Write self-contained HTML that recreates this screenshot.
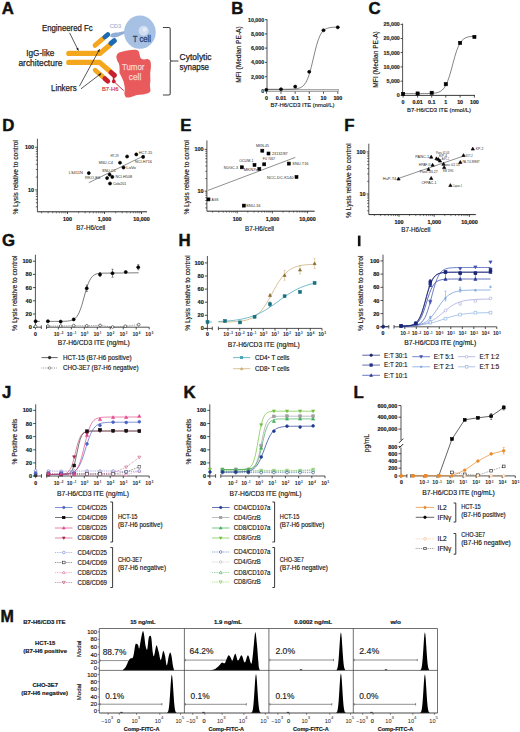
<!DOCTYPE html>
<html><head><meta charset="utf-8"><title>Figure</title>
<style>
html,body{margin:0;padding:0;background:#fff;}
body{width:520px;height:732px;overflow:hidden;}
svg{display:block;font-family:"Liberation Sans", sans-serif;}
</style></head>
<body>
<svg width="520" height="732" viewBox="0 0 520 732">
<rect width="520" height="732" fill="#fff"/>
<text x="1.80" y="13.50" font-size="16.8" font-weight="bold" fill="#111" style="stroke:#111;stroke-width:0.45">A</text>
<path d="M110.2,36.4 C110.6,33.6 113.5,32.6 116.5,32.6 C119,32.6 121,31.6 123.5,31.2 L125.5,31.0 L125.5,33.6 C123,34.2 121,35.4 118.5,36.4 C115.5,37.6 112.5,38.2 110.2,36.4 Z" fill="#8FADD6"/>
<ellipse cx="139.9" cy="32.2" rx="15.8" ry="16.6" fill="#A7C1E4"/>
<circle cx="143.6" cy="30.8" r="5.0" fill="#CFDDF1"/>
<circle cx="144.6" cy="29.6" r="2.2" fill="#E4ECF8"/>
<text x="132.80" y="41.80" font-size="8.4" fill="#2B4468" textLength="18.2" lengthAdjust="spacingAndGlyphs" style="stroke:#2B4468;stroke-width:0.3">T cell</text>
<text x="109.80" y="28.30" font-size="6.2" fill="#A3B6D2" textLength="11.3" lengthAdjust="spacingAndGlyphs" style="stroke:#A3B6D2;stroke-width:0.15">CD3</text>
<path d="M116.30,56.50 C116.57,55.98 116.87,54.22 117.90,53.40 C118.93,52.58 120.62,52.12 122.50,51.60 C124.38,51.08 127.03,50.60 129.20,50.30 C131.37,50.00 133.93,49.63 135.50,49.80 C137.07,49.97 137.92,50.50 138.60,51.30 C139.28,52.10 139.23,53.43 139.60,54.60 C139.97,55.77 140.12,57.50 140.80,58.30 C141.48,59.10 142.50,59.25 143.70,59.40 C144.90,59.55 146.88,58.88 148.00,59.20 C149.12,59.52 149.92,59.98 150.40,61.30 C150.88,62.62 150.93,65.02 150.90,67.10 C150.87,69.18 150.28,71.55 150.20,73.80 C150.12,76.05 150.45,78.67 150.40,80.60 C150.35,82.53 149.90,83.80 149.90,85.40 C149.90,87.00 150.63,88.92 150.40,90.20 C150.17,91.48 149.78,92.38 148.50,93.10 C147.22,93.82 144.63,94.18 142.70,94.50 C140.77,94.82 138.82,94.60 136.90,95.00 C134.98,95.40 132.97,96.50 131.20,96.90 C129.43,97.30 127.43,97.88 126.30,97.40 C125.17,96.92 124.63,95.37 124.40,94.00 C124.17,92.63 124.90,90.63 124.90,89.20 C124.90,87.77 124.63,86.68 124.40,85.40 C124.17,84.12 123.98,82.95 123.50,81.50 C123.02,80.05 122.15,78.13 121.50,76.70 C120.85,75.27 119.92,74.18 119.60,72.90 C119.28,71.62 119.68,70.45 119.60,69.00 C119.52,67.55 119.50,65.63 119.10,64.20 C118.70,62.77 117.67,61.68 117.20,60.40 C116.73,59.12 116.45,57.15 116.30,56.50 Z" fill="#E95A5D"/>
<text x="122.00" y="70.00" font-size="8.4" fill="#F8D2D2" textLength="22.4" lengthAdjust="spacingAndGlyphs" style="stroke:#F8D2D2;stroke-width:0.25">Tumor</text>
<text x="128.80" y="80.30" font-size="8.4" fill="#F8D2D2" textLength="12.5" lengthAdjust="spacingAndGlyphs" style="stroke:#F8D2D2;stroke-width:0.25">cell</text>
<path d="M68.8,53.4 L99.8,53.4 L109.8,45.0" stroke="#F4A71D" stroke-width="5.2" fill="none" stroke-linecap="round" stroke-linejoin="round"/>
<path d="M111.2,43.2 L114.2,40.8" stroke="#1C6AB4" stroke-width="5.2" fill="none" stroke-linecap="round" stroke-linejoin="round"/>
<path d="M95.0,45.4 L103.2,38.4" stroke="#F4A71D" stroke-width="4.8" fill="none" stroke-linecap="round" stroke-linejoin="round"/>
<path d="M104.8,37.0 L107.8,34.6" stroke="#1C6AB4" stroke-width="4.8" fill="none" stroke-linecap="round" stroke-linejoin="round"/>
<path d="M68.8,62.4 L99.6,62.4 L109.6,71.0" stroke="#F4A71D" stroke-width="5.2" fill="none" stroke-linecap="round" stroke-linejoin="round"/>
<path d="M111.2,72.6 L114.2,75.2" stroke="#C8202F" stroke-width="5.2" fill="none" stroke-linecap="round" stroke-linejoin="round"/>
<path d="M95.2,70.2 L103.0,77.0" stroke="#F4A71D" stroke-width="4.8" fill="none" stroke-linecap="round" stroke-linejoin="round"/>
<path d="M104.8,78.6 L107.8,81.2" stroke="#C8202F" stroke-width="4.8" fill="none" stroke-linecap="round" stroke-linejoin="round"/>
<line x1="113.60" y1="77.00" x2="113.60" y2="80.50" stroke="#C8202F" stroke-width="1.6"/>
<circle cx="113.8" cy="81.4" r="1.9" fill="#C8202F"/>
<line x1="114.80" y1="82.40" x2="123.80" y2="90.80" stroke="#C8202F" stroke-width="0.9"/>
<text x="102.00" y="91.00" font-size="5.6" fill="#D0303A" textLength="16.4" lengthAdjust="spacingAndGlyphs" style="stroke:#D0303A;stroke-width:0.15">B7-H6</text>
<text x="42.00" y="30.60" font-size="9.0" fill="#222" textLength="50.6" lengthAdjust="spacingAndGlyphs" style="stroke:#222;stroke-width:0.25">Engineered Fc</text>
<text x="26.20" y="55.60" font-size="9.0" fill="#222" textLength="28.2" lengthAdjust="spacingAndGlyphs" style="stroke:#222;stroke-width:0.25">IgG-like</text>
<text x="18.40" y="66.30" font-size="9.0" fill="#222" textLength="44.0" lengthAdjust="spacingAndGlyphs" style="stroke:#222;stroke-width:0.25">architecture</text>
<text x="51.00" y="91.00" font-size="9.0" fill="#222" textLength="25.6" lengthAdjust="spacingAndGlyphs" style="stroke:#222;stroke-width:0.25">Linkers</text>
<line x1="69.60" y1="32.80" x2="78.40" y2="50.60" stroke="#111" stroke-width="0.7"/>
<path d="M78.40,50.60 L76.17,48.80 L78.32,47.74 Z" fill="#111"/>
<line x1="79.40" y1="86.20" x2="99.60" y2="49.20" stroke="#111" stroke-width="0.7"/>
<path d="M99.60,49.20 L99.41,52.06 L97.30,50.91 Z" fill="#111"/>
<line x1="81.00" y1="88.80" x2="101.20" y2="73.40" stroke="#111" stroke-width="0.7"/>
<path d="M101.20,73.40 L99.86,75.93 L98.40,74.02 Z" fill="#111"/>
<path d="M162.9,27.5 L168.8,27.5 Q170.2,27.5 170.2,29 L170.2,59.6 Q170.2,61 172,61 L178.4,61 M172,61 Q170.2,61 170.2,62.4 L170.2,93.5 Q170.2,95 168.8,95 L162.9,95" stroke="#444" stroke-width="1.1" fill="none"/>
<text x="179.60" y="59.80" font-size="8.9" fill="#222" textLength="32.0" lengthAdjust="spacingAndGlyphs" style="stroke:#222;stroke-width:0.25">Cytolytic</text>
<text x="179.60" y="69.50" font-size="8.9" fill="#222" textLength="29.4" lengthAdjust="spacingAndGlyphs" style="stroke:#222;stroke-width:0.25">synapse</text>
<text x="231.20" y="13.50" font-size="16.8" font-weight="bold" fill="#111" style="stroke:#111;stroke-width:0.45">B</text>
<line x1="267.00" y1="19.20" x2="267.00" y2="91.60" stroke="#262626" stroke-width="0.8"/>
<line x1="265.00" y1="19.70" x2="267.00" y2="19.70" stroke="#262626" stroke-width="0.8"/>
<text x="264.20" y="21.61" font-size="5.3" font-weight="bold" text-anchor="end" fill="#262626" style="stroke:#262626;stroke-width:0.15">10,000</text>
<line x1="265.00" y1="33.90" x2="267.00" y2="33.90" stroke="#262626" stroke-width="0.8"/>
<text x="264.20" y="35.81" font-size="5.3" font-weight="bold" text-anchor="end" fill="#262626" style="stroke:#262626;stroke-width:0.15">8,000</text>
<line x1="265.00" y1="48.10" x2="267.00" y2="48.10" stroke="#262626" stroke-width="0.8"/>
<text x="264.20" y="50.01" font-size="5.3" font-weight="bold" text-anchor="end" fill="#262626" style="stroke:#262626;stroke-width:0.15">6,000</text>
<line x1="265.00" y1="62.40" x2="267.00" y2="62.40" stroke="#262626" stroke-width="0.8"/>
<text x="264.20" y="64.31" font-size="5.3" font-weight="bold" text-anchor="end" fill="#262626" style="stroke:#262626;stroke-width:0.15">4,000</text>
<line x1="265.00" y1="76.70" x2="267.00" y2="76.70" stroke="#262626" stroke-width="0.8"/>
<text x="264.20" y="78.61" font-size="5.3" font-weight="bold" text-anchor="end" fill="#262626" style="stroke:#262626;stroke-width:0.15">2,000</text>
<line x1="265.00" y1="90.80" x2="267.00" y2="90.80" stroke="#262626" stroke-width="0.8"/>
<text x="264.20" y="92.71" font-size="5.3" font-weight="bold" text-anchor="end" fill="#262626" style="stroke:#262626;stroke-width:0.15">0</text>
<rect x="267.0" y="89.5" width="71.4" height="2.1" fill="#dcdcdc" stroke="#666" stroke-width="0.5"/>
<line x1="266.60" y1="91.60" x2="266.60" y2="93.80" stroke="#262626" stroke-width="0.8"/>
<text x="266.60" y="99.60" font-size="5.3" font-weight="bold" text-anchor="middle" fill="#141414" style="stroke:#141414;stroke-width:0.15">0</text>
<line x1="281.00" y1="91.60" x2="281.00" y2="93.80" stroke="#262626" stroke-width="0.8"/>
<text x="281.00" y="99.60" font-size="5.3" font-weight="bold" text-anchor="middle" fill="#141414" style="stroke:#141414;stroke-width:0.15">0.01</text>
<line x1="295.20" y1="91.60" x2="295.20" y2="93.80" stroke="#262626" stroke-width="0.8"/>
<text x="295.20" y="99.60" font-size="5.3" font-weight="bold" text-anchor="middle" fill="#141414" style="stroke:#141414;stroke-width:0.15">0.1</text>
<line x1="309.30" y1="91.60" x2="309.30" y2="93.80" stroke="#262626" stroke-width="0.8"/>
<text x="309.30" y="99.60" font-size="5.3" font-weight="bold" text-anchor="middle" fill="#141414" style="stroke:#141414;stroke-width:0.15">1</text>
<line x1="323.50" y1="91.60" x2="323.50" y2="93.80" stroke="#262626" stroke-width="0.8"/>
<text x="323.50" y="99.60" font-size="5.3" font-weight="bold" text-anchor="middle" fill="#141414" style="stroke:#141414;stroke-width:0.15">10</text>
<line x1="337.80" y1="91.60" x2="337.80" y2="93.80" stroke="#262626" stroke-width="0.8"/>
<text x="337.80" y="99.60" font-size="5.3" font-weight="bold" text-anchor="middle" fill="#141414" style="stroke:#141414;stroke-width:0.15">100</text>
<text x="302.40" y="107.20" font-size="5.9" text-anchor="middle" fill="#141414" textLength="64" lengthAdjust="spacingAndGlyphs" style="stroke:#141414;stroke-width:0.15">B7-H6/CD3 ITE (nmol/L)</text>
<text x="241.10" y="54.50" font-size="6.6" text-anchor="middle" fill="#141414" transform="rotate(-90 241.10 54.50)" style="stroke:#141414;stroke-width:0.15">MFI (Median PE-A)</text>
<path d="M266.60,89.30 L268.39,89.30 L270.17,89.30 L271.96,89.30 L273.74,89.30 L275.53,89.30 L277.31,89.30 L279.10,89.30 L280.88,89.29 L282.67,89.29 L284.45,89.28 L286.24,89.27 L288.02,89.25 L289.81,89.21 L291.59,89.15 L293.38,89.06 L295.16,88.91 L296.94,88.66 L298.73,88.26 L300.51,87.61 L302.30,86.57 L304.09,84.94 L305.87,82.45 L307.66,78.80 L309.44,73.74 L311.23,67.28 L313.01,59.84 L314.80,52.19 L316.58,45.22 L318.37,39.53 L320.15,35.28 L321.94,32.32 L323.72,30.35 L325.50,29.09 L327.29,28.29 L329.07,27.79 L330.86,27.48 L332.64,27.30 L334.43,27.18 L336.22,27.11 L338.00,27.07" stroke="#333" stroke-width="0.6" fill="none"/>
<circle cx="266.30" cy="89.80" r="1.55" fill="#000" stroke="#000" stroke-width="0.6"/>
<circle cx="281.00" cy="89.20" r="1.55" fill="#000" stroke="#000" stroke-width="0.6"/>
<circle cx="295.20" cy="86.60" r="1.55" fill="#000" stroke="#000" stroke-width="0.6"/>
<circle cx="309.20" cy="71.80" r="1.55" fill="#000" stroke="#000" stroke-width="0.6"/>
<circle cx="323.50" cy="30.30" r="1.55" fill="#000" stroke="#000" stroke-width="0.6"/>
<circle cx="337.80" cy="27.30" r="1.55" fill="#000" stroke="#000" stroke-width="0.6"/>
<text x="368.60" y="13.70" font-size="16.8" font-weight="bold" fill="#111" style="stroke:#111;stroke-width:0.45">C</text>
<line x1="402.60" y1="23.60" x2="402.60" y2="95.40" stroke="#262626" stroke-width="0.8"/>
<line x1="400.60" y1="24.40" x2="402.60" y2="24.40" stroke="#262626" stroke-width="0.8"/>
<text x="399.80" y="26.31" font-size="5.3" font-weight="bold" text-anchor="end" fill="#262626" style="stroke:#262626;stroke-width:0.15">25,000</text>
<line x1="400.60" y1="38.50" x2="402.60" y2="38.50" stroke="#262626" stroke-width="0.8"/>
<text x="399.80" y="40.41" font-size="5.3" font-weight="bold" text-anchor="end" fill="#262626" style="stroke:#262626;stroke-width:0.15">20,000</text>
<line x1="400.60" y1="52.60" x2="402.60" y2="52.60" stroke="#262626" stroke-width="0.8"/>
<text x="399.80" y="54.51" font-size="5.3" font-weight="bold" text-anchor="end" fill="#262626" style="stroke:#262626;stroke-width:0.15">15,000</text>
<line x1="400.60" y1="66.90" x2="402.60" y2="66.90" stroke="#262626" stroke-width="0.8"/>
<text x="399.80" y="68.81" font-size="5.3" font-weight="bold" text-anchor="end" fill="#262626" style="stroke:#262626;stroke-width:0.15">10,000</text>
<line x1="400.60" y1="81.20" x2="402.60" y2="81.20" stroke="#262626" stroke-width="0.8"/>
<text x="399.80" y="83.11" font-size="5.3" font-weight="bold" text-anchor="end" fill="#262626" style="stroke:#262626;stroke-width:0.15">5,000</text>
<line x1="400.60" y1="95.30" x2="402.60" y2="95.30" stroke="#262626" stroke-width="0.8"/>
<text x="399.80" y="97.21" font-size="5.3" font-weight="bold" text-anchor="end" fill="#262626" style="stroke:#262626;stroke-width:0.15">0</text>
<line x1="402.60" y1="95.40" x2="475.00" y2="95.40" stroke="#262626" stroke-width="0.9"/>
<line x1="403.10" y1="95.40" x2="403.10" y2="97.60" stroke="#262626" stroke-width="0.8"/>
<text x="403.10" y="104.20" font-size="5.3" font-weight="bold" text-anchor="middle" fill="#141414" style="stroke:#141414;stroke-width:0.15">0</text>
<line x1="417.60" y1="95.40" x2="417.60" y2="97.60" stroke="#262626" stroke-width="0.8"/>
<text x="417.60" y="104.20" font-size="5.3" font-weight="bold" text-anchor="middle" fill="#141414" style="stroke:#141414;stroke-width:0.15">0.01</text>
<line x1="431.70" y1="95.40" x2="431.70" y2="97.60" stroke="#262626" stroke-width="0.8"/>
<text x="431.70" y="104.20" font-size="5.3" font-weight="bold" text-anchor="middle" fill="#141414" style="stroke:#141414;stroke-width:0.15">0.1</text>
<line x1="445.80" y1="95.40" x2="445.80" y2="97.60" stroke="#262626" stroke-width="0.8"/>
<text x="445.80" y="104.20" font-size="5.3" font-weight="bold" text-anchor="middle" fill="#141414" style="stroke:#141414;stroke-width:0.15">1</text>
<line x1="460.10" y1="95.40" x2="460.10" y2="97.60" stroke="#262626" stroke-width="0.8"/>
<text x="460.10" y="104.20" font-size="5.3" font-weight="bold" text-anchor="middle" fill="#141414" style="stroke:#141414;stroke-width:0.15">10</text>
<line x1="474.40" y1="95.40" x2="474.40" y2="97.60" stroke="#262626" stroke-width="0.8"/>
<text x="474.40" y="104.20" font-size="5.3" font-weight="bold" text-anchor="middle" fill="#141414" style="stroke:#141414;stroke-width:0.15">100</text>
<text x="439.00" y="111.60" font-size="5.9" text-anchor="middle" fill="#141414" textLength="64" lengthAdjust="spacingAndGlyphs" style="stroke:#141414;stroke-width:0.15">B7-H6/CD3 ITE (nmol/L)</text>
<text x="377.90" y="59.40" font-size="6.6" text-anchor="middle" fill="#141414" transform="rotate(-90 377.90 59.40)" style="stroke:#141414;stroke-width:0.15">MFI (Median PE-A)</text>
<path d="M403.10,93.60 L404.88,93.60 L406.67,93.60 L408.45,93.60 L410.23,93.60 L412.01,93.60 L413.80,93.60 L415.58,93.60 L417.36,93.59 L419.14,93.59 L420.93,93.59 L422.71,93.58 L424.49,93.56 L426.27,93.54 L428.06,93.51 L429.84,93.46 L431.62,93.37 L433.40,93.23 L435.19,93.02 L436.97,92.67 L438.75,92.13 L440.53,91.29 L442.31,90.00 L444.10,88.05 L445.88,85.21 L447.66,81.26 L449.44,76.11 L451.23,69.95 L453.01,63.25 L454.79,56.71 L456.57,50.98 L458.36,46.38 L460.14,42.96 L461.92,40.56 L463.70,38.94 L465.49,37.88 L467.27,37.19 L469.05,36.75 L470.83,36.47 L472.62,36.30 L474.40,36.19" stroke="#333" stroke-width="0.6" fill="none"/>
<rect x="401.50" y="92.30" width="3.20" height="3.20" fill="#000" stroke="#000" stroke-width="0.6"/>
<rect x="416.00" y="91.90" width="3.20" height="3.20" fill="#000" stroke="#000" stroke-width="0.6"/>
<rect x="430.10" y="91.20" width="3.20" height="3.20" fill="#000" stroke="#000" stroke-width="0.6"/>
<rect x="444.20" y="82.60" width="3.20" height="3.20" fill="#000" stroke="#000" stroke-width="0.6"/>
<rect x="458.50" y="41.30" width="3.20" height="3.20" fill="#000" stroke="#000" stroke-width="0.6"/>
<rect x="472.80" y="35.30" width="3.20" height="3.20" fill="#000" stroke="#000" stroke-width="0.6"/>
<text x="2.20" y="131.30" font-size="16.8" font-weight="bold" fill="#111" style="stroke:#111;stroke-width:0.45">D</text>
<line x1="37.40" y1="138.80" x2="37.40" y2="211.80" stroke="#262626" stroke-width="0.8"/>
<line x1="35.20" y1="147.30" x2="37.40" y2="147.30" stroke="#262626" stroke-width="0.8"/>
<text x="34.20" y="149.20" font-size="5.5" font-weight="bold" text-anchor="end" fill="#141414" style="stroke:#141414;stroke-width:0.15">100</text>
<line x1="35.20" y1="189.90" x2="37.40" y2="189.90" stroke="#262626" stroke-width="0.8"/>
<text x="34.20" y="191.80" font-size="5.5" font-weight="bold" text-anchor="end" fill="#141414" style="stroke:#141414;stroke-width:0.15">10</text>
<line x1="35.80" y1="206.85" x2="37.40" y2="206.85" stroke="#262626" stroke-width="0.7"/>
<line x1="35.80" y1="202.72" x2="37.40" y2="202.72" stroke="#262626" stroke-width="0.7"/>
<line x1="35.80" y1="199.35" x2="37.40" y2="199.35" stroke="#262626" stroke-width="0.7"/>
<line x1="35.80" y1="196.50" x2="37.40" y2="196.50" stroke="#262626" stroke-width="0.7"/>
<line x1="35.80" y1="194.03" x2="37.40" y2="194.03" stroke="#262626" stroke-width="0.7"/>
<line x1="35.80" y1="191.85" x2="37.40" y2="191.85" stroke="#262626" stroke-width="0.7"/>
<line x1="35.80" y1="177.08" x2="37.40" y2="177.08" stroke="#262626" stroke-width="0.7"/>
<line x1="35.80" y1="169.57" x2="37.40" y2="169.57" stroke="#262626" stroke-width="0.7"/>
<line x1="35.80" y1="164.25" x2="37.40" y2="164.25" stroke="#262626" stroke-width="0.7"/>
<line x1="35.80" y1="160.12" x2="37.40" y2="160.12" stroke="#262626" stroke-width="0.7"/>
<line x1="35.80" y1="156.75" x2="37.40" y2="156.75" stroke="#262626" stroke-width="0.7"/>
<line x1="35.80" y1="153.90" x2="37.40" y2="153.90" stroke="#262626" stroke-width="0.7"/>
<line x1="35.80" y1="151.43" x2="37.40" y2="151.43" stroke="#262626" stroke-width="0.7"/>
<line x1="35.80" y1="149.25" x2="37.40" y2="149.25" stroke="#262626" stroke-width="0.7"/>
<line x1="37.40" y1="211.80" x2="147.00" y2="211.80" stroke="#262626" stroke-width="1.0"/>
<line x1="67.50" y1="211.80" x2="67.50" y2="214.00" stroke="#262626" stroke-width="0.8"/>
<text x="67.50" y="220.70" font-size="5.4" font-weight="bold" text-anchor="middle" fill="#141414" style="stroke:#141414;stroke-width:0.15">100</text>
<line x1="104.50" y1="211.80" x2="104.50" y2="214.00" stroke="#262626" stroke-width="0.8"/>
<text x="104.50" y="220.70" font-size="5.4" font-weight="bold" text-anchor="middle" fill="#141414" style="stroke:#141414;stroke-width:0.15">1,000</text>
<line x1="141.50" y1="211.80" x2="141.50" y2="214.00" stroke="#262626" stroke-width="0.8"/>
<text x="141.50" y="220.70" font-size="5.4" font-weight="bold" text-anchor="middle" fill="#141414" style="stroke:#141414;stroke-width:0.15">10,000</text>
<line x1="41.64" y1="211.80" x2="41.64" y2="213.30" stroke="#262626" stroke-width="0.6"/>
<line x1="48.15" y1="211.80" x2="48.15" y2="213.30" stroke="#262626" stroke-width="0.6"/>
<line x1="52.78" y1="211.80" x2="52.78" y2="213.30" stroke="#262626" stroke-width="0.6"/>
<line x1="56.36" y1="211.80" x2="56.36" y2="213.30" stroke="#262626" stroke-width="0.6"/>
<line x1="59.29" y1="211.80" x2="59.29" y2="213.30" stroke="#262626" stroke-width="0.6"/>
<line x1="61.77" y1="211.80" x2="61.77" y2="213.30" stroke="#262626" stroke-width="0.6"/>
<line x1="63.91" y1="211.80" x2="63.91" y2="213.30" stroke="#262626" stroke-width="0.6"/>
<line x1="65.81" y1="211.80" x2="65.81" y2="213.30" stroke="#262626" stroke-width="0.6"/>
<line x1="78.64" y1="211.80" x2="78.64" y2="213.30" stroke="#262626" stroke-width="0.6"/>
<line x1="85.15" y1="211.80" x2="85.15" y2="213.30" stroke="#262626" stroke-width="0.6"/>
<line x1="89.78" y1="211.80" x2="89.78" y2="213.30" stroke="#262626" stroke-width="0.6"/>
<line x1="93.36" y1="211.80" x2="93.36" y2="213.30" stroke="#262626" stroke-width="0.6"/>
<line x1="96.29" y1="211.80" x2="96.29" y2="213.30" stroke="#262626" stroke-width="0.6"/>
<line x1="98.77" y1="211.80" x2="98.77" y2="213.30" stroke="#262626" stroke-width="0.6"/>
<line x1="100.91" y1="211.80" x2="100.91" y2="213.30" stroke="#262626" stroke-width="0.6"/>
<line x1="102.81" y1="211.80" x2="102.81" y2="213.30" stroke="#262626" stroke-width="0.6"/>
<line x1="115.64" y1="211.80" x2="115.64" y2="213.30" stroke="#262626" stroke-width="0.6"/>
<line x1="122.15" y1="211.80" x2="122.15" y2="213.30" stroke="#262626" stroke-width="0.6"/>
<line x1="126.78" y1="211.80" x2="126.78" y2="213.30" stroke="#262626" stroke-width="0.6"/>
<line x1="130.36" y1="211.80" x2="130.36" y2="213.30" stroke="#262626" stroke-width="0.6"/>
<line x1="133.29" y1="211.80" x2="133.29" y2="213.30" stroke="#262626" stroke-width="0.6"/>
<line x1="135.77" y1="211.80" x2="135.77" y2="213.30" stroke="#262626" stroke-width="0.6"/>
<line x1="137.91" y1="211.80" x2="137.91" y2="213.30" stroke="#262626" stroke-width="0.6"/>
<line x1="139.81" y1="211.80" x2="139.81" y2="213.30" stroke="#262626" stroke-width="0.6"/>
<text x="90.70" y="230.20" font-size="6.3" text-anchor="middle" fill="#141414" style="stroke:#141414;stroke-width:0.15">B7-H6/cell</text>
<text x="17.90" y="177.30" font-size="6.5" text-anchor="middle" fill="#141414" transform="rotate(-90 17.90 177.30)" textLength="74.6" lengthAdjust="spacingAndGlyphs" style="stroke:#141414;stroke-width:0.15">% Lysis relative to control</text>
<path d="M88.80,182.70 L144.60,155.40" stroke="#444" stroke-width="0.6" fill="none"/>
<circle cx="136.30" cy="154.40" r="1.55" fill="#000" stroke="#000" stroke-width="0.6"/>
<circle cx="127.10" cy="156.50" r="1.55" fill="#000" stroke="#000" stroke-width="0.6"/>
<circle cx="143.10" cy="156.90" r="1.55" fill="#000" stroke="#000" stroke-width="0.6"/>
<circle cx="120.00" cy="162.70" r="1.55" fill="#000" stroke="#000" stroke-width="0.6"/>
<circle cx="123.50" cy="167.50" r="1.55" fill="#000" stroke="#000" stroke-width="0.6"/>
<circle cx="88.80" cy="173.10" r="1.55" fill="#000" stroke="#000" stroke-width="0.6"/>
<circle cx="109.60" cy="174.60" r="1.55" fill="#000" stroke="#000" stroke-width="0.6"/>
<circle cx="107.10" cy="178.10" r="1.55" fill="#000" stroke="#000" stroke-width="0.6"/>
<circle cx="112.30" cy="176.90" r="1.55" fill="#000" stroke="#000" stroke-width="0.6"/>
<circle cx="110.00" cy="183.50" r="1.55" fill="#000" stroke="#000" stroke-width="0.6"/>
<text x="138.80" y="154.40" font-size="3.6" fill="#2a2a2a" textLength="13.5" lengthAdjust="spacingAndGlyphs" style="stroke:none">HCT-15</text>
<text x="110.40" y="157.10" font-size="3.6" fill="#2a2a2a" textLength="8.3" lengthAdjust="spacingAndGlyphs" style="stroke:none">HT-29</text>
<text x="135.00" y="162.50" font-size="3.6" fill="#2a2a2a" textLength="17.0" lengthAdjust="spacingAndGlyphs" style="stroke:none">NCI-H716</text>
<text x="98.50" y="164.00" font-size="3.6" fill="#2a2a2a" textLength="14.4" lengthAdjust="spacingAndGlyphs" style="stroke:none">SNU-C4</text>
<text x="126.30" y="168.80" font-size="3.6" fill="#2a2a2a" textLength="9.7" lengthAdjust="spacingAndGlyphs" style="stroke:none">LoVo</text>
<text x="68.70" y="174.40" font-size="3.6" fill="#2a2a2a" textLength="14.3" lengthAdjust="spacingAndGlyphs" style="stroke:none">LS411N</text>
<text x="101.90" y="171.70" font-size="3.6" fill="#2a2a2a" textLength="13.9" lengthAdjust="spacingAndGlyphs" style="stroke:none">SNU-C1</text>
<text x="85.00" y="179.20" font-size="3.6" fill="#2a2a2a" textLength="15.4" lengthAdjust="spacingAndGlyphs" style="stroke:none">RKO-E6</text>
<text x="115.40" y="177.80" font-size="3.6" fill="#2a2a2a" textLength="16.7" lengthAdjust="spacingAndGlyphs" style="stroke:none">NCI-H508</text>
<text x="112.90" y="184.80" font-size="3.6" fill="#2a2a2a" textLength="13.4" lengthAdjust="spacingAndGlyphs" style="stroke:none">Colo201</text>
<text x="180.20" y="131.30" font-size="16.8" font-weight="bold" fill="#111" style="stroke:#111;stroke-width:0.45">E</text>
<line x1="206.90" y1="140.40" x2="206.90" y2="211.20" stroke="#262626" stroke-width="0.8"/>
<line x1="204.70" y1="149.40" x2="206.90" y2="149.40" stroke="#262626" stroke-width="0.8"/>
<text x="203.70" y="151.30" font-size="5.5" font-weight="bold" text-anchor="end" fill="#141414" style="stroke:#141414;stroke-width:0.15">100</text>
<line x1="204.70" y1="191.20" x2="206.90" y2="191.20" stroke="#262626" stroke-width="0.8"/>
<text x="203.70" y="193.10" font-size="5.5" font-weight="bold" text-anchor="end" fill="#141414" style="stroke:#141414;stroke-width:0.15">10</text>
<line x1="205.30" y1="207.83" x2="206.90" y2="207.83" stroke="#262626" stroke-width="0.7"/>
<line x1="205.30" y1="203.78" x2="206.90" y2="203.78" stroke="#262626" stroke-width="0.7"/>
<line x1="205.30" y1="200.47" x2="206.90" y2="200.47" stroke="#262626" stroke-width="0.7"/>
<line x1="205.30" y1="197.67" x2="206.90" y2="197.67" stroke="#262626" stroke-width="0.7"/>
<line x1="205.30" y1="195.25" x2="206.90" y2="195.25" stroke="#262626" stroke-width="0.7"/>
<line x1="205.30" y1="193.11" x2="206.90" y2="193.11" stroke="#262626" stroke-width="0.7"/>
<line x1="205.30" y1="178.62" x2="206.90" y2="178.62" stroke="#262626" stroke-width="0.7"/>
<line x1="205.30" y1="171.26" x2="206.90" y2="171.26" stroke="#262626" stroke-width="0.7"/>
<line x1="205.30" y1="166.03" x2="206.90" y2="166.03" stroke="#262626" stroke-width="0.7"/>
<line x1="205.30" y1="161.98" x2="206.90" y2="161.98" stroke="#262626" stroke-width="0.7"/>
<line x1="205.30" y1="158.67" x2="206.90" y2="158.67" stroke="#262626" stroke-width="0.7"/>
<line x1="205.30" y1="155.87" x2="206.90" y2="155.87" stroke="#262626" stroke-width="0.7"/>
<line x1="205.30" y1="153.45" x2="206.90" y2="153.45" stroke="#262626" stroke-width="0.7"/>
<line x1="205.30" y1="151.31" x2="206.90" y2="151.31" stroke="#262626" stroke-width="0.7"/>
<line x1="206.90" y1="211.20" x2="314.70" y2="211.20" stroke="#262626" stroke-width="1.0"/>
<line x1="237.20" y1="211.20" x2="237.20" y2="213.40" stroke="#262626" stroke-width="0.8"/>
<text x="237.20" y="221.10" font-size="5.4" font-weight="bold" text-anchor="middle" fill="#141414" style="stroke:#141414;stroke-width:0.15">100</text>
<line x1="272.40" y1="211.20" x2="272.40" y2="213.40" stroke="#262626" stroke-width="0.8"/>
<text x="272.40" y="221.10" font-size="5.4" font-weight="bold" text-anchor="middle" fill="#141414" style="stroke:#141414;stroke-width:0.15">1,000</text>
<line x1="307.60" y1="211.20" x2="307.60" y2="213.40" stroke="#262626" stroke-width="0.8"/>
<text x="307.60" y="221.10" font-size="5.4" font-weight="bold" text-anchor="middle" fill="#141414" style="stroke:#141414;stroke-width:0.15">10,000</text>
<line x1="212.60" y1="211.20" x2="212.60" y2="212.70" stroke="#262626" stroke-width="0.6"/>
<line x1="218.79" y1="211.20" x2="218.79" y2="212.70" stroke="#262626" stroke-width="0.6"/>
<line x1="223.19" y1="211.20" x2="223.19" y2="212.70" stroke="#262626" stroke-width="0.6"/>
<line x1="226.60" y1="211.20" x2="226.60" y2="212.70" stroke="#262626" stroke-width="0.6"/>
<line x1="229.39" y1="211.20" x2="229.39" y2="212.70" stroke="#262626" stroke-width="0.6"/>
<line x1="231.75" y1="211.20" x2="231.75" y2="212.70" stroke="#262626" stroke-width="0.6"/>
<line x1="233.79" y1="211.20" x2="233.79" y2="212.70" stroke="#262626" stroke-width="0.6"/>
<line x1="235.59" y1="211.20" x2="235.59" y2="212.70" stroke="#262626" stroke-width="0.6"/>
<line x1="247.80" y1="211.20" x2="247.80" y2="212.70" stroke="#262626" stroke-width="0.6"/>
<line x1="253.99" y1="211.20" x2="253.99" y2="212.70" stroke="#262626" stroke-width="0.6"/>
<line x1="258.39" y1="211.20" x2="258.39" y2="212.70" stroke="#262626" stroke-width="0.6"/>
<line x1="261.80" y1="211.20" x2="261.80" y2="212.70" stroke="#262626" stroke-width="0.6"/>
<line x1="264.59" y1="211.20" x2="264.59" y2="212.70" stroke="#262626" stroke-width="0.6"/>
<line x1="266.95" y1="211.20" x2="266.95" y2="212.70" stroke="#262626" stroke-width="0.6"/>
<line x1="268.99" y1="211.20" x2="268.99" y2="212.70" stroke="#262626" stroke-width="0.6"/>
<line x1="270.79" y1="211.20" x2="270.79" y2="212.70" stroke="#262626" stroke-width="0.6"/>
<line x1="283.00" y1="211.20" x2="283.00" y2="212.70" stroke="#262626" stroke-width="0.6"/>
<line x1="289.19" y1="211.20" x2="289.19" y2="212.70" stroke="#262626" stroke-width="0.6"/>
<line x1="293.59" y1="211.20" x2="293.59" y2="212.70" stroke="#262626" stroke-width="0.6"/>
<line x1="297.00" y1="211.20" x2="297.00" y2="212.70" stroke="#262626" stroke-width="0.6"/>
<line x1="299.79" y1="211.20" x2="299.79" y2="212.70" stroke="#262626" stroke-width="0.6"/>
<line x1="302.15" y1="211.20" x2="302.15" y2="212.70" stroke="#262626" stroke-width="0.6"/>
<line x1="304.19" y1="211.20" x2="304.19" y2="212.70" stroke="#262626" stroke-width="0.6"/>
<line x1="305.99" y1="211.20" x2="305.99" y2="212.70" stroke="#262626" stroke-width="0.6"/>
<text x="259.50" y="230.70" font-size="6.3" text-anchor="middle" fill="#141414" style="stroke:#141414;stroke-width:0.15">B7-H6/cell</text>
<text x="189.50" y="177.30" font-size="6.5" text-anchor="middle" fill="#141414" transform="rotate(-90 189.50 177.30)" textLength="74.6" lengthAdjust="spacingAndGlyphs" style="stroke:#141414;stroke-width:0.15">% Lysis relative to control</text>
<path d="M208.00,190.40 L295.30,157.40" stroke="#444" stroke-width="0.6" fill="none"/>
<rect x="260.80" y="149.20" width="3.00" height="3.00" fill="#000" stroke="#000" stroke-width="0.6"/>
<rect x="267.00" y="152.00" width="3.00" height="3.00" fill="#000" stroke="#000" stroke-width="0.6"/>
<rect x="253.00" y="163.50" width="3.00" height="3.00" fill="#000" stroke="#000" stroke-width="0.6"/>
<rect x="262.70" y="162.80" width="3.00" height="3.00" fill="#000" stroke="#000" stroke-width="0.6"/>
<rect x="240.30" y="165.80" width="3.00" height="3.00" fill="#000" stroke="#000" stroke-width="0.6"/>
<rect x="257.80" y="167.40" width="3.00" height="3.00" fill="#000" stroke="#000" stroke-width="0.6"/>
<rect x="287.30" y="162.10" width="3.00" height="3.00" fill="#000" stroke="#000" stroke-width="0.6"/>
<rect x="295.00" y="175.50" width="3.00" height="3.00" fill="#000" stroke="#000" stroke-width="0.6"/>
<rect x="207.00" y="197.90" width="3.00" height="3.00" fill="#000" stroke="#000" stroke-width="0.6"/>
<rect x="242.30" y="204.10" width="3.00" height="3.00" fill="#000" stroke="#000" stroke-width="0.6"/>
<text x="256.00" y="147.10" font-size="3.6" fill="#2a2a2a" textLength="13.0" lengthAdjust="spacingAndGlyphs" style="stroke:none">MKN-45</text>
<text x="272.00" y="154.80" font-size="3.6" fill="#2a2a2a" textLength="15.7" lengthAdjust="spacingAndGlyphs" style="stroke:none">23132/87</text>
<text x="239.20" y="161.70" font-size="3.6" fill="#2a2a2a" textLength="14.3" lengthAdjust="spacingAndGlyphs" style="stroke:none">OCUM-1</text>
<text x="262.80" y="160.30" font-size="3.6" fill="#2a2a2a" textLength="12.2" lengthAdjust="spacingAndGlyphs" style="stroke:none">FU 7467</text>
<text x="223.80" y="168.60" font-size="3.6" fill="#2a2a2a" textLength="14.2" lengthAdjust="spacingAndGlyphs" style="stroke:none">NUGC-3</text>
<text x="243.80" y="170.90" font-size="3.6" fill="#2a2a2a" textLength="13.9" lengthAdjust="spacingAndGlyphs" style="stroke:none">MKN7s</text>
<text x="292.30" y="164.90" font-size="3.6" fill="#2a2a2a" textLength="16.2" lengthAdjust="spacingAndGlyphs" style="stroke:none">SNU-T16</text>
<text x="267.00" y="178.80" font-size="3.6" fill="#2a2a2a" textLength="26.5" lengthAdjust="spacingAndGlyphs" style="stroke:none">NCC-DC-K140</text>
<text x="211.50" y="200.70" font-size="3.6" fill="#2a2a2a" textLength="7.0" lengthAdjust="spacingAndGlyphs" style="stroke:none">AGS</text>
<text x="246.00" y="206.90" font-size="3.6" fill="#2a2a2a" textLength="14.5" lengthAdjust="spacingAndGlyphs" style="stroke:none">SNU-16</text>
<text x="344.20" y="131.30" font-size="16.8" font-weight="bold" fill="#111" style="stroke:#111;stroke-width:0.45">F</text>
<line x1="368.80" y1="143.70" x2="368.80" y2="214.60" stroke="#262626" stroke-width="0.8"/>
<line x1="366.60" y1="151.90" x2="368.80" y2="151.90" stroke="#262626" stroke-width="0.8"/>
<text x="365.60" y="153.80" font-size="5.5" font-weight="bold" text-anchor="end" fill="#141414" style="stroke:#141414;stroke-width:0.15">100</text>
<line x1="366.60" y1="194.00" x2="368.80" y2="194.00" stroke="#262626" stroke-width="0.8"/>
<text x="365.60" y="195.90" font-size="5.5" font-weight="bold" text-anchor="end" fill="#141414" style="stroke:#141414;stroke-width:0.15">10</text>
<line x1="367.20" y1="210.75" x2="368.80" y2="210.75" stroke="#262626" stroke-width="0.7"/>
<line x1="367.20" y1="206.67" x2="368.80" y2="206.67" stroke="#262626" stroke-width="0.7"/>
<line x1="367.20" y1="203.34" x2="368.80" y2="203.34" stroke="#262626" stroke-width="0.7"/>
<line x1="367.20" y1="200.52" x2="368.80" y2="200.52" stroke="#262626" stroke-width="0.7"/>
<line x1="367.20" y1="198.08" x2="368.80" y2="198.08" stroke="#262626" stroke-width="0.7"/>
<line x1="367.20" y1="195.93" x2="368.80" y2="195.93" stroke="#262626" stroke-width="0.7"/>
<line x1="367.20" y1="181.33" x2="368.80" y2="181.33" stroke="#262626" stroke-width="0.7"/>
<line x1="367.20" y1="173.91" x2="368.80" y2="173.91" stroke="#262626" stroke-width="0.7"/>
<line x1="367.20" y1="168.65" x2="368.80" y2="168.65" stroke="#262626" stroke-width="0.7"/>
<line x1="367.20" y1="164.57" x2="368.80" y2="164.57" stroke="#262626" stroke-width="0.7"/>
<line x1="367.20" y1="161.24" x2="368.80" y2="161.24" stroke="#262626" stroke-width="0.7"/>
<line x1="367.20" y1="158.42" x2="368.80" y2="158.42" stroke="#262626" stroke-width="0.7"/>
<line x1="367.20" y1="155.98" x2="368.80" y2="155.98" stroke="#262626" stroke-width="0.7"/>
<line x1="367.20" y1="153.83" x2="368.80" y2="153.83" stroke="#262626" stroke-width="0.7"/>
<line x1="368.80" y1="214.60" x2="475.80" y2="214.60" stroke="#262626" stroke-width="1.0"/>
<line x1="399.00" y1="214.60" x2="399.00" y2="216.80" stroke="#262626" stroke-width="0.8"/>
<text x="399.00" y="224.10" font-size="5.4" font-weight="bold" text-anchor="middle" fill="#141414" style="stroke:#141414;stroke-width:0.15">100</text>
<line x1="434.20" y1="214.60" x2="434.20" y2="216.80" stroke="#262626" stroke-width="0.8"/>
<text x="434.20" y="224.10" font-size="5.4" font-weight="bold" text-anchor="middle" fill="#141414" style="stroke:#141414;stroke-width:0.15">1,000</text>
<line x1="469.40" y1="214.60" x2="469.40" y2="216.80" stroke="#262626" stroke-width="0.8"/>
<text x="469.40" y="224.10" font-size="5.4" font-weight="bold" text-anchor="middle" fill="#141414" style="stroke:#141414;stroke-width:0.15">10,000</text>
<line x1="374.40" y1="214.60" x2="374.40" y2="216.10" stroke="#262626" stroke-width="0.6"/>
<line x1="380.59" y1="214.60" x2="380.59" y2="216.10" stroke="#262626" stroke-width="0.6"/>
<line x1="384.99" y1="214.60" x2="384.99" y2="216.10" stroke="#262626" stroke-width="0.6"/>
<line x1="388.40" y1="214.60" x2="388.40" y2="216.10" stroke="#262626" stroke-width="0.6"/>
<line x1="391.19" y1="214.60" x2="391.19" y2="216.10" stroke="#262626" stroke-width="0.6"/>
<line x1="393.55" y1="214.60" x2="393.55" y2="216.10" stroke="#262626" stroke-width="0.6"/>
<line x1="395.59" y1="214.60" x2="395.59" y2="216.10" stroke="#262626" stroke-width="0.6"/>
<line x1="397.39" y1="214.60" x2="397.39" y2="216.10" stroke="#262626" stroke-width="0.6"/>
<line x1="409.60" y1="214.60" x2="409.60" y2="216.10" stroke="#262626" stroke-width="0.6"/>
<line x1="415.79" y1="214.60" x2="415.79" y2="216.10" stroke="#262626" stroke-width="0.6"/>
<line x1="420.19" y1="214.60" x2="420.19" y2="216.10" stroke="#262626" stroke-width="0.6"/>
<line x1="423.60" y1="214.60" x2="423.60" y2="216.10" stroke="#262626" stroke-width="0.6"/>
<line x1="426.39" y1="214.60" x2="426.39" y2="216.10" stroke="#262626" stroke-width="0.6"/>
<line x1="428.75" y1="214.60" x2="428.75" y2="216.10" stroke="#262626" stroke-width="0.6"/>
<line x1="430.79" y1="214.60" x2="430.79" y2="216.10" stroke="#262626" stroke-width="0.6"/>
<line x1="432.59" y1="214.60" x2="432.59" y2="216.10" stroke="#262626" stroke-width="0.6"/>
<line x1="444.80" y1="214.60" x2="444.80" y2="216.10" stroke="#262626" stroke-width="0.6"/>
<line x1="450.99" y1="214.60" x2="450.99" y2="216.10" stroke="#262626" stroke-width="0.6"/>
<line x1="455.39" y1="214.60" x2="455.39" y2="216.10" stroke="#262626" stroke-width="0.6"/>
<line x1="458.80" y1="214.60" x2="458.80" y2="216.10" stroke="#262626" stroke-width="0.6"/>
<line x1="461.59" y1="214.60" x2="461.59" y2="216.10" stroke="#262626" stroke-width="0.6"/>
<line x1="463.95" y1="214.60" x2="463.95" y2="216.10" stroke="#262626" stroke-width="0.6"/>
<line x1="465.99" y1="214.60" x2="465.99" y2="216.10" stroke="#262626" stroke-width="0.6"/>
<line x1="467.79" y1="214.60" x2="467.79" y2="216.10" stroke="#262626" stroke-width="0.6"/>
<text x="415.80" y="232.20" font-size="6.3" text-anchor="middle" fill="#141414" style="stroke:#141414;stroke-width:0.15">B7-H6/cell</text>
<text x="351.40" y="180.60" font-size="6.5" text-anchor="middle" fill="#141414" transform="rotate(-90 351.40 180.60)" textLength="74.6" lengthAdjust="spacingAndGlyphs" style="stroke:#141414;stroke-width:0.15">% Lysis relative to control</text>
<path d="M398.50,178.40 L464.20,155.80" stroke="#444" stroke-width="0.6" fill="none"/>
<path d="M472.80,147.13 L474.47,150.05 L471.13,150.05 Z" fill="#000" stroke="#000" stroke-width="0.6"/>
<path d="M463.50,153.63 L465.17,156.55 L461.83,156.55 Z" fill="#000" stroke="#000" stroke-width="0.6"/>
<path d="M460.30,160.53 L461.97,163.45 L458.63,163.45 Z" fill="#000" stroke="#000" stroke-width="0.6"/>
<path d="M431.20,155.23 L432.87,158.15 L429.53,158.15 Z" fill="#000" stroke="#000" stroke-width="0.6"/>
<path d="M436.50,156.83 L438.17,159.75 L434.83,159.75 Z" fill="#000" stroke="#000" stroke-width="0.6"/>
<path d="M438.40,157.53 L440.07,160.45 L436.73,160.45 Z" fill="#000" stroke="#000" stroke-width="0.6"/>
<path d="M440.00,159.13 L441.67,162.05 L438.33,162.05 Z" fill="#000" stroke="#000" stroke-width="0.6"/>
<path d="M432.60,163.33 L434.27,166.25 L430.93,166.25 Z" fill="#000" stroke="#000" stroke-width="0.6"/>
<path d="M443.50,162.33 L445.17,165.25 L441.83,165.25 Z" fill="#000" stroke="#000" stroke-width="0.6"/>
<path d="M444.20,165.63 L445.87,168.55 L442.53,168.55 Z" fill="#000" stroke="#000" stroke-width="0.6"/>
<path d="M428.50,167.53 L430.17,170.45 L426.83,170.45 Z" fill="#000" stroke="#000" stroke-width="0.6"/>
<path d="M398.50,177.13 L400.17,180.05 L396.83,180.05 Z" fill="#000" stroke="#000" stroke-width="0.6"/>
<path d="M431.20,176.53 L432.87,179.45 L429.53,179.45 Z" fill="#000" stroke="#000" stroke-width="0.6"/>
<path d="M450.40,183.63 L452.07,186.55 L448.73,186.55 Z" fill="#000" stroke="#000" stroke-width="0.6"/>
<text x="475.80" y="150.10" font-size="3.6" fill="#2a2a2a" textLength="7.6" lengthAdjust="spacingAndGlyphs" style="stroke:none">KP-2</text>
<text x="465.40" y="157.10" font-size="3.6" fill="#2a2a2a" textLength="7.4" lengthAdjust="spacingAndGlyphs" style="stroke:none">KOT-2</text>
<text x="462.40" y="162.80" font-size="3.6" fill="#2a2a2a" textLength="17.3" lengthAdjust="spacingAndGlyphs" style="stroke:none">PA-TU-8988T</text>
<text x="415.30" y="158.20" font-size="3.6" fill="#2a2a2a" textLength="13.9" lengthAdjust="spacingAndGlyphs" style="stroke:none">PANC-1</text>
<text x="436.00" y="154.10" font-size="3.6" fill="#2a2a2a" textLength="13.2" lengthAdjust="spacingAndGlyphs" style="stroke:none">Panc 02.03</text>
<text x="439.00" y="157.30" font-size="3.6" fill="#2a2a2a" textLength="8.0" lengthAdjust="spacingAndGlyphs" style="stroke:none">KP-4</text>
<text x="441.80" y="159.90" font-size="3.6" fill="#2a2a2a" textLength="7.4" lengthAdjust="spacingAndGlyphs" style="stroke:none">AsPC-1</text>
<text x="418.80" y="166.30" font-size="3.6" fill="#2a2a2a" textLength="11.5" lengthAdjust="spacingAndGlyphs" style="stroke:none">HPAF-II</text>
<text x="442.80" y="165.60" font-size="3.6" fill="#2a2a2a" textLength="16.8" lengthAdjust="spacingAndGlyphs" style="stroke:none">Panc 02.13</text>
<text x="442.80" y="171.60" font-size="3.6" fill="#2a2a2a" textLength="10.6" lengthAdjust="spacingAndGlyphs" style="stroke:none">SW 1990</text>
<text x="419.70" y="172.50" font-size="3.6" fill="#2a2a2a" textLength="18.0" lengthAdjust="spacingAndGlyphs" style="stroke:none">Panc 03.27</text>
<text x="382.80" y="180.10" font-size="3.6" fill="#2a2a2a" textLength="13.4" lengthAdjust="spacingAndGlyphs" style="stroke:none">HuP-T4</text>
<text x="421.50" y="184.30" font-size="3.6" fill="#2a2a2a" textLength="15.0" lengthAdjust="spacingAndGlyphs" style="stroke:none">CFPAC-1</text>
<text x="452.70" y="186.60" font-size="3.6" fill="#2a2a2a" textLength="9.3" lengthAdjust="spacingAndGlyphs" style="stroke:none">Capan-1</text>
<text x="2.00" y="246.20" font-size="16.8" font-weight="bold" fill="#111" style="stroke:#111;stroke-width:0.45">G</text>
<line x1="35.40" y1="254.70" x2="35.40" y2="327.20" stroke="#262626" stroke-width="0.8"/>
<line x1="32.90" y1="261.20" x2="35.40" y2="261.20" stroke="#262626" stroke-width="0.8"/>
<text x="31.80" y="263.20" font-size="5.6" font-weight="bold" text-anchor="end" fill="#141414" style="stroke:#141414;stroke-width:0.15">100</text>
<line x1="32.90" y1="274.40" x2="35.40" y2="274.40" stroke="#262626" stroke-width="0.8"/>
<text x="31.80" y="276.40" font-size="5.6" font-weight="bold" text-anchor="end" fill="#141414" style="stroke:#141414;stroke-width:0.15">80</text>
<line x1="32.90" y1="287.60" x2="35.40" y2="287.60" stroke="#262626" stroke-width="0.8"/>
<text x="31.80" y="289.60" font-size="5.6" font-weight="bold" text-anchor="end" fill="#141414" style="stroke:#141414;stroke-width:0.15">60</text>
<line x1="32.90" y1="300.80" x2="35.40" y2="300.80" stroke="#262626" stroke-width="0.8"/>
<text x="31.80" y="302.80" font-size="5.6" font-weight="bold" text-anchor="end" fill="#141414" style="stroke:#141414;stroke-width:0.15">40</text>
<line x1="32.90" y1="314.00" x2="35.40" y2="314.00" stroke="#262626" stroke-width="0.8"/>
<text x="31.80" y="316.00" font-size="5.6" font-weight="bold" text-anchor="end" fill="#141414" style="stroke:#141414;stroke-width:0.15">20</text>
<line x1="32.90" y1="327.20" x2="35.40" y2="327.20" stroke="#262626" stroke-width="0.8"/>
<text x="31.80" y="329.20" font-size="5.6" font-weight="bold" text-anchor="end" fill="#141414" style="stroke:#141414;stroke-width:0.15">0</text>
<line x1="33.20" y1="327.20" x2="41.30" y2="327.20" stroke="#262626" stroke-width="0.8"/>
<line x1="41.30" y1="325.40" x2="41.30" y2="329.00" stroke="#262626" stroke-width="0.8"/>
<line x1="35.40" y1="327.20" x2="35.40" y2="329.40" stroke="#262626" stroke-width="0.8"/>
<text x="35.40" y="335.50" font-size="5.2" font-weight="bold" text-anchor="middle" fill="#141414" style="stroke:#141414;stroke-width:0.15">0</text>
<line x1="46.50" y1="327.20" x2="149.19" y2="327.20" stroke="#262626" stroke-width="0.8"/>
<line x1="46.50" y1="325.40" x2="46.50" y2="329.00" stroke="#262626" stroke-width="0.8"/>
<line x1="58.40" y1="327.20" x2="58.40" y2="329.40" stroke="#262626" stroke-width="0.8"/>
<line x1="71.37" y1="327.20" x2="71.37" y2="329.40" stroke="#262626" stroke-width="0.8"/>
<line x1="84.34" y1="327.20" x2="84.34" y2="329.40" stroke="#262626" stroke-width="0.8"/>
<line x1="97.31" y1="327.20" x2="97.31" y2="329.40" stroke="#262626" stroke-width="0.8"/>
<line x1="110.28" y1="327.20" x2="110.28" y2="329.40" stroke="#262626" stroke-width="0.8"/>
<line x1="123.25" y1="327.20" x2="123.25" y2="329.40" stroke="#262626" stroke-width="0.8"/>
<line x1="136.22" y1="327.20" x2="136.22" y2="329.40" stroke="#262626" stroke-width="0.8"/>
<line x1="149.19" y1="327.20" x2="149.19" y2="329.40" stroke="#262626" stroke-width="0.8"/>
<text x="58.50" y="335.50" font-size="5.2" font-weight="bold" text-anchor="middle" fill="#262626">10<tspan font-size="2.86" dx="0.5" dy="-1.66">−2</tspan></text>
<text x="71.47" y="335.50" font-size="5.2" font-weight="bold" text-anchor="middle" fill="#262626">10<tspan font-size="2.86" dx="0.5" dy="-1.66">−1</tspan></text>
<text x="84.44" y="335.50" font-size="5.2" font-weight="bold" text-anchor="middle" fill="#262626">10<tspan font-size="2.86" dx="0.5" dy="-1.66">0</tspan></text>
<text x="97.41" y="335.50" font-size="5.2" font-weight="bold" text-anchor="middle" fill="#262626">10<tspan font-size="2.86" dx="0.5" dy="-1.66">1</tspan></text>
<text x="110.38" y="335.50" font-size="5.2" font-weight="bold" text-anchor="middle" fill="#262626">10<tspan font-size="2.86" dx="0.5" dy="-1.66">2</tspan></text>
<text x="123.35" y="335.50" font-size="5.2" font-weight="bold" text-anchor="middle" fill="#262626">10<tspan font-size="2.86" dx="0.5" dy="-1.66">3</tspan></text>
<text x="136.32" y="335.50" font-size="5.2" font-weight="bold" text-anchor="middle" fill="#262626">10<tspan font-size="2.86" dx="0.5" dy="-1.66">4</tspan></text>
<text x="149.29" y="335.50" font-size="5.2" font-weight="bold" text-anchor="middle" fill="#262626">10<tspan font-size="2.86" dx="0.5" dy="-1.66">5</tspan></text>
<text x="93.70" y="345.40" font-size="6.6" text-anchor="middle" fill="#141414" textLength="72.0" lengthAdjust="spacingAndGlyphs" style="stroke:#141414;stroke-width:0.15">B7-H6/CD3 ITE (ng/mL)</text>
<text x="17.20" y="293.20" font-size="6.5" text-anchor="middle" fill="#141414" transform="rotate(-90 17.20 293.20)" textLength="75.4" lengthAdjust="spacingAndGlyphs" style="stroke:#141414;stroke-width:0.15">% Lysis relative to control</text>
<path d="M47.90,321.40 L49.20,321.40 L50.50,321.40 L51.81,321.40 L53.11,321.40 L54.41,321.39 L55.71,321.39 L57.02,321.39 L58.32,321.38 L59.62,321.37 L60.92,321.36 L62.23,321.34 L63.53,321.30 L64.83,321.26 L66.13,321.19 L67.44,321.09 L68.74,320.94 L70.04,320.72 L71.34,320.40 L72.65,319.93 L73.95,319.26 L75.25,318.28 L76.56,316.92 L77.86,315.03 L79.16,312.51 L80.46,309.28 L81.77,305.36 L83.07,300.87 L84.37,296.11 L85.67,291.42 L86.97,287.14 L88.28,283.49 L89.58,280.56 L90.88,278.32 L92.19,276.66 L93.49,275.47 L94.79,274.63 L96.09,274.05 L97.39,273.65 L98.70,273.38 L100.00,273.19 L138.60,272.80" stroke="#222" stroke-width="0.6" fill="none"/>
<line x1="36.80" y1="321.40" x2="39.80" y2="321.40" stroke="#222" stroke-width="0.6"/>
<circle cx="35.60" cy="321.20" r="1.55" fill="#000" stroke="#000" stroke-width="0.6"/>
<circle cx="47.90" cy="321.20" r="1.55" fill="#000" stroke="#000" stroke-width="0.6"/>
<circle cx="60.70" cy="321.60" r="1.55" fill="#000" stroke="#000" stroke-width="0.6"/>
<circle cx="73.70" cy="319.40" r="1.55" fill="#000" stroke="#000" stroke-width="0.6"/>
<line x1="86.75" y1="285.10" x2="86.75" y2="291.50" stroke="#222" stroke-width="0.5"/>
<line x1="85.75" y1="285.10" x2="87.75" y2="285.10" stroke="#222" stroke-width="0.5"/>
<line x1="85.75" y1="291.50" x2="87.75" y2="291.50" stroke="#222" stroke-width="0.5"/>
<circle cx="86.75" cy="288.30" r="1.55" fill="#000" stroke="#000" stroke-width="0.6"/>
<line x1="100.00" y1="272.70" x2="100.00" y2="276.30" stroke="#222" stroke-width="0.5"/>
<line x1="99.00" y1="272.70" x2="101.00" y2="272.70" stroke="#222" stroke-width="0.5"/>
<line x1="99.00" y1="276.30" x2="101.00" y2="276.30" stroke="#222" stroke-width="0.5"/>
<circle cx="100.00" cy="274.50" r="1.55" fill="#000" stroke="#000" stroke-width="0.6"/>
<line x1="112.50" y1="269.20" x2="112.50" y2="277.20" stroke="#222" stroke-width="0.5"/>
<line x1="111.50" y1="269.20" x2="113.50" y2="269.20" stroke="#222" stroke-width="0.5"/>
<line x1="111.50" y1="277.20" x2="113.50" y2="277.20" stroke="#222" stroke-width="0.5"/>
<circle cx="112.50" cy="273.20" r="1.55" fill="#000" stroke="#000" stroke-width="0.6"/>
<circle cx="125.75" cy="272.00" r="1.55" fill="#000" stroke="#000" stroke-width="0.6"/>
<line x1="138.25" y1="264.60" x2="138.25" y2="269.80" stroke="#222" stroke-width="0.5"/>
<line x1="137.25" y1="264.60" x2="139.25" y2="264.60" stroke="#222" stroke-width="0.5"/>
<line x1="137.25" y1="269.80" x2="139.25" y2="269.80" stroke="#222" stroke-width="0.5"/>
<circle cx="138.25" cy="267.20" r="1.55" fill="#000" stroke="#000" stroke-width="0.6"/>
<path d="M47.90,326.00 L60.70,326.00 L73.70,325.60 L86.75,325.80 L100.10,325.40 L112.60,327.00 L125.30,326.20 L138.70,324.60" stroke="#555" stroke-width="0.6" fill="none" stroke-dasharray="0.9,0.9"/>
<circle cx="35.60" cy="326.40" r="1.35" fill="#fff" stroke="#111" stroke-width="0.55"/>
<circle cx="47.90" cy="326.00" r="1.35" fill="#fff" stroke="#111" stroke-width="0.55"/>
<circle cx="60.70" cy="326.00" r="1.35" fill="#fff" stroke="#111" stroke-width="0.55"/>
<circle cx="73.70" cy="325.60" r="1.35" fill="#fff" stroke="#111" stroke-width="0.55"/>
<circle cx="86.75" cy="325.80" r="1.35" fill="#fff" stroke="#111" stroke-width="0.55"/>
<circle cx="100.10" cy="325.40" r="1.35" fill="#fff" stroke="#111" stroke-width="0.55"/>
<circle cx="112.60" cy="327.00" r="1.35" fill="#fff" stroke="#111" stroke-width="0.55"/>
<circle cx="125.30" cy="326.20" r="1.35" fill="#fff" stroke="#111" stroke-width="0.55"/>
<circle cx="138.70" cy="324.60" r="1.35" fill="#fff" stroke="#111" stroke-width="0.55"/>
<line x1="41.50" y1="357.60" x2="57.70" y2="357.60" stroke="#222" stroke-width="0.7"/>
<circle cx="49.60" cy="357.60" r="1.3" fill="#222" stroke="#222" stroke-width="0.6"/>
<text x="63.00" y="359.90" font-size="6.5" fill="#141414" textLength="68.5" lengthAdjust="spacingAndGlyphs" style="stroke:#141414;stroke-width:0.15">HCT-15 (B7-H6 positive)</text>
<line x1="41.50" y1="368.00" x2="57.70" y2="368.00" stroke="#555" stroke-width="0.6" stroke-dasharray="0.9,0.9"/>
<circle cx="49.60" cy="368.00" r="1.3" fill="#fff" stroke="#555" stroke-width="0.6"/>
<text x="63.00" y="370.30" font-size="6.5" fill="#141414" textLength="75.5" lengthAdjust="spacingAndGlyphs" style="stroke:#141414;stroke-width:0.15">CHO-3E7 (B7-H6 negative)</text>
<text x="178.60" y="246.20" font-size="16.8" font-weight="bold" fill="#111" style="stroke:#111;stroke-width:0.45">H</text>
<line x1="207.40" y1="256.00" x2="207.40" y2="328.40" stroke="#262626" stroke-width="0.8"/>
<line x1="204.90" y1="262.90" x2="207.40" y2="262.90" stroke="#262626" stroke-width="0.8"/>
<text x="203.80" y="264.90" font-size="5.6" font-weight="bold" text-anchor="end" fill="#141414" style="stroke:#141414;stroke-width:0.15">100</text>
<line x1="204.90" y1="276.00" x2="207.40" y2="276.00" stroke="#262626" stroke-width="0.8"/>
<text x="203.80" y="278.00" font-size="5.6" font-weight="bold" text-anchor="end" fill="#141414" style="stroke:#141414;stroke-width:0.15">80</text>
<line x1="204.90" y1="289.10" x2="207.40" y2="289.10" stroke="#262626" stroke-width="0.8"/>
<text x="203.80" y="291.10" font-size="5.6" font-weight="bold" text-anchor="end" fill="#141414" style="stroke:#141414;stroke-width:0.15">60</text>
<line x1="204.90" y1="302.20" x2="207.40" y2="302.20" stroke="#262626" stroke-width="0.8"/>
<text x="203.80" y="304.20" font-size="5.6" font-weight="bold" text-anchor="end" fill="#141414" style="stroke:#141414;stroke-width:0.15">40</text>
<line x1="204.90" y1="315.30" x2="207.40" y2="315.30" stroke="#262626" stroke-width="0.8"/>
<text x="203.80" y="317.30" font-size="5.6" font-weight="bold" text-anchor="end" fill="#141414" style="stroke:#141414;stroke-width:0.15">20</text>
<line x1="204.90" y1="328.40" x2="207.40" y2="328.40" stroke="#262626" stroke-width="0.8"/>
<text x="203.80" y="330.40" font-size="5.6" font-weight="bold" text-anchor="end" fill="#141414" style="stroke:#141414;stroke-width:0.15">0</text>
<line x1="203.80" y1="328.40" x2="212.30" y2="328.40" stroke="#262626" stroke-width="0.8"/>
<line x1="212.30" y1="326.60" x2="212.30" y2="330.20" stroke="#262626" stroke-width="0.8"/>
<line x1="207.40" y1="328.40" x2="207.40" y2="330.60" stroke="#262626" stroke-width="0.8"/>
<text x="207.40" y="336.10" font-size="5.2" font-weight="bold" text-anchor="middle" fill="#141414" style="stroke:#141414;stroke-width:0.15">0</text>
<line x1="218.40" y1="328.40" x2="322.00" y2="328.40" stroke="#262626" stroke-width="0.8"/>
<line x1="218.40" y1="326.60" x2="218.40" y2="330.20" stroke="#262626" stroke-width="0.8"/>
<line x1="228.00" y1="328.40" x2="228.00" y2="330.60" stroke="#262626" stroke-width="0.8"/>
<line x1="239.75" y1="328.40" x2="239.75" y2="330.60" stroke="#262626" stroke-width="0.8"/>
<line x1="251.50" y1="328.40" x2="251.50" y2="330.60" stroke="#262626" stroke-width="0.8"/>
<line x1="263.25" y1="328.40" x2="263.25" y2="330.60" stroke="#262626" stroke-width="0.8"/>
<line x1="275.00" y1="328.40" x2="275.00" y2="330.60" stroke="#262626" stroke-width="0.8"/>
<line x1="286.75" y1="328.40" x2="286.75" y2="330.60" stroke="#262626" stroke-width="0.8"/>
<line x1="298.50" y1="328.40" x2="298.50" y2="330.60" stroke="#262626" stroke-width="0.8"/>
<line x1="310.25" y1="328.40" x2="310.25" y2="330.60" stroke="#262626" stroke-width="0.8"/>
<line x1="322.00" y1="328.40" x2="322.00" y2="330.60" stroke="#262626" stroke-width="0.8"/>
<text x="228.10" y="336.10" font-size="5.2" font-weight="bold" text-anchor="middle" fill="#262626">10<tspan font-size="2.86" dx="0.5" dy="-1.66">−3</tspan></text>
<text x="239.85" y="336.10" font-size="5.2" font-weight="bold" text-anchor="middle" fill="#262626">10<tspan font-size="2.86" dx="0.5" dy="-1.66">−2</tspan></text>
<text x="251.60" y="336.10" font-size="5.2" font-weight="bold" text-anchor="middle" fill="#262626">10<tspan font-size="2.86" dx="0.5" dy="-1.66">−1</tspan></text>
<text x="263.35" y="336.10" font-size="5.2" font-weight="bold" text-anchor="middle" fill="#262626">10<tspan font-size="2.86" dx="0.5" dy="-1.66">0</tspan></text>
<text x="275.10" y="336.10" font-size="5.2" font-weight="bold" text-anchor="middle" fill="#262626">10<tspan font-size="2.86" dx="0.5" dy="-1.66">1</tspan></text>
<text x="286.85" y="336.10" font-size="5.2" font-weight="bold" text-anchor="middle" fill="#262626">10<tspan font-size="2.86" dx="0.5" dy="-1.66">2</tspan></text>
<text x="298.60" y="336.10" font-size="5.2" font-weight="bold" text-anchor="middle" fill="#262626">10<tspan font-size="2.86" dx="0.5" dy="-1.66">3</tspan></text>
<text x="310.35" y="336.10" font-size="5.2" font-weight="bold" text-anchor="middle" fill="#262626">10<tspan font-size="2.86" dx="0.5" dy="-1.66">4</tspan></text>
<text x="322.10" y="336.10" font-size="5.2" font-weight="bold" text-anchor="middle" fill="#262626">10<tspan font-size="2.86" dx="0.5" dy="-1.66">5</tspan></text>
<text x="263.70" y="346.50" font-size="6.6" text-anchor="middle" fill="#141414" textLength="72.0" lengthAdjust="spacingAndGlyphs" style="stroke:#141414;stroke-width:0.15">B7-H6/CD3 ITE (ng/mL)</text>
<text x="189.50" y="293.00" font-size="6.5" text-anchor="middle" fill="#141414" transform="rotate(-90 189.50 293.00)" textLength="75.4" lengthAdjust="spacingAndGlyphs" style="stroke:#141414;stroke-width:0.15">% Lysis relative to control</text>
<path d="M218.40,322.14 L220.81,322.11 L223.23,322.08 L225.65,322.04 L228.06,321.99 L230.47,321.91 L232.89,321.81 L235.31,321.67 L237.72,321.48 L240.13,321.22 L242.55,320.88 L244.97,320.43 L247.38,319.82 L249.80,319.01 L252.21,317.96 L254.62,316.59 L257.04,314.83 L259.45,312.63 L261.87,309.93 L264.29,306.71 L266.70,303.00 L269.12,298.89 L271.53,294.52 L273.94,290.08 L276.36,285.78 L278.77,281.80 L281.19,278.26 L283.61,275.23 L286.02,272.71 L288.44,270.68 L290.85,269.08 L293.26,267.83 L295.68,266.87 L298.10,266.14 L300.51,265.59 L302.93,265.18 L305.34,264.87 L307.75,264.65 L310.17,264.48 L312.58,264.35 L315.00,264.26" stroke="#C8A86E" stroke-width="0.7" fill="none"/>
<path d="M218.40,321.54 L220.81,321.42 L223.23,321.29 L225.65,321.13 L228.06,320.94 L230.47,320.72 L232.89,320.46 L235.31,320.16 L237.72,319.81 L240.13,319.40 L242.55,318.94 L244.97,318.40 L247.38,317.78 L249.80,317.08 L252.21,316.28 L254.62,315.38 L257.04,314.37 L259.45,313.26 L261.87,312.03 L264.29,310.69 L266.70,309.24 L269.12,307.70 L271.53,306.08 L273.94,304.39 L276.36,302.65 L278.77,300.90 L281.19,299.15 L283.61,297.42 L286.02,295.75 L288.44,294.14 L290.85,292.62 L293.26,291.20 L295.68,289.88 L298.10,288.68 L300.51,287.59 L302.93,286.60 L305.34,285.73 L307.75,284.95 L310.17,284.27 L312.58,283.67 L315.00,283.15" stroke="#3A9EB2" stroke-width="0.7" fill="none"/>
<line x1="207.40" y1="322.00" x2="212.00" y2="322.00" stroke="#3A9EB2" stroke-width="0.7"/>
<line x1="270.00" y1="293.80" x2="270.00" y2="296.80" stroke="#C8A86E" stroke-width="0.5"/>
<line x1="269.00" y1="293.80" x2="271.00" y2="293.80" stroke="#C8A86E" stroke-width="0.5"/>
<line x1="269.00" y1="296.80" x2="271.00" y2="296.80" stroke="#C8A86E" stroke-width="0.5"/>
<path d="M270.00,293.75 L271.55,296.46 L268.45,296.46 Z" fill="#8C6A30" stroke="#8C6A30" stroke-width="0.6"/>
<line x1="284.60" y1="270.30" x2="284.60" y2="280.30" stroke="#C8A86E" stroke-width="0.5"/>
<line x1="283.60" y1="270.30" x2="285.60" y2="270.30" stroke="#C8A86E" stroke-width="0.5"/>
<line x1="283.60" y1="280.30" x2="285.60" y2="280.30" stroke="#C8A86E" stroke-width="0.5"/>
<path d="M284.60,273.75 L286.15,276.46 L283.05,276.46 Z" fill="#8C6A30" stroke="#8C6A30" stroke-width="0.6"/>
<line x1="300.00" y1="265.80" x2="300.00" y2="274.00" stroke="#C8A86E" stroke-width="0.5"/>
<line x1="299.00" y1="265.80" x2="301.00" y2="265.80" stroke="#C8A86E" stroke-width="0.5"/>
<line x1="299.00" y1="274.00" x2="301.00" y2="274.00" stroke="#C8A86E" stroke-width="0.5"/>
<path d="M300.00,268.35 L301.55,271.06 L298.45,271.06 Z" fill="#8C6A30" stroke="#8C6A30" stroke-width="0.6"/>
<line x1="314.60" y1="258.40" x2="314.60" y2="268.60" stroke="#C8A86E" stroke-width="0.5"/>
<line x1="313.60" y1="258.40" x2="315.60" y2="258.40" stroke="#C8A86E" stroke-width="0.5"/>
<line x1="313.60" y1="268.60" x2="315.60" y2="268.60" stroke="#C8A86E" stroke-width="0.5"/>
<path d="M314.60,261.95 L316.15,264.66 L313.05,264.66 Z" fill="#8C6A30" stroke="#8C6A30" stroke-width="0.6"/>
<rect x="206.05" y="320.55" width="2.90" height="2.90" fill="#16707E" stroke="#16707E" stroke-width="0.6"/>
<rect x="223.55" y="319.55" width="2.90" height="2.90" fill="#16707E" stroke="#16707E" stroke-width="0.6"/>
<rect x="238.55" y="320.95" width="2.90" height="2.90" fill="#16707E" stroke="#16707E" stroke-width="0.6"/>
<rect x="253.15" y="315.35" width="2.90" height="2.90" fill="#16707E" stroke="#16707E" stroke-width="0.6"/>
<rect x="268.55" y="302.75" width="2.90" height="2.90" fill="#16707E" stroke="#16707E" stroke-width="0.6"/>
<rect x="283.15" y="294.75" width="2.90" height="2.90" fill="#16707E" stroke="#16707E" stroke-width="0.6"/>
<rect x="298.55" y="290.45" width="2.90" height="2.90" fill="#16707E" stroke="#16707E" stroke-width="0.6"/>
<rect x="313.15" y="281.55" width="2.90" height="2.90" fill="#16707E" stroke="#16707E" stroke-width="0.6"/>
<line x1="270.00" y1="302.00" x2="270.00" y2="306.40" stroke="#16707E" stroke-width="0.5"/>
<line x1="269.00" y1="302.00" x2="271.00" y2="302.00" stroke="#16707E" stroke-width="0.5"/>
<line x1="269.00" y1="306.40" x2="271.00" y2="306.40" stroke="#16707E" stroke-width="0.5"/>
<line x1="233.00" y1="357.60" x2="250.30" y2="357.60" stroke="#3A9EB2" stroke-width="0.7"/>
<rect x="240.55" y="356.50" width="2.20" height="2.20" fill="#3A9EB2" stroke="#3A9EB2" stroke-width="0.6"/>
<text x="255.00" y="359.90" font-size="6.5" fill="#141414" textLength="34.5" lengthAdjust="spacingAndGlyphs" style="stroke:#141414;stroke-width:0.15">CD4<tspan font-size="4" dy="-2">+</tspan><tspan dy="2"> T cells</tspan></text>
<line x1="233.00" y1="368.70" x2="250.30" y2="368.70" stroke="#C8A86E" stroke-width="0.7"/>
<path d="M241.65,367.44 L242.91,369.65 L240.39,369.65 Z" fill="#C8A86E" stroke="#C8A86E" stroke-width="0.6"/>
<text x="255.00" y="371.00" font-size="6.5" fill="#141414" textLength="34.5" lengthAdjust="spacingAndGlyphs" style="stroke:#141414;stroke-width:0.15">CD8<tspan font-size="4" dy="-2">+</tspan><tspan dy="2"> T cells</tspan></text>
<rect x="357.9" y="235.6" width="2.6" height="10.6" fill="#111"/>
<line x1="383.00" y1="254.70" x2="383.00" y2="326.80" stroke="#262626" stroke-width="0.8"/>
<line x1="380.50" y1="260.90" x2="383.00" y2="260.90" stroke="#262626" stroke-width="0.8"/>
<text x="379.40" y="262.90" font-size="5.6" font-weight="bold" text-anchor="end" fill="#141414" style="stroke:#141414;stroke-width:0.15">100</text>
<line x1="380.50" y1="274.10" x2="383.00" y2="274.10" stroke="#262626" stroke-width="0.8"/>
<text x="379.40" y="276.10" font-size="5.6" font-weight="bold" text-anchor="end" fill="#141414" style="stroke:#141414;stroke-width:0.15">80</text>
<line x1="380.50" y1="287.30" x2="383.00" y2="287.30" stroke="#262626" stroke-width="0.8"/>
<text x="379.40" y="289.30" font-size="5.6" font-weight="bold" text-anchor="end" fill="#141414" style="stroke:#141414;stroke-width:0.15">60</text>
<line x1="380.50" y1="300.50" x2="383.00" y2="300.50" stroke="#262626" stroke-width="0.8"/>
<text x="379.40" y="302.50" font-size="5.6" font-weight="bold" text-anchor="end" fill="#141414" style="stroke:#141414;stroke-width:0.15">40</text>
<line x1="380.50" y1="313.60" x2="383.00" y2="313.60" stroke="#262626" stroke-width="0.8"/>
<text x="379.40" y="315.60" font-size="5.6" font-weight="bold" text-anchor="end" fill="#141414" style="stroke:#141414;stroke-width:0.15">20</text>
<line x1="380.50" y1="326.80" x2="383.00" y2="326.80" stroke="#262626" stroke-width="0.8"/>
<text x="379.40" y="328.80" font-size="5.6" font-weight="bold" text-anchor="end" fill="#141414" style="stroke:#141414;stroke-width:0.15">0</text>
<line x1="380.20" y1="326.80" x2="388.80" y2="326.80" stroke="#262626" stroke-width="0.8"/>
<line x1="388.80" y1="325.00" x2="388.80" y2="328.60" stroke="#262626" stroke-width="0.8"/>
<line x1="383.00" y1="326.80" x2="383.00" y2="329.00" stroke="#262626" stroke-width="0.8"/>
<text x="383.00" y="335.20" font-size="5.2" font-weight="bold" text-anchor="middle" fill="#141414" style="stroke:#141414;stroke-width:0.15">0</text>
<line x1="394.00" y1="326.80" x2="496.80" y2="326.80" stroke="#262626" stroke-width="0.8"/>
<line x1="394.00" y1="325.00" x2="394.00" y2="328.60" stroke="#262626" stroke-width="0.8"/>
<line x1="404.80" y1="326.80" x2="404.80" y2="329.00" stroke="#262626" stroke-width="0.8"/>
<line x1="416.30" y1="326.80" x2="416.30" y2="329.00" stroke="#262626" stroke-width="0.8"/>
<line x1="427.80" y1="326.80" x2="427.80" y2="329.00" stroke="#262626" stroke-width="0.8"/>
<line x1="439.30" y1="326.80" x2="439.30" y2="329.00" stroke="#262626" stroke-width="0.8"/>
<line x1="450.80" y1="326.80" x2="450.80" y2="329.00" stroke="#262626" stroke-width="0.8"/>
<line x1="462.30" y1="326.80" x2="462.30" y2="329.00" stroke="#262626" stroke-width="0.8"/>
<line x1="473.80" y1="326.80" x2="473.80" y2="329.00" stroke="#262626" stroke-width="0.8"/>
<line x1="485.30" y1="326.80" x2="485.30" y2="329.00" stroke="#262626" stroke-width="0.8"/>
<line x1="496.80" y1="326.80" x2="496.80" y2="329.00" stroke="#262626" stroke-width="0.8"/>
<text x="404.90" y="335.20" font-size="5.2" font-weight="bold" text-anchor="middle" fill="#262626">10<tspan font-size="2.86" dx="0.5" dy="-1.66">−3</tspan></text>
<text x="416.40" y="335.20" font-size="5.2" font-weight="bold" text-anchor="middle" fill="#262626">10<tspan font-size="2.86" dx="0.5" dy="-1.66">−2</tspan></text>
<text x="427.90" y="335.20" font-size="5.2" font-weight="bold" text-anchor="middle" fill="#262626">10<tspan font-size="2.86" dx="0.5" dy="-1.66">−1</tspan></text>
<text x="439.40" y="335.20" font-size="5.2" font-weight="bold" text-anchor="middle" fill="#262626">10<tspan font-size="2.86" dx="0.5" dy="-1.66">0</tspan></text>
<text x="450.90" y="335.20" font-size="5.2" font-weight="bold" text-anchor="middle" fill="#262626">10<tspan font-size="2.86" dx="0.5" dy="-1.66">1</tspan></text>
<text x="462.40" y="335.20" font-size="5.2" font-weight="bold" text-anchor="middle" fill="#262626">10<tspan font-size="2.86" dx="0.5" dy="-1.66">2</tspan></text>
<text x="473.90" y="335.20" font-size="5.2" font-weight="bold" text-anchor="middle" fill="#262626">10<tspan font-size="2.86" dx="0.5" dy="-1.66">3</tspan></text>
<text x="485.40" y="335.20" font-size="5.2" font-weight="bold" text-anchor="middle" fill="#262626">10<tspan font-size="2.86" dx="0.5" dy="-1.66">4</tspan></text>
<text x="496.90" y="335.20" font-size="5.2" font-weight="bold" text-anchor="middle" fill="#262626">10<tspan font-size="2.86" dx="0.5" dy="-1.66">5</tspan></text>
<text x="440.30" y="345.00" font-size="6.6" text-anchor="middle" fill="#141414" textLength="72.0" lengthAdjust="spacingAndGlyphs" style="stroke:#141414;stroke-width:0.15">B7-H6/CD3 ITE (ng/mL)</text>
<text x="362.90" y="293.20" font-size="6.5" text-anchor="middle" fill="#141414" transform="rotate(-90 362.90 293.20)" textLength="75.4" lengthAdjust="spacingAndGlyphs" style="stroke:#141414;stroke-width:0.15">% Lysis relative to control</text>
<path d="M401.10,326.00 L402.59,325.96 L404.08,325.93 L405.57,325.88 L407.06,325.83 L408.55,325.78 L410.04,325.71 L411.53,325.64 L413.02,325.55 L414.51,325.45 L416.00,325.34 L417.49,325.21 L418.98,325.06 L420.47,324.90 L421.96,324.71 L423.45,324.50 L424.94,324.27 L426.43,324.01 L427.92,323.72 L429.41,323.40 L430.90,323.05 L432.39,322.68 L433.88,322.27 L435.37,321.84 L436.86,321.39 L438.35,320.91 L439.84,320.42 L441.33,319.92 L442.82,319.41 L444.31,318.90 L445.80,318.40 L447.29,317.90 L448.78,317.42 L450.27,316.96 L451.76,316.53 L453.25,316.12 L454.74,315.74 L456.23,315.38 L457.72,315.06 L459.21,314.76 L460.70,314.49 L462.19,314.25 L463.68,314.04 L465.17,313.85 L466.66,313.68 L468.15,313.52 L469.64,313.39 L471.13,313.28 L472.62,313.17 L474.11,313.08 L475.60,313.01 L477.09,312.94 L478.58,312.88 L480.07,312.83 L481.56,312.78 L483.05,312.75 L484.54,312.71 L486.03,312.68 L487.52,312.66 L489.01,312.64 L490.50,312.62" stroke="#8DB0E3" stroke-width="0.75" fill="none"/>
<path d="M401.10,326.06 L402.59,326.03 L404.08,325.99 L405.57,325.95 L407.06,325.90 L408.55,325.84 L410.04,325.77 L411.53,325.68 L413.02,325.57 L414.51,325.45 L416.00,325.30 L417.49,325.12 L418.98,324.91 L420.47,324.66 L421.96,324.37 L423.45,324.03 L424.94,323.62 L426.43,323.16 L427.92,322.61 L429.41,321.99 L430.90,321.29 L432.39,320.49 L433.88,319.61 L435.37,318.63 L436.86,317.58 L438.35,316.44 L439.84,315.25 L441.33,314.01 L442.82,312.75 L444.31,311.49 L445.80,310.24 L447.29,309.04 L448.78,307.89 L450.27,306.81 L451.76,305.82 L453.25,304.91 L454.74,304.10 L456.23,303.37 L457.72,302.73 L459.21,302.17 L460.70,301.68 L462.19,301.26 L463.68,300.91 L465.17,300.60 L466.66,300.34 L468.15,300.12 L469.64,299.94 L471.13,299.78 L472.62,299.65 L474.11,299.55 L475.60,299.45 L477.09,299.38 L478.58,299.31 L480.07,299.26 L481.56,299.22 L483.05,299.18 L484.54,299.15 L486.03,299.12 L487.52,299.10 L489.01,299.09 L490.50,299.07" stroke="#A0A3DC" stroke-width="0.75" fill="none"/>
<path d="M401.10,326.12 L402.59,326.10 L404.08,326.07 L405.57,326.03 L407.06,325.99 L408.55,325.93 L410.04,325.85 L411.53,325.75 L413.02,325.63 L414.51,325.47 L416.00,325.27 L417.49,325.01 L418.98,324.69 L420.47,324.29 L421.96,323.79 L423.45,323.17 L424.94,322.40 L426.43,321.47 L427.92,320.35 L429.41,319.03 L430.90,317.49 L432.39,315.75 L433.88,313.81 L435.37,311.72 L436.86,309.51 L438.35,307.27 L439.84,305.05 L441.33,302.92 L442.82,300.94 L444.31,299.14 L445.80,297.55 L447.29,296.17 L448.78,295.00 L450.27,294.03 L451.76,293.22 L453.25,292.56 L454.74,292.03 L456.23,291.60 L457.72,291.26 L459.21,290.99 L460.70,290.78 L462.19,290.61 L463.68,290.48 L465.17,290.37 L466.66,290.29 L468.15,290.23 L469.64,290.18 L471.13,290.14 L472.62,290.11 L474.11,290.09 L475.60,290.07 L477.09,290.05 L478.58,290.04 L480.07,290.03 L481.56,290.02 L483.05,290.02 L484.54,290.01 L486.03,290.01 L487.52,290.01 L489.01,290.01 L490.50,290.01" stroke="#6F9ADA" stroke-width="0.75" fill="none"/>
<path d="M401.10,326.18 L402.59,326.17 L404.08,326.16 L405.57,326.14 L407.06,326.11 L408.55,326.06 L410.04,326.00 L411.53,325.90 L413.02,325.76 L414.51,325.55 L416.00,325.25 L417.49,324.80 L418.98,324.15 L420.47,323.22 L421.96,321.90 L423.45,320.05 L424.94,317.53 L426.43,314.22 L427.92,310.05 L429.41,305.08 L430.90,299.55 L432.39,293.81 L433.88,288.30 L435.37,283.38 L436.86,279.26 L438.35,276.00 L439.84,273.52 L441.33,271.71 L442.82,270.41 L444.31,269.50 L445.80,268.87 L447.29,268.43 L448.78,268.13 L450.27,267.93 L451.76,267.79 L453.25,267.70 L454.74,267.63 L456.23,267.59 L457.72,267.56 L459.21,267.54 L460.70,267.53 L462.19,267.52 L463.68,267.51 L465.17,267.51 L466.66,267.51 L468.15,267.50 L469.64,267.50 L471.13,267.50 L472.62,267.50 L474.11,267.50 L475.60,267.50 L477.09,267.50 L478.58,267.50 L480.07,267.50 L481.56,267.50 L483.05,267.50 L484.54,267.50 L486.03,267.50 L487.52,267.50 L489.01,267.50 L490.50,267.50" stroke="#3F51B5" stroke-width="0.75" fill="none"/>
<path d="M401.10,326.16 L402.59,326.14 L404.08,326.11 L405.57,326.06 L407.06,325.99 L408.55,325.88 L410.04,325.72 L411.53,325.47 L413.02,325.11 L414.51,324.57 L416.00,323.78 L417.49,322.63 L418.98,321.00 L420.47,318.75 L421.96,315.78 L423.45,312.04 L424.94,307.63 L426.43,302.83 L427.92,298.00 L429.41,293.55 L430.90,289.74 L432.39,286.69 L433.88,284.38 L435.37,282.70 L436.86,281.51 L438.35,280.69 L439.84,280.13 L441.33,279.75 L442.82,279.50 L444.31,279.33 L445.80,279.22 L447.29,279.15 L448.78,279.10 L450.27,279.06 L451.76,279.04 L453.25,279.03 L454.74,279.02 L456.23,279.01 L457.72,279.01 L459.21,279.01 L460.70,279.00 L462.19,279.00 L463.68,279.00 L465.17,279.00 L466.66,279.00 L468.15,279.00 L469.64,279.00 L471.13,279.00 L472.62,279.00 L474.11,279.00 L475.60,279.00 L477.09,279.00 L478.58,279.00 L480.07,279.00 L481.56,279.00 L483.05,279.00 L484.54,279.00 L486.03,279.00 L487.52,279.00 L489.01,279.00 L490.50,279.00" stroke="#2E3F9C" stroke-width="0.75" fill="none"/>
<path d="M401.10,326.15 L402.59,326.12 L404.08,326.07 L405.57,326.01 L407.06,325.91 L408.55,325.77 L410.04,325.55 L411.53,325.22 L413.02,324.73 L414.51,324.01 L416.00,322.96 L417.49,321.44 L418.98,319.31 L420.47,316.42 L421.96,312.66 L423.45,308.05 L424.94,302.78 L426.43,297.22 L427.92,291.82 L429.41,286.99 L430.90,282.98 L432.39,279.84 L433.88,277.51 L435.37,275.83 L436.86,274.65 L438.35,273.85 L439.84,273.30 L441.33,272.93 L442.82,272.69 L444.31,272.52 L445.80,272.41 L447.29,272.34 L448.78,272.29 L450.27,272.26 L451.76,272.24 L453.25,272.23 L454.74,272.22 L456.23,272.21 L457.72,272.21 L459.21,272.21 L460.70,272.20 L462.19,272.20 L463.68,272.20 L465.17,272.20 L466.66,272.20 L468.15,272.20 L469.64,272.20 L471.13,272.20 L472.62,272.20 L474.11,272.20 L475.60,272.20 L477.09,272.20 L478.58,272.20 L480.07,272.20 L481.56,272.20 L483.05,272.20 L484.54,272.20 L486.03,272.20 L487.52,272.20 L489.01,272.20 L490.50,272.20" stroke="#25318A" stroke-width="0.75" fill="none"/>
<path d="M401.10,326.14 L402.59,326.11 L404.08,326.07 L405.57,326.00 L407.06,325.90 L408.55,325.74 L410.04,325.51 L411.53,325.17 L413.02,324.65 L414.51,323.89 L416.00,322.78 L417.49,321.19 L418.98,318.97 L420.47,315.96 L421.96,312.09 L423.45,307.37 L424.94,302.04 L426.43,296.47 L427.92,291.13 L429.41,286.40 L430.90,282.51 L432.39,279.48 L433.88,277.25 L435.37,275.65 L436.86,274.53 L438.35,273.76 L439.84,273.24 L441.33,272.89 L442.82,272.66 L444.31,272.51 L445.80,272.40 L447.29,272.33 L448.78,272.29 L450.27,272.26 L451.76,272.24 L453.25,272.23 L454.74,272.22 L456.23,272.21 L457.72,272.21 L459.21,272.20 L460.70,272.20 L462.19,272.20 L463.68,272.20 L465.17,272.20 L466.66,272.20 L468.15,272.20 L469.64,272.20 L471.13,272.20 L472.62,272.20 L474.11,272.20 L475.60,272.20 L477.09,272.20 L478.58,272.20 L480.07,272.20 L481.56,272.20 L483.05,272.20 L484.54,272.20 L486.03,272.20 L487.52,272.20 L489.01,272.20 L490.50,272.20" stroke="#1A2470" stroke-width="0.75" fill="none"/>
<rect x="399.70" y="324.60" width="2.80" height="2.80" fill="#fff" stroke="#8DB0E3" stroke-width="0.6"/>
<rect x="414.40" y="322.00" width="2.80" height="2.80" fill="#fff" stroke="#8DB0E3" stroke-width="0.6"/>
<rect x="428.90" y="321.20" width="2.80" height="2.80" fill="#fff" stroke="#8DB0E3" stroke-width="0.6"/>
<rect x="444.10" y="317.20" width="2.80" height="2.80" fill="#fff" stroke="#8DB0E3" stroke-width="0.6"/>
<rect x="458.80" y="313.20" width="2.80" height="2.80" fill="#fff" stroke="#8DB0E3" stroke-width="0.6"/>
<rect x="474.00" y="311.20" width="2.80" height="2.80" fill="#fff" stroke="#8DB0E3" stroke-width="0.6"/>
<rect x="489.10" y="311.20" width="2.80" height="2.80" fill="#fff" stroke="#8DB0E3" stroke-width="0.6"/>
<circle cx="401.10" cy="326.00" r="1.4" fill="#fff" stroke="#A0A3DC" stroke-width="0.6"/>
<circle cx="415.80" cy="323.40" r="1.4" fill="#fff" stroke="#A0A3DC" stroke-width="0.6"/>
<circle cx="430.30" cy="322.00" r="1.4" fill="#fff" stroke="#A0A3DC" stroke-width="0.6"/>
<circle cx="445.50" cy="310.50" r="1.4" fill="#fff" stroke="#A0A3DC" stroke-width="0.6"/>
<circle cx="460.20" cy="303.90" r="1.4" fill="#fff" stroke="#A0A3DC" stroke-width="0.6"/>
<circle cx="475.40" cy="301.00" r="1.4" fill="#fff" stroke="#A0A3DC" stroke-width="0.6"/>
<circle cx="490.50" cy="298.40" r="1.4" fill="#fff" stroke="#A0A3DC" stroke-width="0.6"/>
<line x1="401.10" y1="324.60" x2="401.10" y2="327.40" stroke="#6F9ADA" stroke-width="0.6"/>
<line x1="402.31" y1="325.30" x2="399.89" y2="326.70" stroke="#6F9ADA" stroke-width="0.6"/>
<line x1="402.31" y1="326.70" x2="399.89" y2="325.30" stroke="#6F9ADA" stroke-width="0.6"/>
<line x1="415.80" y1="322.00" x2="415.80" y2="324.80" stroke="#6F9ADA" stroke-width="0.6"/>
<line x1="417.01" y1="322.70" x2="414.59" y2="324.10" stroke="#6F9ADA" stroke-width="0.6"/>
<line x1="417.01" y1="324.10" x2="414.59" y2="322.70" stroke="#6F9ADA" stroke-width="0.6"/>
<line x1="430.30" y1="316.20" x2="430.30" y2="319.00" stroke="#6F9ADA" stroke-width="0.6"/>
<line x1="431.51" y1="316.90" x2="429.09" y2="318.30" stroke="#6F9ADA" stroke-width="0.6"/>
<line x1="431.51" y1="318.30" x2="429.09" y2="316.90" stroke="#6F9ADA" stroke-width="0.6"/>
<line x1="445.50" y1="297.00" x2="445.50" y2="299.80" stroke="#6F9ADA" stroke-width="0.6"/>
<line x1="446.71" y1="297.70" x2="444.29" y2="299.10" stroke="#6F9ADA" stroke-width="0.6"/>
<line x1="446.71" y1="299.10" x2="444.29" y2="297.70" stroke="#6F9ADA" stroke-width="0.6"/>
<line x1="460.20" y1="288.30" x2="460.20" y2="291.10" stroke="#6F9ADA" stroke-width="0.6"/>
<line x1="461.41" y1="289.00" x2="458.99" y2="290.40" stroke="#6F9ADA" stroke-width="0.6"/>
<line x1="461.41" y1="290.40" x2="458.99" y2="289.00" stroke="#6F9ADA" stroke-width="0.6"/>
<line x1="475.40" y1="288.90" x2="475.40" y2="291.70" stroke="#6F9ADA" stroke-width="0.6"/>
<line x1="476.61" y1="289.60" x2="474.19" y2="291.00" stroke="#6F9ADA" stroke-width="0.6"/>
<line x1="476.61" y1="291.00" x2="474.19" y2="289.60" stroke="#6F9ADA" stroke-width="0.6"/>
<line x1="490.50" y1="285.50" x2="490.50" y2="288.30" stroke="#6F9ADA" stroke-width="0.6"/>
<line x1="491.71" y1="286.20" x2="489.29" y2="287.60" stroke="#6F9ADA" stroke-width="0.6"/>
<line x1="491.71" y1="287.60" x2="489.29" y2="286.20" stroke="#6F9ADA" stroke-width="0.6"/>
<path d="M401.10,327.61 L402.71,324.79 L399.49,324.79 Z" fill="#3F51B5" stroke="#3F51B5" stroke-width="0.6"/>
<path d="M415.80,325.01 L417.41,322.19 L414.19,322.19 Z" fill="#3F51B5" stroke="#3F51B5" stroke-width="0.6"/>
<path d="M430.30,303.41 L431.91,300.59 L428.69,300.59 Z" fill="#3F51B5" stroke="#3F51B5" stroke-width="0.6"/>
<path d="M445.50,273.61 L447.11,270.79 L443.89,270.79 Z" fill="#3F51B5" stroke="#3F51B5" stroke-width="0.6"/>
<path d="M460.20,270.31 L461.81,267.49 L458.59,267.49 Z" fill="#3F51B5" stroke="#3F51B5" stroke-width="0.6"/>
<path d="M475.40,268.71 L477.01,265.89 L473.79,265.89 Z" fill="#3F51B5" stroke="#3F51B5" stroke-width="0.6"/>
<path d="M490.50,263.71 L492.11,260.89 L488.89,260.89 Z" fill="#3F51B5" stroke="#3F51B5" stroke-width="0.6"/>
<path d="M401.10,324.39 L402.71,327.21 L399.49,327.21 Z" fill="#2E3F9C" stroke="#2E3F9C" stroke-width="0.6"/>
<path d="M415.80,321.79 L417.41,324.61 L414.19,324.61 Z" fill="#2E3F9C" stroke="#2E3F9C" stroke-width="0.6"/>
<path d="M430.30,283.69 L431.91,286.51 L428.69,286.51 Z" fill="#2E3F9C" stroke="#2E3F9C" stroke-width="0.6"/>
<path d="M445.50,277.59 L447.11,280.41 L443.89,280.41 Z" fill="#2E3F9C" stroke="#2E3F9C" stroke-width="0.6"/>
<path d="M460.20,277.59 L461.81,280.41 L458.59,280.41 Z" fill="#2E3F9C" stroke="#2E3F9C" stroke-width="0.6"/>
<path d="M475.40,277.59 L477.01,280.41 L473.79,280.41 Z" fill="#2E3F9C" stroke="#2E3F9C" stroke-width="0.6"/>
<path d="M490.50,270.59 L492.11,273.41 L488.89,273.41 Z" fill="#2E3F9C" stroke="#2E3F9C" stroke-width="0.6"/>
<rect x="399.70" y="324.60" width="2.80" height="2.80" fill="#25318A" stroke="#25318A" stroke-width="0.6"/>
<rect x="414.40" y="322.00" width="2.80" height="2.80" fill="#25318A" stroke="#25318A" stroke-width="0.6"/>
<rect x="428.90" y="282.10" width="2.80" height="2.80" fill="#25318A" stroke="#25318A" stroke-width="0.6"/>
<rect x="444.10" y="270.80" width="2.80" height="2.80" fill="#25318A" stroke="#25318A" stroke-width="0.6"/>
<rect x="458.80" y="271.80" width="2.80" height="2.80" fill="#25318A" stroke="#25318A" stroke-width="0.6"/>
<rect x="474.00" y="271.80" width="2.80" height="2.80" fill="#25318A" stroke="#25318A" stroke-width="0.6"/>
<rect x="489.10" y="268.10" width="2.80" height="2.80" fill="#25318A" stroke="#25318A" stroke-width="0.6"/>
<circle cx="401.10" cy="326.00" r="1.4" fill="#1A2470" stroke="#1A2470" stroke-width="0.6"/>
<circle cx="415.80" cy="323.40" r="1.4" fill="#1A2470" stroke="#1A2470" stroke-width="0.6"/>
<circle cx="430.30" cy="281.30" r="1.4" fill="#1A2470" stroke="#1A2470" stroke-width="0.6"/>
<circle cx="445.50" cy="272.20" r="1.4" fill="#1A2470" stroke="#1A2470" stroke-width="0.6"/>
<circle cx="460.20" cy="273.20" r="1.4" fill="#1A2470" stroke="#1A2470" stroke-width="0.6"/>
<circle cx="475.40" cy="273.20" r="1.4" fill="#1A2470" stroke="#1A2470" stroke-width="0.6"/>
<circle cx="490.50" cy="271.50" r="1.4" fill="#1A2470" stroke="#1A2470" stroke-width="0.6"/>
<circle cx="383.20" cy="326.60" r="1.5" fill="#1A2470" stroke="#1A2470" stroke-width="0.6"/>
<line x1="384.50" y1="326.60" x2="388.00" y2="326.60" stroke="#1A2470" stroke-width="0.8"/>
<line x1="430.30" y1="279.50" x2="430.30" y2="286.50" stroke="#25318A" stroke-width="0.5"/>
<line x1="429.30" y1="279.50" x2="431.30" y2="279.50" stroke="#25318A" stroke-width="0.5"/>
<line x1="429.30" y1="286.50" x2="431.30" y2="286.50" stroke="#25318A" stroke-width="0.5"/>
<line x1="445.50" y1="273.00" x2="445.50" y2="279.00" stroke="#25318A" stroke-width="0.5"/>
<line x1="444.50" y1="273.00" x2="446.50" y2="273.00" stroke="#25318A" stroke-width="0.5"/>
<line x1="444.50" y1="279.00" x2="446.50" y2="279.00" stroke="#25318A" stroke-width="0.5"/>
<line x1="430.30" y1="299.80" x2="430.30" y2="303.80" stroke="#3F51B5" stroke-width="0.5"/>
<line x1="429.30" y1="299.80" x2="431.30" y2="299.80" stroke="#3F51B5" stroke-width="0.5"/>
<line x1="429.30" y1="303.80" x2="431.30" y2="303.80" stroke="#3F51B5" stroke-width="0.5"/>
<line x1="445.50" y1="291.00" x2="445.50" y2="301.00" stroke="#6F9ADA" stroke-width="0.5"/>
<line x1="444.50" y1="291.00" x2="446.50" y2="291.00" stroke="#6F9ADA" stroke-width="0.5"/>
<line x1="444.50" y1="301.00" x2="446.50" y2="301.00" stroke="#6F9ADA" stroke-width="0.5"/>
<line x1="460.20" y1="287.20" x2="460.20" y2="292.20" stroke="#6F9ADA" stroke-width="0.5"/>
<line x1="459.20" y1="287.20" x2="461.20" y2="287.20" stroke="#6F9ADA" stroke-width="0.5"/>
<line x1="459.20" y1="292.20" x2="461.20" y2="292.20" stroke="#6F9ADA" stroke-width="0.5"/>
<line x1="430.30" y1="316.30" x2="430.30" y2="320.70" stroke="#6F9ADA" stroke-width="0.5"/>
<line x1="429.30" y1="316.30" x2="431.30" y2="316.30" stroke="#6F9ADA" stroke-width="0.5"/>
<line x1="429.30" y1="320.70" x2="431.30" y2="320.70" stroke="#6F9ADA" stroke-width="0.5"/>
<line x1="475.40" y1="274.00" x2="475.40" y2="279.00" stroke="#25318A" stroke-width="0.5"/>
<line x1="474.40" y1="274.00" x2="476.40" y2="274.00" stroke="#25318A" stroke-width="0.5"/>
<line x1="474.40" y1="279.00" x2="476.40" y2="279.00" stroke="#25318A" stroke-width="0.5"/>
<line x1="460.20" y1="274.00" x2="460.20" y2="279.00" stroke="#25318A" stroke-width="0.5"/>
<line x1="459.20" y1="274.00" x2="461.20" y2="274.00" stroke="#25318A" stroke-width="0.5"/>
<line x1="459.20" y1="279.00" x2="461.20" y2="279.00" stroke="#25318A" stroke-width="0.5"/>
<line x1="362.30" y1="355.20" x2="380.00" y2="355.20" stroke="#1A2470" stroke-width="0.7"/>
<circle cx="371.15" cy="355.20" r="1.3" fill="#1A2470" stroke="#1A2470" stroke-width="0.6"/>
<text x="384.00" y="357.50" font-size="6.5" fill="#141414" textLength="23.4" lengthAdjust="spacingAndGlyphs" style="stroke:#141414;stroke-width:0.15">E:T 30:1</text>
<line x1="362.30" y1="365.10" x2="380.00" y2="365.10" stroke="#25318A" stroke-width="0.7"/>
<rect x="369.85" y="363.80" width="2.60" height="2.60" fill="#25318A" stroke="#25318A" stroke-width="0.6"/>
<text x="384.00" y="367.40" font-size="6.5" fill="#141414" textLength="23.4" lengthAdjust="spacingAndGlyphs" style="stroke:#141414;stroke-width:0.15">E:T 20:1</text>
<line x1="362.30" y1="375.30" x2="380.00" y2="375.30" stroke="#2E3F9C" stroke-width="0.7"/>
<path d="M371.15,373.81 L372.64,376.42 L369.65,376.42 Z" fill="#2E3F9C" stroke="#2E3F9C" stroke-width="0.6"/>
<text x="384.00" y="377.60" font-size="6.5" fill="#141414" textLength="23.4" lengthAdjust="spacingAndGlyphs" style="stroke:#141414;stroke-width:0.15">E:T 10:1</text>
<line x1="412.30" y1="356.70" x2="430.00" y2="356.70" stroke="#3F51B5" stroke-width="0.7"/>
<path d="M421.15,358.19 L422.64,355.58 L419.65,355.58 Z" fill="#3F51B5" stroke="#3F51B5" stroke-width="0.6"/>
<text x="433.80" y="359.00" font-size="6.5" fill="#141414" textLength="20.2" lengthAdjust="spacingAndGlyphs" style="stroke:#141414;stroke-width:0.15">E:T 5:1</text>
<line x1="412.30" y1="366.80" x2="430.00" y2="366.80" stroke="#6F9ADA" stroke-width="0.7"/>
<line x1="421.15" y1="365.50" x2="421.15" y2="368.10" stroke="#6F9ADA" stroke-width="0.6"/>
<line x1="422.28" y1="366.15" x2="420.02" y2="367.45" stroke="#6F9ADA" stroke-width="0.6"/>
<line x1="422.28" y1="367.45" x2="420.02" y2="366.15" stroke="#6F9ADA" stroke-width="0.6"/>
<text x="433.80" y="369.10" font-size="6.5" fill="#141414" textLength="20.2" lengthAdjust="spacingAndGlyphs" style="stroke:#141414;stroke-width:0.15">E:T 2:1</text>
<line x1="457.90" y1="356.70" x2="475.20" y2="356.70" stroke="#A0A3DC" stroke-width="0.7"/>
<circle cx="466.55" cy="356.70" r="1.3" fill="#fff" stroke="#A0A3DC" stroke-width="0.6"/>
<text x="479.60" y="359.00" font-size="6.5" fill="#141414" textLength="19.6" lengthAdjust="spacingAndGlyphs" style="stroke:#141414;stroke-width:0.15">E:T 1:2</text>
<line x1="457.90" y1="366.80" x2="475.20" y2="366.80" stroke="#8DB0E3" stroke-width="0.7"/>
<rect x="465.25" y="365.50" width="2.60" height="2.60" fill="#fff" stroke="#8DB0E3" stroke-width="0.6"/>
<text x="479.60" y="369.10" font-size="6.5" fill="#141414" textLength="19.6" lengthAdjust="spacingAndGlyphs" style="stroke:#141414;stroke-width:0.15">E:T 1:5</text>
<text x="2.00" y="397.60" font-size="16.8" font-weight="bold" fill="#111" style="stroke:#111;stroke-width:0.45">J</text>
<line x1="35.70" y1="404.30" x2="35.70" y2="476.00" stroke="#262626" stroke-width="0.8"/>
<line x1="33.20" y1="410.40" x2="35.70" y2="410.40" stroke="#262626" stroke-width="0.8"/>
<text x="32.10" y="412.40" font-size="5.6" font-weight="bold" text-anchor="end" fill="#141414" style="stroke:#141414;stroke-width:0.15">100</text>
<line x1="33.20" y1="423.50" x2="35.70" y2="423.50" stroke="#262626" stroke-width="0.8"/>
<text x="32.10" y="425.50" font-size="5.6" font-weight="bold" text-anchor="end" fill="#141414" style="stroke:#141414;stroke-width:0.15">80</text>
<line x1="33.20" y1="436.60" x2="35.70" y2="436.60" stroke="#262626" stroke-width="0.8"/>
<text x="32.10" y="438.60" font-size="5.6" font-weight="bold" text-anchor="end" fill="#141414" style="stroke:#141414;stroke-width:0.15">60</text>
<line x1="33.20" y1="449.80" x2="35.70" y2="449.80" stroke="#262626" stroke-width="0.8"/>
<text x="32.10" y="451.80" font-size="5.6" font-weight="bold" text-anchor="end" fill="#141414" style="stroke:#141414;stroke-width:0.15">40</text>
<line x1="33.20" y1="462.90" x2="35.70" y2="462.90" stroke="#262626" stroke-width="0.8"/>
<text x="32.10" y="464.90" font-size="5.6" font-weight="bold" text-anchor="end" fill="#141414" style="stroke:#141414;stroke-width:0.15">20</text>
<line x1="33.20" y1="476.00" x2="35.70" y2="476.00" stroke="#262626" stroke-width="0.8"/>
<text x="32.10" y="478.00" font-size="5.6" font-weight="bold" text-anchor="end" fill="#141414" style="stroke:#141414;stroke-width:0.15">0</text>
<line x1="33.40" y1="476.00" x2="41.50" y2="476.00" stroke="#262626" stroke-width="0.8"/>
<line x1="41.50" y1="474.20" x2="41.50" y2="477.80" stroke="#262626" stroke-width="0.8"/>
<line x1="35.70" y1="476.00" x2="35.70" y2="478.20" stroke="#262626" stroke-width="0.8"/>
<text x="35.70" y="484.70" font-size="5.2" font-weight="bold" text-anchor="middle" fill="#141414" style="stroke:#141414;stroke-width:0.15">0</text>
<line x1="46.70" y1="476.00" x2="149.19" y2="476.00" stroke="#262626" stroke-width="0.8"/>
<line x1="46.70" y1="474.20" x2="46.70" y2="477.80" stroke="#262626" stroke-width="0.8"/>
<line x1="58.40" y1="476.00" x2="58.40" y2="478.20" stroke="#262626" stroke-width="0.8"/>
<line x1="71.37" y1="476.00" x2="71.37" y2="478.20" stroke="#262626" stroke-width="0.8"/>
<line x1="84.34" y1="476.00" x2="84.34" y2="478.20" stroke="#262626" stroke-width="0.8"/>
<line x1="97.31" y1="476.00" x2="97.31" y2="478.20" stroke="#262626" stroke-width="0.8"/>
<line x1="110.28" y1="476.00" x2="110.28" y2="478.20" stroke="#262626" stroke-width="0.8"/>
<line x1="123.25" y1="476.00" x2="123.25" y2="478.20" stroke="#262626" stroke-width="0.8"/>
<line x1="136.22" y1="476.00" x2="136.22" y2="478.20" stroke="#262626" stroke-width="0.8"/>
<line x1="149.19" y1="476.00" x2="149.19" y2="478.20" stroke="#262626" stroke-width="0.8"/>
<text x="58.50" y="484.70" font-size="5.2" font-weight="bold" text-anchor="middle" fill="#262626">10<tspan font-size="2.86" dx="0.5" dy="-1.66">−2</tspan></text>
<text x="71.47" y="484.70" font-size="5.2" font-weight="bold" text-anchor="middle" fill="#262626">10<tspan font-size="2.86" dx="0.5" dy="-1.66">−1</tspan></text>
<text x="84.44" y="484.70" font-size="5.2" font-weight="bold" text-anchor="middle" fill="#262626">10<tspan font-size="2.86" dx="0.5" dy="-1.66">0</tspan></text>
<text x="97.41" y="484.70" font-size="5.2" font-weight="bold" text-anchor="middle" fill="#262626">10<tspan font-size="2.86" dx="0.5" dy="-1.66">1</tspan></text>
<text x="110.38" y="484.70" font-size="5.2" font-weight="bold" text-anchor="middle" fill="#262626">10<tspan font-size="2.86" dx="0.5" dy="-1.66">2</tspan></text>
<text x="123.35" y="484.70" font-size="5.2" font-weight="bold" text-anchor="middle" fill="#262626">10<tspan font-size="2.86" dx="0.5" dy="-1.66">3</tspan></text>
<text x="136.32" y="484.70" font-size="5.2" font-weight="bold" text-anchor="middle" fill="#262626">10<tspan font-size="2.86" dx="0.5" dy="-1.66">4</tspan></text>
<text x="149.29" y="484.70" font-size="5.2" font-weight="bold" text-anchor="middle" fill="#262626">10<tspan font-size="2.86" dx="0.5" dy="-1.66">5</tspan></text>
<text x="92.90" y="495.90" font-size="6.6" text-anchor="middle" fill="#141414" textLength="72.0" lengthAdjust="spacingAndGlyphs" style="stroke:#141414;stroke-width:0.15">B7-H6/CD3 ITE (ng/mL)</text>
<text x="16.70" y="441.60" font-size="6.5" text-anchor="middle" fill="#141414" transform="rotate(-90 16.70 441.60)" textLength="45.9" lengthAdjust="spacingAndGlyphs" style="stroke:#141414;stroke-width:0.15">% Positive cells</text>
<path d="M48.40,474.60 L61.30,474.60 L74.20,474.60 L87.00,474.60 L100.00,474.60 L113.10,474.60 L126.20,474.60 L139.30,471.20" stroke="#E070A0" stroke-width="0.6" fill="none" stroke-dasharray="0.9,0.9"/>
<path d="M48.40,473.60 L61.30,473.60 L74.20,473.60 L87.00,473.60 L100.00,473.60 L113.10,473.00 L126.20,467.10 L139.30,457.30" stroke="#C04070" stroke-width="0.6" fill="none" stroke-dasharray="0.9,0.9"/>
<path d="M48.40,474.20 L61.30,474.20 L74.20,474.00 L87.00,474.00 L100.00,474.00 L113.10,474.00 L126.20,472.00 L139.30,466.80" stroke="#333" stroke-width="0.6" fill="none" stroke-dasharray="0.9,0.9"/>
<path d="M48.40,471.00 L61.30,471.20 L74.20,471.00 L87.00,471.00 L100.00,471.00 L113.10,471.00 L126.20,471.70 L139.30,471.00" stroke="#5A58B8" stroke-width="0.6" fill="none" stroke-dasharray="0.9,0.9"/>
<path d="M48.40,474.50 L49.91,474.50 L51.43,474.50 L52.95,474.49 L54.46,474.49 L55.98,474.48 L57.49,474.46 L59.00,474.42 L60.52,474.36 L62.03,474.25 L63.55,474.05 L65.06,473.70 L66.58,473.08 L68.09,472.03 L69.61,470.26 L71.12,467.46 L72.64,463.32 L74.16,457.86 L75.67,451.62 L77.19,445.56 L78.70,440.54 L80.22,436.90 L81.73,434.50 L83.25,433.03 L84.76,432.16 L86.28,431.65 L87.79,431.37 L89.31,431.21 L90.82,431.12 L92.34,431.06 L93.85,431.04 L95.37,431.02 L96.88,431.01 L98.40,431.01 L99.91,431.00 L101.42,431.00 L102.94,431.00 L104.45,431.00 L105.97,431.00 L107.49,431.00 L109.00,431.00 L110.52,431.00 L112.03,431.00 L113.55,431.00 L115.06,431.00 L116.58,431.00 L118.09,431.00 L119.60,431.00 L121.12,431.00 L122.63,431.00 L124.15,431.00 L125.67,431.00 L127.18,431.00 L128.70,431.00 L130.21,431.00 L131.72,431.00 L133.24,431.00 L134.75,431.00 L136.27,431.00 L137.78,431.00 L139.30,431.00" stroke="#C85A78" stroke-width="0.7" fill="none"/>
<path d="M48.40,474.50 L49.91,474.50 L51.43,474.50 L52.95,474.50 L54.46,474.50 L55.98,474.50 L57.49,474.49 L59.00,474.49 L60.52,474.48 L62.03,474.45 L63.55,474.40 L65.06,474.31 L66.58,474.12 L68.09,473.75 L69.61,473.04 L71.12,471.68 L72.64,469.23 L74.16,465.13 L75.67,459.13 L77.19,451.84 L78.70,444.74 L80.22,439.19 L81.73,435.54 L83.25,433.40 L84.76,432.24 L86.28,431.63 L87.79,431.32 L89.31,431.16 L90.82,431.08 L92.34,431.04 L93.85,431.02 L95.37,431.01 L96.88,431.01 L98.40,431.00 L99.91,431.00 L101.42,431.00 L102.94,431.00 L104.45,431.00 L105.97,431.00 L107.49,431.00 L109.00,431.00 L110.52,431.00 L112.03,431.00 L113.55,431.00 L115.06,431.00 L116.58,431.00 L118.09,431.00 L119.60,431.00 L121.12,431.00 L122.63,431.00 L124.15,431.00 L125.67,431.00 L127.18,431.00 L128.70,431.00 L130.21,431.00 L131.72,431.00 L133.24,431.00 L134.75,431.00 L136.27,431.00 L137.78,431.00 L139.30,431.00" stroke="#3A3A3A" stroke-width="0.7" fill="none"/>
<path d="M48.40,474.50 L49.91,474.49 L51.43,474.49 L52.95,474.49 L54.46,474.48 L55.98,474.47 L57.49,474.45 L59.00,474.43 L60.52,474.40 L62.03,474.36 L63.55,474.29 L65.06,474.20 L66.58,474.06 L68.09,473.87 L69.61,473.58 L71.12,473.17 L72.64,472.58 L74.16,471.74 L75.67,470.56 L77.19,468.94 L78.70,466.76 L80.22,463.91 L81.73,460.36 L83.25,456.13 L84.76,451.41 L86.28,446.47 L87.79,441.67 L89.31,437.30 L90.82,433.58 L92.34,430.56 L93.85,428.23 L95.37,426.49 L96.88,425.21 L98.40,424.30 L99.91,423.66 L101.42,423.21 L102.94,422.89 L104.45,422.68 L105.97,422.53 L107.49,422.42 L109.00,422.35 L110.52,422.31 L112.03,422.27 L113.55,422.25 L115.06,422.23 L116.58,422.22 L118.09,422.22 L119.60,422.21 L121.12,422.21 L122.63,422.21 L124.15,422.20 L125.67,422.20 L127.18,422.20 L128.70,422.20 L130.21,422.20 L131.72,422.20 L133.24,422.20 L134.75,422.20 L136.27,422.20 L137.78,422.20 L139.30,422.20" stroke="#4A62C4" stroke-width="0.7" fill="none"/>
<path d="M48.40,474.50 L49.91,474.50 L51.43,474.50 L52.95,474.49 L54.46,474.49 L55.98,474.49 L57.49,474.48 L59.00,474.47 L60.52,474.45 L62.03,474.42 L63.55,474.38 L65.06,474.31 L66.58,474.21 L68.09,474.04 L69.61,473.79 L71.12,473.40 L72.64,472.80 L74.16,471.88 L75.67,470.51 L77.19,468.51 L78.70,465.66 L80.22,461.80 L81.73,456.85 L83.25,451.00 L84.76,444.65 L86.28,438.41 L87.79,432.83 L89.31,428.25 L90.82,424.75 L92.34,422.22 L93.85,420.45 L95.37,419.26 L96.88,418.47 L98.40,417.95 L99.91,417.61 L101.42,417.39 L102.94,417.25 L104.45,417.16 L105.97,417.10 L107.49,417.07 L109.00,417.04 L110.52,417.03 L112.03,417.02 L113.55,417.01 L115.06,417.01 L116.58,417.00 L118.09,417.00 L119.60,417.00 L121.12,417.00 L122.63,417.00 L124.15,417.00 L125.67,417.00 L127.18,417.00 L128.70,417.00 L130.21,417.00 L131.72,417.00 L133.24,417.00 L134.75,417.00 L136.27,417.00 L137.78,417.00 L139.30,417.00" stroke="#E2488A" stroke-width="0.7" fill="none"/>
<path d="M48.40,473.11 L49.89,475.72 L46.91,475.72 Z" fill="#fff" stroke="#E070A0" stroke-width="0.55"/>
<path d="M61.30,473.11 L62.79,475.72 L59.80,475.72 Z" fill="#fff" stroke="#E070A0" stroke-width="0.55"/>
<path d="M74.20,473.11 L75.70,475.72 L72.70,475.72 Z" fill="#fff" stroke="#E070A0" stroke-width="0.55"/>
<path d="M87.00,473.11 L88.50,475.72 L85.50,475.72 Z" fill="#fff" stroke="#E070A0" stroke-width="0.55"/>
<path d="M100.00,473.11 L101.50,475.72 L98.50,475.72 Z" fill="#fff" stroke="#E070A0" stroke-width="0.55"/>
<path d="M113.10,473.11 L114.59,475.72 L111.60,475.72 Z" fill="#fff" stroke="#E070A0" stroke-width="0.55"/>
<path d="M126.20,473.11 L127.70,475.72 L124.70,475.72 Z" fill="#fff" stroke="#E070A0" stroke-width="0.55"/>
<path d="M139.30,469.70 L140.80,472.32 L137.81,472.32 Z" fill="#fff" stroke="#E070A0" stroke-width="0.55"/>
<path d="M48.40,475.10 L49.89,472.48 L46.91,472.48 Z" fill="#fff" stroke="#C04070" stroke-width="0.55"/>
<path d="M61.30,475.10 L62.79,472.48 L59.80,472.48 Z" fill="#fff" stroke="#C04070" stroke-width="0.55"/>
<path d="M74.20,475.10 L75.70,472.48 L72.70,472.48 Z" fill="#fff" stroke="#C04070" stroke-width="0.55"/>
<path d="M87.00,475.10 L88.50,472.48 L85.50,472.48 Z" fill="#fff" stroke="#C04070" stroke-width="0.55"/>
<path d="M100.00,475.10 L101.50,472.48 L98.50,472.48 Z" fill="#fff" stroke="#C04070" stroke-width="0.55"/>
<path d="M113.10,474.50 L114.59,471.88 L111.60,471.88 Z" fill="#fff" stroke="#C04070" stroke-width="0.55"/>
<path d="M126.20,468.60 L127.70,465.98 L124.70,465.98 Z" fill="#fff" stroke="#C04070" stroke-width="0.55"/>
<path d="M139.30,458.80 L140.80,456.18 L137.81,456.18 Z" fill="#fff" stroke="#C04070" stroke-width="0.55"/>
<rect x="47.10" y="472.90" width="2.60" height="2.60" fill="#fff" stroke="#333" stroke-width="0.55"/>
<rect x="60.00" y="472.90" width="2.60" height="2.60" fill="#fff" stroke="#333" stroke-width="0.55"/>
<rect x="72.90" y="472.70" width="2.60" height="2.60" fill="#fff" stroke="#333" stroke-width="0.55"/>
<rect x="85.70" y="472.70" width="2.60" height="2.60" fill="#fff" stroke="#333" stroke-width="0.55"/>
<rect x="98.70" y="472.70" width="2.60" height="2.60" fill="#fff" stroke="#333" stroke-width="0.55"/>
<rect x="111.80" y="472.70" width="2.60" height="2.60" fill="#fff" stroke="#333" stroke-width="0.55"/>
<rect x="124.90" y="470.70" width="2.60" height="2.60" fill="#fff" stroke="#333" stroke-width="0.55"/>
<rect x="138.00" y="465.50" width="2.60" height="2.60" fill="#fff" stroke="#333" stroke-width="0.55"/>
<circle cx="48.40" cy="471.00" r="1.3" fill="#fff" stroke="#5A58B8" stroke-width="0.55"/>
<circle cx="61.30" cy="471.20" r="1.3" fill="#fff" stroke="#5A58B8" stroke-width="0.55"/>
<circle cx="74.20" cy="471.00" r="1.3" fill="#fff" stroke="#5A58B8" stroke-width="0.55"/>
<circle cx="87.00" cy="471.00" r="1.3" fill="#fff" stroke="#5A58B8" stroke-width="0.55"/>
<circle cx="100.00" cy="471.00" r="1.3" fill="#fff" stroke="#5A58B8" stroke-width="0.55"/>
<circle cx="113.10" cy="471.00" r="1.3" fill="#fff" stroke="#5A58B8" stroke-width="0.55"/>
<circle cx="126.20" cy="471.70" r="1.3" fill="#fff" stroke="#5A58B8" stroke-width="0.55"/>
<circle cx="139.30" cy="471.00" r="1.3" fill="#fff" stroke="#5A58B8" stroke-width="0.55"/>
<path d="M48.40,475.61 L50.01,472.79 L46.79,472.79 Z" fill="#A8244E" stroke="#A8244E" stroke-width="0.6"/>
<path d="M61.30,475.61 L62.91,472.79 L59.69,472.79 Z" fill="#A8244E" stroke="#A8244E" stroke-width="0.6"/>
<path d="M74.20,458.61 L75.81,455.79 L72.59,455.79 Z" fill="#A8244E" stroke="#A8244E" stroke-width="0.6"/>
<path d="M87.00,435.21 L88.61,432.39 L85.39,432.39 Z" fill="#A8244E" stroke="#A8244E" stroke-width="0.6"/>
<path d="M100.00,432.61 L101.61,429.79 L98.39,429.79 Z" fill="#A8244E" stroke="#A8244E" stroke-width="0.6"/>
<path d="M113.10,432.61 L114.71,429.79 L111.49,429.79 Z" fill="#A8244E" stroke="#A8244E" stroke-width="0.6"/>
<path d="M126.20,432.61 L127.81,429.79 L124.59,429.79 Z" fill="#A8244E" stroke="#A8244E" stroke-width="0.6"/>
<path d="M139.30,432.61 L140.91,429.79 L137.69,429.79 Z" fill="#A8244E" stroke="#A8244E" stroke-width="0.6"/>
<rect x="47.00" y="473.20" width="2.80" height="2.80" fill="#111" stroke="#111" stroke-width="0.6"/>
<rect x="59.90" y="473.20" width="2.80" height="2.80" fill="#111" stroke="#111" stroke-width="0.6"/>
<rect x="72.80" y="464.10" width="2.80" height="2.80" fill="#111" stroke="#111" stroke-width="0.6"/>
<rect x="85.60" y="429.80" width="2.80" height="2.80" fill="#111" stroke="#111" stroke-width="0.6"/>
<rect x="98.60" y="428.40" width="2.80" height="2.80" fill="#111" stroke="#111" stroke-width="0.6"/>
<rect x="111.70" y="429.40" width="2.80" height="2.80" fill="#111" stroke="#111" stroke-width="0.6"/>
<rect x="124.80" y="429.40" width="2.80" height="2.80" fill="#111" stroke="#111" stroke-width="0.6"/>
<rect x="137.90" y="429.80" width="2.80" height="2.80" fill="#111" stroke="#111" stroke-width="0.6"/>
<circle cx="48.40" cy="473.00" r="1.4" fill="#4A62C4" stroke="#4A62C4" stroke-width="0.6"/>
<circle cx="61.30" cy="473.00" r="1.4" fill="#4A62C4" stroke="#4A62C4" stroke-width="0.6"/>
<circle cx="74.20" cy="473.00" r="1.4" fill="#4A62C4" stroke="#4A62C4" stroke-width="0.6"/>
<circle cx="87.00" cy="443.90" r="1.4" fill="#4A62C4" stroke="#4A62C4" stroke-width="0.6"/>
<circle cx="100.00" cy="425.40" r="1.4" fill="#4A62C4" stroke="#4A62C4" stroke-width="0.6"/>
<circle cx="113.10" cy="422.20" r="1.4" fill="#4A62C4" stroke="#4A62C4" stroke-width="0.6"/>
<circle cx="126.20" cy="422.50" r="1.4" fill="#4A62C4" stroke="#4A62C4" stroke-width="0.6"/>
<circle cx="139.30" cy="421.80" r="1.4" fill="#4A62C4" stroke="#4A62C4" stroke-width="0.6"/>
<path d="M48.40,472.39 L50.01,475.21 L46.79,475.21 Z" fill="#E2488A" stroke="#E2488A" stroke-width="0.6"/>
<path d="M61.30,472.39 L62.91,475.21 L59.69,475.21 Z" fill="#E2488A" stroke="#E2488A" stroke-width="0.6"/>
<path d="M74.20,472.39 L75.81,475.21 L72.59,475.21 Z" fill="#E2488A" stroke="#E2488A" stroke-width="0.6"/>
<path d="M87.00,433.59 L88.61,436.41 L85.39,436.41 Z" fill="#E2488A" stroke="#E2488A" stroke-width="0.6"/>
<path d="M100.00,417.79 L101.61,420.61 L98.39,420.61 Z" fill="#E2488A" stroke="#E2488A" stroke-width="0.6"/>
<path d="M113.10,415.69 L114.71,418.51 L111.49,418.51 Z" fill="#E2488A" stroke="#E2488A" stroke-width="0.6"/>
<path d="M126.20,415.69 L127.81,418.51 L124.59,418.51 Z" fill="#E2488A" stroke="#E2488A" stroke-width="0.6"/>
<path d="M139.30,414.49 L140.91,417.31 L137.69,417.31 Z" fill="#E2488A" stroke="#E2488A" stroke-width="0.6"/>
<circle cx="35.60" cy="471.00" r="1.4" fill="#fff" stroke="#6A78C8" stroke-width="0.6"/>
<rect x="34.20" y="473.60" width="2.80" height="2.80" fill="#333" stroke="#333" stroke-width="0.6"/>
<circle cx="35.60" cy="473.00" r="1.4" fill="#4A62C4" stroke="#4A62C4" stroke-width="0.6"/>
<line x1="55.00" y1="507.50" x2="72.50" y2="507.50" stroke="#4A62C4" stroke-width="0.7"/>
<circle cx="63.80" cy="507.50" r="1.2" fill="#4A62C4" stroke="#4A62C4" stroke-width="0.6"/>
<text x="77.50" y="509.80" font-size="6.6" fill="#141414" textLength="29.5" lengthAdjust="spacingAndGlyphs" style="stroke:#141414;stroke-width:0.15">CD4/CD25</text>
<line x1="55.00" y1="517.50" x2="72.50" y2="517.50" stroke="#2F3F35" stroke-width="0.7"/>
<rect x="62.60" y="516.30" width="2.40" height="2.40" fill="#000" stroke="#000" stroke-width="0.6"/>
<text x="77.50" y="519.80" font-size="6.6" fill="#141414" textLength="29.5" lengthAdjust="spacingAndGlyphs" style="stroke:#141414;stroke-width:0.15">CD4/CD69</text>
<line x1="55.00" y1="528.00" x2="72.50" y2="528.00" stroke="#E2488A" stroke-width="0.7"/>
<path d="M63.80,526.62 L65.18,529.03 L62.42,529.03 Z" fill="#E2488A" stroke="#E2488A" stroke-width="0.6"/>
<text x="77.50" y="530.30" font-size="6.6" fill="#141414" textLength="29.5" lengthAdjust="spacingAndGlyphs" style="stroke:#141414;stroke-width:0.15">CD8/CD25</text>
<line x1="55.00" y1="538.00" x2="72.50" y2="538.00" stroke="#C85A78" stroke-width="0.7"/>
<path d="M63.80,539.38 L65.18,536.97 L62.42,536.97 Z" fill="#A8244E" stroke="#A8244E" stroke-width="0.6"/>
<text x="77.50" y="540.30" font-size="6.6" fill="#141414" textLength="29.5" lengthAdjust="spacingAndGlyphs" style="stroke:#141414;stroke-width:0.15">CD8/CD69</text>
<line x1="55.00" y1="552.50" x2="72.50" y2="552.50" stroke="#6A78C8" stroke-width="0.6" stroke-dasharray="0.9,0.9"/>
<circle cx="63.80" cy="552.50" r="1.3" fill="#fff" stroke="#6A78C8" stroke-width="0.6"/>
<text x="77.50" y="554.80" font-size="6.6" fill="#141414" textLength="29.5" lengthAdjust="spacingAndGlyphs" style="stroke:#141414;stroke-width:0.15">CD4/CD25</text>
<line x1="55.00" y1="562.50" x2="72.50" y2="562.50" stroke="#333" stroke-width="0.6" stroke-dasharray="0.9,0.9"/>
<rect x="62.50" y="561.20" width="2.60" height="2.60" fill="#fff" stroke="#333" stroke-width="0.6"/>
<text x="77.50" y="564.80" font-size="6.6" fill="#141414" textLength="29.5" lengthAdjust="spacingAndGlyphs" style="stroke:#141414;stroke-width:0.15">CD4/CD69</text>
<line x1="55.00" y1="572.50" x2="72.50" y2="572.50" stroke="#E070A0" stroke-width="0.6" stroke-dasharray="0.9,0.9"/>
<path d="M63.80,571.00 L65.30,573.62 L62.30,573.62 Z" fill="#fff" stroke="#E070A0" stroke-width="0.6"/>
<text x="77.50" y="574.80" font-size="6.6" fill="#141414" textLength="29.5" lengthAdjust="spacingAndGlyphs" style="stroke:#141414;stroke-width:0.15">CD8/CD25</text>
<line x1="55.00" y1="582.50" x2="72.50" y2="582.50" stroke="#B04070" stroke-width="0.6" stroke-dasharray="0.9,0.9"/>
<path d="M63.80,584.00 L65.30,581.38 L62.30,581.38 Z" fill="#fff" stroke="#B04070" stroke-width="0.6"/>
<text x="77.50" y="584.80" font-size="6.6" fill="#141414" textLength="29.5" lengthAdjust="spacingAndGlyphs" style="stroke:#141414;stroke-width:0.15">CD8/CD69</text>
<path d="M110.40,502.00 L112.60,502.00 L112.60,542.00 L110.40,542.00" stroke="#222" stroke-width="0.9" fill="none"/>
<path d="M110.40,547.50 L112.60,547.50 L112.60,587.50 L110.40,587.50" stroke="#222" stroke-width="0.9" fill="none"/>
<text x="118.00" y="519.20" font-size="6.5" fill="#141414" textLength="19.5" lengthAdjust="spacingAndGlyphs" style="stroke:#141414;stroke-width:0.15">HCT-15</text>
<text x="118.00" y="526.70" font-size="6.5" fill="#141414" textLength="44.5" lengthAdjust="spacingAndGlyphs" style="stroke:#141414;stroke-width:0.15">(B7-H6 positive)</text>
<text x="118.00" y="562.20" font-size="6.5" fill="#141414" textLength="24.0" lengthAdjust="spacingAndGlyphs" style="stroke:#141414;stroke-width:0.15">CHO-3E7</text>
<text x="118.00" y="569.70" font-size="6.5" fill="#141414" textLength="48.0" lengthAdjust="spacingAndGlyphs" style="stroke:#141414;stroke-width:0.15">(B7-H6 negative)</text>
<text x="183.40" y="397.60" font-size="16.8" font-weight="bold" fill="#111" style="stroke:#111;stroke-width:0.45">K</text>
<line x1="209.80" y1="404.30" x2="209.80" y2="476.00" stroke="#262626" stroke-width="0.8"/>
<line x1="207.30" y1="410.40" x2="209.80" y2="410.40" stroke="#262626" stroke-width="0.8"/>
<text x="206.20" y="412.40" font-size="5.6" font-weight="bold" text-anchor="end" fill="#141414" style="stroke:#141414;stroke-width:0.15">100</text>
<line x1="207.30" y1="423.50" x2="209.80" y2="423.50" stroke="#262626" stroke-width="0.8"/>
<text x="206.20" y="425.50" font-size="5.6" font-weight="bold" text-anchor="end" fill="#141414" style="stroke:#141414;stroke-width:0.15">80</text>
<line x1="207.30" y1="436.60" x2="209.80" y2="436.60" stroke="#262626" stroke-width="0.8"/>
<text x="206.20" y="438.60" font-size="5.6" font-weight="bold" text-anchor="end" fill="#141414" style="stroke:#141414;stroke-width:0.15">60</text>
<line x1="207.30" y1="449.80" x2="209.80" y2="449.80" stroke="#262626" stroke-width="0.8"/>
<text x="206.20" y="451.80" font-size="5.6" font-weight="bold" text-anchor="end" fill="#141414" style="stroke:#141414;stroke-width:0.15">40</text>
<line x1="207.30" y1="462.90" x2="209.80" y2="462.90" stroke="#262626" stroke-width="0.8"/>
<text x="206.20" y="464.90" font-size="5.6" font-weight="bold" text-anchor="end" fill="#141414" style="stroke:#141414;stroke-width:0.15">20</text>
<line x1="207.30" y1="476.00" x2="209.80" y2="476.00" stroke="#262626" stroke-width="0.8"/>
<text x="206.20" y="478.00" font-size="5.6" font-weight="bold" text-anchor="end" fill="#141414" style="stroke:#141414;stroke-width:0.15">0</text>
<line x1="207.60" y1="476.00" x2="215.60" y2="476.00" stroke="#262626" stroke-width="0.8"/>
<line x1="215.60" y1="474.20" x2="215.60" y2="477.80" stroke="#262626" stroke-width="0.8"/>
<line x1="209.80" y1="476.00" x2="209.80" y2="478.20" stroke="#262626" stroke-width="0.8"/>
<text x="209.80" y="484.70" font-size="5.2" font-weight="bold" text-anchor="middle" fill="#141414" style="stroke:#141414;stroke-width:0.15">0</text>
<line x1="220.80" y1="476.00" x2="325.00" y2="476.00" stroke="#262626" stroke-width="0.8"/>
<line x1="220.80" y1="474.20" x2="220.80" y2="477.80" stroke="#262626" stroke-width="0.8"/>
<line x1="232.60" y1="476.00" x2="232.60" y2="478.20" stroke="#262626" stroke-width="0.8"/>
<line x1="245.80" y1="476.00" x2="245.80" y2="478.20" stroke="#262626" stroke-width="0.8"/>
<line x1="259.00" y1="476.00" x2="259.00" y2="478.20" stroke="#262626" stroke-width="0.8"/>
<line x1="272.20" y1="476.00" x2="272.20" y2="478.20" stroke="#262626" stroke-width="0.8"/>
<line x1="285.40" y1="476.00" x2="285.40" y2="478.20" stroke="#262626" stroke-width="0.8"/>
<line x1="298.60" y1="476.00" x2="298.60" y2="478.20" stroke="#262626" stroke-width="0.8"/>
<line x1="311.80" y1="476.00" x2="311.80" y2="478.20" stroke="#262626" stroke-width="0.8"/>
<line x1="325.00" y1="476.00" x2="325.00" y2="478.20" stroke="#262626" stroke-width="0.8"/>
<text x="232.70" y="484.70" font-size="5.2" font-weight="bold" text-anchor="middle" fill="#262626">10<tspan font-size="2.86" dx="0.5" dy="-1.66">−2</tspan></text>
<text x="245.90" y="484.70" font-size="5.2" font-weight="bold" text-anchor="middle" fill="#262626">10<tspan font-size="2.86" dx="0.5" dy="-1.66">−1</tspan></text>
<text x="259.10" y="484.70" font-size="5.2" font-weight="bold" text-anchor="middle" fill="#262626">10<tspan font-size="2.86" dx="0.5" dy="-1.66">0</tspan></text>
<text x="272.30" y="484.70" font-size="5.2" font-weight="bold" text-anchor="middle" fill="#262626">10<tspan font-size="2.86" dx="0.5" dy="-1.66">1</tspan></text>
<text x="285.50" y="484.70" font-size="5.2" font-weight="bold" text-anchor="middle" fill="#262626">10<tspan font-size="2.86" dx="0.5" dy="-1.66">2</tspan></text>
<text x="298.70" y="484.70" font-size="5.2" font-weight="bold" text-anchor="middle" fill="#262626">10<tspan font-size="2.86" dx="0.5" dy="-1.66">3</tspan></text>
<text x="311.90" y="484.70" font-size="5.2" font-weight="bold" text-anchor="middle" fill="#262626">10<tspan font-size="2.86" dx="0.5" dy="-1.66">4</tspan></text>
<text x="325.10" y="484.70" font-size="5.2" font-weight="bold" text-anchor="middle" fill="#262626">10<tspan font-size="2.86" dx="0.5" dy="-1.66">5</tspan></text>
<text x="265.60" y="495.90" font-size="6.6" text-anchor="middle" fill="#141414" textLength="72.0" lengthAdjust="spacingAndGlyphs" style="stroke:#141414;stroke-width:0.15">B7-H6/CD3 ITE (ng/mL)</text>
<text x="191.20" y="441.60" font-size="6.5" text-anchor="middle" fill="#141414" transform="rotate(-90 191.20 441.60)" textLength="45.9" lengthAdjust="spacingAndGlyphs" style="stroke:#141414;stroke-width:0.15">% Positive cells</text>
<path d="M222.40,471.00 L235.80,471.00 L248.40,471.00 L261.20,471.00 L273.90,471.00 L287.00,471.00 L300.10,471.00 L313.10,471.00" stroke="#B0B0B0" stroke-width="0.6" fill="none" stroke-dasharray="0.9,0.9"/>
<path d="M222.40,470.40 L235.80,470.40 L248.40,470.40 L261.20,470.40 L273.90,470.40 L287.00,470.40 L300.10,470.40 L313.10,469.40" stroke="#72C23E" stroke-width="0.6" fill="none" stroke-dasharray="0.9,0.9"/>
<path d="M222.40,471.20 L235.80,471.20 L248.40,471.20 L261.20,471.20 L273.90,471.20 L287.00,471.20 L300.10,471.20 L313.10,470.00" stroke="#3FAF5A" stroke-width="0.6" fill="none" stroke-dasharray="0.9,0.9"/>
<path d="M222.40,472.60 L235.80,472.60 L248.40,472.60 L261.20,472.60 L273.90,472.60 L287.00,472.60 L300.10,472.60 L313.10,472.60" stroke="#1F4A7A" stroke-width="0.6" fill="none" stroke-dasharray="0.9,0.9"/>
<path d="M222.40,469.50 L223.91,469.50 L225.42,469.50 L226.94,469.50 L228.45,469.50 L229.96,469.50 L231.47,469.50 L232.98,469.50 L234.49,469.50 L236.00,469.49 L237.52,469.49 L239.03,469.47 L240.54,469.45 L242.05,469.41 L243.56,469.33 L245.08,469.20 L246.59,468.95 L248.10,468.49 L249.61,467.68 L251.12,466.26 L252.63,463.82 L254.15,459.88 L255.66,454.02 L257.17,446.28 L258.68,437.56 L260.19,429.32 L261.70,422.72 L263.22,418.11 L264.73,415.19 L266.24,413.45 L267.75,412.45 L269.26,411.89 L270.77,411.58 L272.29,411.41 L273.80,411.31 L275.31,411.26 L276.82,411.23 L278.33,411.22 L279.84,411.21 L281.36,411.21 L282.87,411.20 L284.38,411.20 L285.89,411.20 L287.40,411.20 L288.91,411.20 L290.43,411.20 L291.94,411.20 L293.45,411.20 L294.96,411.20 L296.47,411.20 L297.98,411.20 L299.50,411.20 L301.01,411.20 L302.52,411.20 L304.03,411.20 L305.54,411.20 L307.05,411.20 L308.56,411.20 L310.08,411.20 L311.59,411.20 L313.10,411.20" stroke="#72C23E" stroke-width="0.7" fill="none"/>
<path d="M222.40,469.50 L223.91,469.50 L225.42,469.50 L226.94,469.50 L228.45,469.50 L229.96,469.50 L231.47,469.50 L232.98,469.50 L234.49,469.50 L236.00,469.50 L237.52,469.49 L239.03,469.49 L240.54,469.48 L242.05,469.47 L243.56,469.45 L245.08,469.40 L246.59,469.33 L248.10,469.19 L249.61,468.96 L251.12,468.53 L252.63,467.80 L254.15,466.53 L255.66,464.41 L257.17,461.03 L258.68,456.03 L260.19,449.42 L261.70,441.81 L263.22,434.37 L264.73,428.15 L266.24,423.62 L267.75,420.62 L269.26,418.76 L270.77,417.66 L272.29,417.03 L273.80,416.67 L275.31,416.46 L276.82,416.35 L278.33,416.28 L279.84,416.25 L281.36,416.23 L282.87,416.21 L284.38,416.21 L285.89,416.20 L287.40,416.20 L288.91,416.20 L290.43,416.20 L291.94,416.20 L293.45,416.20 L294.96,416.20 L296.47,416.20 L297.98,416.20 L299.50,416.20 L301.01,416.20 L302.52,416.20 L304.03,416.20 L305.54,416.20 L307.05,416.20 L308.56,416.20 L310.08,416.20 L311.59,416.20 L313.10,416.20" stroke="#A0A0A0" stroke-width="0.7" fill="none"/>
<path d="M222.40,469.50 L223.91,469.50 L225.42,469.50 L226.94,469.50 L228.45,469.50 L229.96,469.50 L231.47,469.50 L232.98,469.50 L234.49,469.50 L236.00,469.50 L237.52,469.49 L239.03,469.49 L240.54,469.48 L242.05,469.46 L243.56,469.44 L245.08,469.39 L246.59,469.32 L248.10,469.18 L249.61,468.96 L251.12,468.58 L252.63,467.95 L254.15,466.89 L255.66,465.18 L257.17,462.52 L258.68,458.60 L260.19,453.30 L261.70,446.89 L263.22,440.10 L264.73,433.87 L266.24,428.86 L267.75,425.22 L269.26,422.79 L270.77,421.24 L272.29,420.29 L273.80,419.72 L275.31,419.38 L276.82,419.18 L278.33,419.06 L279.84,419.00 L281.36,418.96 L282.87,418.93 L284.38,418.92 L285.89,418.91 L287.40,418.91 L288.91,418.90 L290.43,418.90 L291.94,418.90 L293.45,418.90 L294.96,418.90 L296.47,418.90 L297.98,418.90 L299.50,418.90 L301.01,418.90 L302.52,418.90 L304.03,418.90 L305.54,418.90 L307.05,418.90 L308.56,418.90 L310.08,418.90 L311.59,418.90 L313.10,418.90" stroke="#3FAF5A" stroke-width="0.7" fill="none"/>
<path d="M222.40,472.00 L223.91,472.00 L225.42,472.00 L226.94,471.99 L228.45,471.99 L229.96,471.99 L231.47,471.98 L232.98,471.97 L234.49,471.96 L236.00,471.95 L237.52,471.92 L239.03,471.89 L240.54,471.84 L242.05,471.78 L243.56,471.68 L245.08,471.54 L246.59,471.35 L248.10,471.07 L249.61,470.69 L251.12,470.14 L252.63,469.38 L254.15,468.33 L255.66,466.92 L257.17,465.06 L258.68,462.66 L260.19,459.70 L261.70,456.21 L263.22,452.31 L264.73,448.21 L266.24,444.17 L267.75,440.42 L269.26,437.15 L270.77,434.44 L272.29,432.28 L273.80,430.62 L275.31,429.37 L276.82,428.46 L278.33,427.80 L279.84,427.33 L281.36,426.99 L282.87,426.76 L284.38,426.59 L285.89,426.47 L287.40,426.39 L288.91,426.33 L290.43,426.29 L291.94,426.26 L293.45,426.25 L294.96,426.23 L296.47,426.22 L297.98,426.22 L299.50,426.21 L301.01,426.21 L302.52,426.21 L304.03,426.20 L305.54,426.20 L307.05,426.20 L308.56,426.20 L310.08,426.20 L311.59,426.20 L313.10,426.20" stroke="#1F3A93" stroke-width="0.7" fill="none"/>
<circle cx="222.40" cy="471.00" r="1.3" fill="#fff" stroke="#B0B0B0" stroke-width="0.6"/>
<circle cx="235.80" cy="471.00" r="1.3" fill="#fff" stroke="#B0B0B0" stroke-width="0.6"/>
<circle cx="248.40" cy="471.00" r="1.3" fill="#fff" stroke="#B0B0B0" stroke-width="0.6"/>
<circle cx="261.20" cy="471.00" r="1.3" fill="#fff" stroke="#B0B0B0" stroke-width="0.6"/>
<circle cx="273.90" cy="471.00" r="1.3" fill="#fff" stroke="#B0B0B0" stroke-width="0.6"/>
<circle cx="287.00" cy="471.00" r="1.3" fill="#fff" stroke="#B0B0B0" stroke-width="0.6"/>
<circle cx="300.10" cy="471.00" r="1.3" fill="#fff" stroke="#B0B0B0" stroke-width="0.6"/>
<circle cx="313.10" cy="471.00" r="1.3" fill="#fff" stroke="#B0B0B0" stroke-width="0.6"/>
<path d="M222.40,471.89 L223.90,469.28 L220.91,469.28 Z" fill="#fff" stroke="#72C23E" stroke-width="0.6"/>
<path d="M235.80,471.89 L237.30,469.28 L234.31,469.28 Z" fill="#fff" stroke="#72C23E" stroke-width="0.6"/>
<path d="M248.40,471.89 L249.90,469.28 L246.91,469.28 Z" fill="#fff" stroke="#72C23E" stroke-width="0.6"/>
<path d="M261.20,471.89 L262.69,469.28 L259.70,469.28 Z" fill="#fff" stroke="#72C23E" stroke-width="0.6"/>
<path d="M273.90,471.89 L275.39,469.28 L272.40,469.28 Z" fill="#fff" stroke="#72C23E" stroke-width="0.6"/>
<path d="M287.00,471.89 L288.50,469.28 L285.50,469.28 Z" fill="#fff" stroke="#72C23E" stroke-width="0.6"/>
<path d="M300.10,471.89 L301.60,469.28 L298.61,469.28 Z" fill="#fff" stroke="#72C23E" stroke-width="0.6"/>
<path d="M313.10,470.89 L314.60,468.28 L311.61,468.28 Z" fill="#fff" stroke="#72C23E" stroke-width="0.6"/>
<path d="M222.40,469.70 L223.90,472.32 L220.91,472.32 Z" fill="#fff" stroke="#3FAF5A" stroke-width="0.6"/>
<path d="M235.80,469.70 L237.30,472.32 L234.31,472.32 Z" fill="#fff" stroke="#3FAF5A" stroke-width="0.6"/>
<path d="M248.40,469.70 L249.90,472.32 L246.91,472.32 Z" fill="#fff" stroke="#3FAF5A" stroke-width="0.6"/>
<path d="M261.20,469.70 L262.69,472.32 L259.70,472.32 Z" fill="#fff" stroke="#3FAF5A" stroke-width="0.6"/>
<path d="M273.90,469.70 L275.39,472.32 L272.40,472.32 Z" fill="#fff" stroke="#3FAF5A" stroke-width="0.6"/>
<path d="M287.00,469.70 L288.50,472.32 L285.50,472.32 Z" fill="#fff" stroke="#3FAF5A" stroke-width="0.6"/>
<path d="M300.10,469.70 L301.60,472.32 L298.61,472.32 Z" fill="#fff" stroke="#3FAF5A" stroke-width="0.6"/>
<path d="M313.10,468.50 L314.60,471.12 L311.61,471.12 Z" fill="#fff" stroke="#3FAF5A" stroke-width="0.6"/>
<circle cx="222.40" cy="472.60" r="1.3" fill="#fff" stroke="#1F4A7A" stroke-width="0.6"/>
<circle cx="235.80" cy="472.60" r="1.3" fill="#fff" stroke="#1F4A7A" stroke-width="0.6"/>
<circle cx="248.40" cy="472.60" r="1.3" fill="#fff" stroke="#1F4A7A" stroke-width="0.6"/>
<circle cx="261.20" cy="472.60" r="1.3" fill="#fff" stroke="#1F4A7A" stroke-width="0.6"/>
<circle cx="273.90" cy="472.60" r="1.3" fill="#fff" stroke="#1F4A7A" stroke-width="0.6"/>
<circle cx="287.00" cy="472.60" r="1.3" fill="#fff" stroke="#1F4A7A" stroke-width="0.6"/>
<circle cx="300.10" cy="472.60" r="1.3" fill="#fff" stroke="#1F4A7A" stroke-width="0.6"/>
<circle cx="313.10" cy="472.60" r="1.3" fill="#fff" stroke="#1F4A7A" stroke-width="0.6"/>
<path d="M222.40,471.11 L224.01,468.29 L220.79,468.29 Z" fill="#72C23E" stroke="#72C23E" stroke-width="0.6"/>
<path d="M235.80,471.11 L237.41,468.29 L234.19,468.29 Z" fill="#72C23E" stroke="#72C23E" stroke-width="0.6"/>
<path d="M248.40,471.11 L250.01,468.29 L246.79,468.29 Z" fill="#72C23E" stroke="#72C23E" stroke-width="0.6"/>
<path d="M261.20,426.51 L262.81,423.69 L259.59,423.69 Z" fill="#72C23E" stroke="#72C23E" stroke-width="0.6"/>
<path d="M273.90,412.81 L275.51,409.99 L272.29,409.99 Z" fill="#72C23E" stroke="#72C23E" stroke-width="0.6"/>
<path d="M287.00,412.81 L288.61,409.99 L285.39,409.99 Z" fill="#72C23E" stroke="#72C23E" stroke-width="0.6"/>
<path d="M300.10,412.81 L301.71,409.99 L298.49,409.99 Z" fill="#72C23E" stroke="#72C23E" stroke-width="0.6"/>
<path d="M313.10,412.81 L314.71,409.99 L311.49,409.99 Z" fill="#72C23E" stroke="#72C23E" stroke-width="0.6"/>
<rect x="221.00" y="468.10" width="2.80" height="2.80" fill="#A0A0A0" stroke="#A0A0A0" stroke-width="0.6"/>
<rect x="234.40" y="468.10" width="2.80" height="2.80" fill="#A0A0A0" stroke="#A0A0A0" stroke-width="0.6"/>
<rect x="247.00" y="468.10" width="2.80" height="2.80" fill="#A0A0A0" stroke="#A0A0A0" stroke-width="0.6"/>
<rect x="259.80" y="444.10" width="2.80" height="2.80" fill="#A0A0A0" stroke="#A0A0A0" stroke-width="0.6"/>
<rect x="272.50" y="415.00" width="2.80" height="2.80" fill="#A0A0A0" stroke="#A0A0A0" stroke-width="0.6"/>
<rect x="285.60" y="414.70" width="2.80" height="2.80" fill="#A0A0A0" stroke="#A0A0A0" stroke-width="0.6"/>
<rect x="298.70" y="414.70" width="2.80" height="2.80" fill="#A0A0A0" stroke="#A0A0A0" stroke-width="0.6"/>
<rect x="311.70" y="414.70" width="2.80" height="2.80" fill="#A0A0A0" stroke="#A0A0A0" stroke-width="0.6"/>
<path d="M222.40,467.89 L224.01,470.71 L220.79,470.71 Z" fill="#3FAF5A" stroke="#3FAF5A" stroke-width="0.6"/>
<path d="M235.80,467.89 L237.41,470.71 L234.19,470.71 Z" fill="#3FAF5A" stroke="#3FAF5A" stroke-width="0.6"/>
<path d="M248.40,467.89 L250.01,470.71 L246.79,470.71 Z" fill="#3FAF5A" stroke="#3FAF5A" stroke-width="0.6"/>
<path d="M261.20,446.39 L262.81,449.21 L259.59,449.21 Z" fill="#3FAF5A" stroke="#3FAF5A" stroke-width="0.6"/>
<path d="M273.90,419.69 L275.51,422.51 L272.29,422.51 Z" fill="#3FAF5A" stroke="#3FAF5A" stroke-width="0.6"/>
<path d="M287.00,417.29 L288.61,420.11 L285.39,420.11 Z" fill="#3FAF5A" stroke="#3FAF5A" stroke-width="0.6"/>
<path d="M300.10,417.29 L301.71,420.11 L298.49,420.11 Z" fill="#3FAF5A" stroke="#3FAF5A" stroke-width="0.6"/>
<path d="M313.10,417.29 L314.71,420.11 L311.49,420.11 Z" fill="#3FAF5A" stroke="#3FAF5A" stroke-width="0.6"/>
<circle cx="222.40" cy="472.00" r="1.4" fill="#1F3A93" stroke="#1F3A93" stroke-width="0.6"/>
<circle cx="235.80" cy="472.00" r="1.4" fill="#1F3A93" stroke="#1F3A93" stroke-width="0.6"/>
<circle cx="248.40" cy="472.00" r="1.4" fill="#1F3A93" stroke="#1F3A93" stroke-width="0.6"/>
<circle cx="261.20" cy="457.00" r="1.4" fill="#1F3A93" stroke="#1F3A93" stroke-width="0.6"/>
<circle cx="273.90" cy="431.20" r="1.4" fill="#1F3A93" stroke="#1F3A93" stroke-width="0.6"/>
<circle cx="287.00" cy="426.20" r="1.4" fill="#1F3A93" stroke="#1F3A93" stroke-width="0.6"/>
<circle cx="300.10" cy="427.10" r="1.4" fill="#1F3A93" stroke="#1F3A93" stroke-width="0.6"/>
<circle cx="313.10" cy="425.90" r="1.4" fill="#1F3A93" stroke="#1F3A93" stroke-width="0.6"/>
<path d="M210.00,471.11 L211.61,468.29 L208.39,468.29 Z" fill="#72C23E" stroke="#72C23E" stroke-width="0.6"/>
<circle cx="210.00" cy="472.00" r="1.4" fill="#1F3A93" stroke="#1F3A93" stroke-width="0.6"/>
<line x1="212.00" y1="507.50" x2="229.50" y2="507.50" stroke="#1F3A93" stroke-width="0.7"/>
<circle cx="220.70" cy="507.50" r="1.2" fill="#1F3A93" stroke="#1F3A93" stroke-width="0.6"/>
<text x="233.80" y="509.80" font-size="6.6" fill="#141414" textLength="36.7" lengthAdjust="spacingAndGlyphs" style="stroke:#141414;stroke-width:0.15">CD4/CD107a</text>
<line x1="212.00" y1="517.50" x2="229.50" y2="517.50" stroke="#A0A0A0" stroke-width="0.7"/>
<rect x="219.50" y="516.30" width="2.40" height="2.40" fill="#A0A0A0" stroke="#A0A0A0" stroke-width="0.6"/>
<text x="233.80" y="519.80" font-size="6.6" fill="#141414" textLength="27.0" lengthAdjust="spacingAndGlyphs" style="stroke:#141414;stroke-width:0.15">CD4/GrzB</text>
<line x1="212.00" y1="528.00" x2="229.50" y2="528.00" stroke="#3FAF5A" stroke-width="0.7"/>
<path d="M220.70,526.62 L222.08,529.03 L219.32,529.03 Z" fill="#3FAF5A" stroke="#3FAF5A" stroke-width="0.6"/>
<text x="233.80" y="530.30" font-size="6.6" fill="#141414" textLength="36.7" lengthAdjust="spacingAndGlyphs" style="stroke:#141414;stroke-width:0.15">CD8/CD107a</text>
<line x1="212.00" y1="538.00" x2="229.50" y2="538.00" stroke="#72C23E" stroke-width="0.7"/>
<path d="M220.70,539.38 L222.08,536.97 L219.32,536.97 Z" fill="#72C23E" stroke="#72C23E" stroke-width="0.6"/>
<text x="233.80" y="540.30" font-size="6.6" fill="#141414" textLength="27.0" lengthAdjust="spacingAndGlyphs" style="stroke:#141414;stroke-width:0.15">CD8/GrzB</text>
<line x1="212.00" y1="552.00" x2="229.50" y2="552.00" stroke="#3050A8" stroke-width="0.6" stroke-dasharray="0.9,0.9"/>
<circle cx="220.70" cy="552.00" r="1.3" fill="#fff" stroke="#3050A8" stroke-width="0.6"/>
<text x="233.80" y="554.30" font-size="6.6" fill="#141414" textLength="36.7" lengthAdjust="spacingAndGlyphs" style="stroke:#141414;stroke-width:0.15">CD4/CD107a</text>
<line x1="212.00" y1="562.00" x2="229.50" y2="562.00" stroke="#B0B0B0" stroke-width="0.6" stroke-dasharray="0.9,0.9"/>
<circle cx="220.70" cy="562.00" r="1.3" fill="#fff" stroke="#B0B0B0" stroke-width="0.6"/>
<text x="233.80" y="564.30" font-size="6.6" fill="#141414" textLength="27.0" lengthAdjust="spacingAndGlyphs" style="stroke:#141414;stroke-width:0.15">CD4/GrzB</text>
<line x1="212.00" y1="572.50" x2="229.50" y2="572.50" stroke="#3FAF5A" stroke-width="0.6" stroke-dasharray="0.9,0.9"/>
<path d="M220.70,571.00 L222.19,573.62 L219.20,573.62 Z" fill="#fff" stroke="#3FAF5A" stroke-width="0.6"/>
<text x="233.80" y="574.80" font-size="6.6" fill="#141414" textLength="36.7" lengthAdjust="spacingAndGlyphs" style="stroke:#141414;stroke-width:0.15">CD8/CD107a</text>
<line x1="212.00" y1="582.00" x2="229.50" y2="582.00" stroke="#72C23E" stroke-width="0.6" stroke-dasharray="0.9,0.9"/>
<path d="M220.70,583.50 L222.19,580.88 L219.20,580.88 Z" fill="#fff" stroke="#72C23E" stroke-width="0.6"/>
<text x="233.80" y="584.30" font-size="6.6" fill="#141414" textLength="27.0" lengthAdjust="spacingAndGlyphs" style="stroke:#141414;stroke-width:0.15">CD8/GrzB</text>
<path d="M272.40,502.00 L274.60,502.00 L274.60,542.00 L272.40,542.00" stroke="#222" stroke-width="0.9" fill="none"/>
<path d="M272.40,547.50 L274.60,547.50 L274.60,587.50 L272.40,587.50" stroke="#222" stroke-width="0.9" fill="none"/>
<text x="279.80" y="519.20" font-size="6.5" fill="#141414" textLength="19.5" lengthAdjust="spacingAndGlyphs" style="stroke:#141414;stroke-width:0.15">HCT-15</text>
<text x="279.80" y="526.70" font-size="6.5" fill="#141414" textLength="44.5" lengthAdjust="spacingAndGlyphs" style="stroke:#141414;stroke-width:0.15">(B7-H6 positive)</text>
<text x="279.80" y="562.20" font-size="6.5" fill="#141414" textLength="24.0" lengthAdjust="spacingAndGlyphs" style="stroke:#141414;stroke-width:0.15">CHO-3E7</text>
<text x="279.80" y="569.70" font-size="6.5" fill="#141414" textLength="48.0" lengthAdjust="spacingAndGlyphs" style="stroke:#141414;stroke-width:0.15">(B7-H6 negative)</text>
<text x="353.40" y="397.60" font-size="16.8" font-weight="bold" fill="#111" style="stroke:#111;stroke-width:0.45">L</text>
<line x1="401.00" y1="405.50" x2="401.00" y2="440.00" stroke="#262626" stroke-width="0.8"/>
<line x1="401.00" y1="447.60" x2="401.00" y2="475.90" stroke="#262626" stroke-width="0.8"/>
<line x1="399.00" y1="442.80" x2="403.20" y2="438.60" stroke="#262626" stroke-width="1.0"/>
<line x1="399.00" y1="448.20" x2="403.20" y2="444.00" stroke="#262626" stroke-width="1.0"/>
<line x1="398.50" y1="405.50" x2="401.00" y2="405.50" stroke="#262626" stroke-width="0.8"/>
<text x="397.40" y="407.50" font-size="5.5" font-weight="bold" text-anchor="end" fill="#141414" style="stroke:#141414;stroke-width:0.15">600,000</text>
<line x1="398.50" y1="417.20" x2="401.00" y2="417.20" stroke="#262626" stroke-width="0.8"/>
<text x="397.40" y="419.20" font-size="5.5" font-weight="bold" text-anchor="end" fill="#141414" style="stroke:#141414;stroke-width:0.15">400,000</text>
<line x1="398.50" y1="429.10" x2="401.00" y2="429.10" stroke="#262626" stroke-width="0.8"/>
<text x="397.40" y="431.10" font-size="5.5" font-weight="bold" text-anchor="end" fill="#141414" style="stroke:#141414;stroke-width:0.15">200,000</text>
<line x1="398.50" y1="446.50" x2="401.00" y2="446.50" stroke="#262626" stroke-width="0.8"/>
<text x="397.40" y="448.50" font-size="5.5" font-weight="bold" text-anchor="end" fill="#141414" style="stroke:#141414;stroke-width:0.15">800</text>
<line x1="398.50" y1="453.70" x2="401.00" y2="453.70" stroke="#262626" stroke-width="0.8"/>
<text x="397.40" y="455.70" font-size="5.5" font-weight="bold" text-anchor="end" fill="#141414" style="stroke:#141414;stroke-width:0.15">600</text>
<line x1="398.50" y1="461.10" x2="401.00" y2="461.10" stroke="#262626" stroke-width="0.8"/>
<text x="397.40" y="463.10" font-size="5.5" font-weight="bold" text-anchor="end" fill="#141414" style="stroke:#141414;stroke-width:0.15">400</text>
<line x1="398.50" y1="468.20" x2="401.00" y2="468.20" stroke="#262626" stroke-width="0.8"/>
<text x="397.40" y="470.20" font-size="5.5" font-weight="bold" text-anchor="end" fill="#141414" style="stroke:#141414;stroke-width:0.15">200</text>
<line x1="398.50" y1="475.90" x2="401.00" y2="475.90" stroke="#262626" stroke-width="0.8"/>
<text x="397.40" y="477.90" font-size="5.5" font-weight="bold" text-anchor="end" fill="#141414" style="stroke:#141414;stroke-width:0.15">0</text>
<line x1="399.50" y1="475.90" x2="406.90" y2="475.90" stroke="#262626" stroke-width="0.8"/>
<line x1="406.90" y1="474.10" x2="406.90" y2="477.70" stroke="#262626" stroke-width="0.8"/>
<line x1="401.00" y1="475.90" x2="401.00" y2="478.10" stroke="#262626" stroke-width="0.8"/>
<text x="401.40" y="484.20" font-size="5.2" font-weight="bold" text-anchor="middle" fill="#141414" style="stroke:#141414;stroke-width:0.15">0</text>
<line x1="410.80" y1="475.90" x2="515.28" y2="475.90" stroke="#262626" stroke-width="0.8"/>
<line x1="410.80" y1="474.10" x2="410.80" y2="477.70" stroke="#262626" stroke-width="0.8"/>
<line x1="424.00" y1="475.90" x2="424.00" y2="478.10" stroke="#262626" stroke-width="0.8"/>
<line x1="437.04" y1="475.90" x2="437.04" y2="478.10" stroke="#262626" stroke-width="0.8"/>
<line x1="450.08" y1="475.90" x2="450.08" y2="478.10" stroke="#262626" stroke-width="0.8"/>
<line x1="463.12" y1="475.90" x2="463.12" y2="478.10" stroke="#262626" stroke-width="0.8"/>
<line x1="476.16" y1="475.90" x2="476.16" y2="478.10" stroke="#262626" stroke-width="0.8"/>
<line x1="489.20" y1="475.90" x2="489.20" y2="478.10" stroke="#262626" stroke-width="0.8"/>
<line x1="502.24" y1="475.90" x2="502.24" y2="478.10" stroke="#262626" stroke-width="0.8"/>
<line x1="515.28" y1="475.90" x2="515.28" y2="478.10" stroke="#262626" stroke-width="0.8"/>
<text x="424.10" y="484.20" font-size="5.2" font-weight="bold" text-anchor="middle" fill="#262626">10<tspan font-size="2.86" dx="0.5" dy="-1.66">−2</tspan></text>
<text x="437.14" y="484.20" font-size="5.2" font-weight="bold" text-anchor="middle" fill="#262626">10<tspan font-size="2.86" dx="0.5" dy="-1.66">−1</tspan></text>
<text x="450.18" y="484.20" font-size="5.2" font-weight="bold" text-anchor="middle" fill="#262626">10<tspan font-size="2.86" dx="0.5" dy="-1.66">0</tspan></text>
<text x="463.22" y="484.20" font-size="5.2" font-weight="bold" text-anchor="middle" fill="#262626">10<tspan font-size="2.86" dx="0.5" dy="-1.66">1</tspan></text>
<text x="476.26" y="484.20" font-size="5.2" font-weight="bold" text-anchor="middle" fill="#262626">10<tspan font-size="2.86" dx="0.5" dy="-1.66">2</tspan></text>
<text x="489.30" y="484.20" font-size="5.2" font-weight="bold" text-anchor="middle" fill="#262626">10<tspan font-size="2.86" dx="0.5" dy="-1.66">3</tspan></text>
<text x="502.34" y="484.20" font-size="5.2" font-weight="bold" text-anchor="middle" fill="#262626">10<tspan font-size="2.86" dx="0.5" dy="-1.66">4</tspan></text>
<text x="515.38" y="484.20" font-size="5.2" font-weight="bold" text-anchor="middle" fill="#262626">10<tspan font-size="2.86" dx="0.5" dy="-1.66">5</tspan></text>
<text x="458.50" y="494.80" font-size="6.6" text-anchor="middle" fill="#141414" textLength="72.6" lengthAdjust="spacingAndGlyphs" style="stroke:#141414;stroke-width:0.15">B7-H6/CD3 ITE (ng/mL)</text>
<text x="369.30" y="443.20" font-size="6.5" text-anchor="middle" fill="#141414" transform="rotate(-90 369.30 443.20)" textLength="18.0" lengthAdjust="spacingAndGlyphs" style="stroke:#141414;stroke-width:0.15">pg/mL</text>
<path d="M413.00,475.80 L425.80,475.80 L438.80,475.80 L452.00,475.80 L464.70,475.80 L477.90,475.80 L491.20,475.80 L503.70,475.80" stroke="#F2B070" stroke-width="0.6" fill="none" stroke-dasharray="0.9,0.9"/>
<path d="M452.00,472.40 L464.70,474.30 L477.90,475.20 L491.20,470.70 L503.70,466.40" stroke="#555" stroke-width="0.6" fill="none" stroke-dasharray="0.9,0.9"/>
<path d="M413.00,475.80 L425.80,475.80 L438.80,475.80 L452.00,475.80 L464.70,470.20 L477.90,461.10 L491.20,453.90 L503.70,450.80" stroke="#E8892A" stroke-width="0.7" fill="none"/>
<path d="M438.80,475.80 L452.00,439.00 L464.70,419.80 L477.90,417.80 L491.20,416.20 L503.70,407.50" stroke="#222" stroke-width="0.7" fill="none"/>
<line x1="401.00" y1="475.80" x2="406.00" y2="475.80" stroke="#E8892A" stroke-width="0.8"/>
<rect x="450.65" y="471.05" width="2.70" height="2.70" fill="#fff" stroke="#222" stroke-width="0.6"/>
<rect x="463.35" y="472.95" width="2.70" height="2.70" fill="#fff" stroke="#222" stroke-width="0.6"/>
<rect x="476.55" y="473.85" width="2.70" height="2.70" fill="#fff" stroke="#222" stroke-width="0.6"/>
<rect x="489.85" y="469.35" width="2.70" height="2.70" fill="#fff" stroke="#222" stroke-width="0.6"/>
<rect x="502.35" y="465.05" width="2.70" height="2.70" fill="#fff" stroke="#222" stroke-width="0.6"/>
<circle cx="413.00" cy="475.80" r="1.3" fill="#fff" stroke="#F2B070" stroke-width="0.6"/>
<circle cx="425.80" cy="475.80" r="1.3" fill="#fff" stroke="#F2B070" stroke-width="0.6"/>
<circle cx="438.80" cy="475.80" r="1.3" fill="#fff" stroke="#F2B070" stroke-width="0.6"/>
<circle cx="452.00" cy="475.80" r="1.3" fill="#fff" stroke="#F2B070" stroke-width="0.6"/>
<circle cx="464.70" cy="475.80" r="1.3" fill="#fff" stroke="#F2B070" stroke-width="0.6"/>
<circle cx="477.90" cy="475.80" r="1.3" fill="#fff" stroke="#F2B070" stroke-width="0.6"/>
<circle cx="491.20" cy="475.80" r="1.3" fill="#fff" stroke="#F2B070" stroke-width="0.6"/>
<circle cx="503.70" cy="475.80" r="1.3" fill="#fff" stroke="#F2B070" stroke-width="0.6"/>
<circle cx="413.00" cy="475.80" r="1.35" fill="#E8892A" stroke="#E8892A" stroke-width="0.6"/>
<circle cx="425.80" cy="475.80" r="1.35" fill="#E8892A" stroke="#E8892A" stroke-width="0.6"/>
<circle cx="438.80" cy="475.80" r="1.35" fill="#E8892A" stroke="#E8892A" stroke-width="0.6"/>
<circle cx="452.00" cy="475.80" r="1.35" fill="#E8892A" stroke="#E8892A" stroke-width="0.6"/>
<circle cx="464.70" cy="470.20" r="1.35" fill="#E8892A" stroke="#E8892A" stroke-width="0.6"/>
<circle cx="477.90" cy="461.10" r="1.35" fill="#E8892A" stroke="#E8892A" stroke-width="0.6"/>
<circle cx="491.20" cy="453.90" r="1.35" fill="#E8892A" stroke="#E8892A" stroke-width="0.6"/>
<circle cx="503.70" cy="450.80" r="1.35" fill="#E8892A" stroke="#E8892A" stroke-width="0.6"/>
<rect x="450.55" y="437.55" width="2.90" height="2.90" fill="#000" stroke="#000" stroke-width="0.6"/>
<rect x="463.25" y="418.35" width="2.90" height="2.90" fill="#000" stroke="#000" stroke-width="0.6"/>
<rect x="476.45" y="416.35" width="2.90" height="2.90" fill="#000" stroke="#000" stroke-width="0.6"/>
<rect x="489.75" y="414.75" width="2.90" height="2.90" fill="#000" stroke="#000" stroke-width="0.6"/>
<rect x="502.25" y="406.05" width="2.90" height="2.90" fill="#000" stroke="#000" stroke-width="0.6"/>
<rect x="411.65" y="474.45" width="2.70" height="2.70" fill="#E8892A" stroke="#E8892A" stroke-width="0.6"/>
<rect x="424.45" y="474.45" width="2.70" height="2.70" fill="#E8892A" stroke="#E8892A" stroke-width="0.6"/>
<rect x="437.45" y="474.45" width="2.70" height="2.70" fill="#E8892A" stroke="#E8892A" stroke-width="0.6"/>
<circle cx="401.20" cy="475.80" r="1.6" fill="#E8892A" stroke="#E8892A" stroke-width="0.6"/>
<line x1="491.20" y1="413.50" x2="491.20" y2="419.50" stroke="#222" stroke-width="0.5"/>
<line x1="490.20" y1="413.50" x2="492.20" y2="413.50" stroke="#222" stroke-width="0.5"/>
<line x1="490.20" y1="419.50" x2="492.20" y2="419.50" stroke="#222" stroke-width="0.5"/>
<line x1="503.70" y1="405.50" x2="503.70" y2="410.00" stroke="#222" stroke-width="0.5"/>
<line x1="502.70" y1="405.50" x2="504.70" y2="405.50" stroke="#222" stroke-width="0.5"/>
<line x1="502.70" y1="410.00" x2="504.70" y2="410.00" stroke="#222" stroke-width="0.5"/>
<line x1="503.70" y1="447.50" x2="503.70" y2="454.00" stroke="#E8892A" stroke-width="0.5"/>
<line x1="502.70" y1="447.50" x2="504.70" y2="447.50" stroke="#E8892A" stroke-width="0.5"/>
<line x1="502.70" y1="454.00" x2="504.70" y2="454.00" stroke="#E8892A" stroke-width="0.5"/>
<line x1="415.70" y1="507.40" x2="434.20" y2="507.40" stroke="#E8892A" stroke-width="0.7"/>
<circle cx="425.00" cy="507.40" r="1.2" fill="#E8892A" stroke="#E8892A" stroke-width="0.6"/>
<line x1="415.70" y1="517.30" x2="434.20" y2="517.30" stroke="#222" stroke-width="0.7"/>
<circle cx="425.00" cy="517.30" r="1.3" fill="#000" stroke="#000" stroke-width="0.6"/>
<line x1="415.70" y1="538.80" x2="434.20" y2="538.80" stroke="#F2B070" stroke-width="0.6" stroke-dasharray="0.9,0.9"/>
<circle cx="425.00" cy="538.80" r="1.3" fill="#fff" stroke="#F2B070" stroke-width="0.6"/>
<line x1="415.70" y1="548.50" x2="434.20" y2="548.50" stroke="#444" stroke-width="0.6" stroke-dasharray="0.9,0.9"/>
<rect x="423.80" y="547.30" width="2.40" height="2.40" fill="#fff" stroke="#222" stroke-width="0.6"/>
<text x="437.60" y="509.70" font-size="6.5" fill="#141414" style="stroke:#141414;stroke-width:0.15">IL2</text>
<text x="437.60" y="519.60" font-size="6.5" fill="#141414" style="stroke:#141414;stroke-width:0.15">IFNγ</text>
<text x="437.60" y="541.10" font-size="6.5" fill="#141414" style="stroke:#141414;stroke-width:0.15">IL2</text>
<text x="437.60" y="550.80" font-size="6.5" fill="#141414" style="stroke:#141414;stroke-width:0.15">IFNγ</text>
<path d="M453.60,503.00 L455.80,503.00 L455.80,522.00 L453.60,522.00" stroke="#222" stroke-width="0.9" fill="none"/>
<path d="M453.60,533.50 L455.80,533.50 L455.80,554.20 L453.60,554.20" stroke="#222" stroke-width="0.9" fill="none"/>
<text x="461.20" y="509.00" font-size="6.5" fill="#141414" textLength="19.5" lengthAdjust="spacingAndGlyphs" style="stroke:#141414;stroke-width:0.15">HCT-15</text>
<text x="461.20" y="516.60" font-size="6.5" fill="#141414" textLength="44.5" lengthAdjust="spacingAndGlyphs" style="stroke:#141414;stroke-width:0.15">(B7-H6 positive)</text>
<text x="461.20" y="537.40" font-size="6.5" fill="#141414" textLength="24.0" lengthAdjust="spacingAndGlyphs" style="stroke:#141414;stroke-width:0.15">CHO-3E7</text>
<text x="461.20" y="544.80" font-size="6.5" fill="#141414" textLength="49.6" lengthAdjust="spacingAndGlyphs" style="stroke:#141414;stroke-width:0.15">(B7-H6 negative)</text>
<text x="0.60" y="622.30" font-size="16.0" font-weight="bold" fill="#111" style="stroke:#111;stroke-width:0.45">M</text>
<text x="23.20" y="624.00" font-size="5.9" font-weight="bold" fill="#141414" textLength="42.3" lengthAdjust="spacingAndGlyphs" style="stroke:#141414;stroke-width:0.15">B7-H6/CD3 ITE</text>
<text x="45.20" y="645.30" font-size="5.9" font-weight="bold" text-anchor="middle" fill="#141414" style="stroke:#141414;stroke-width:0.15">HCT-15</text>
<text x="23.20" y="653.30" font-size="5.9" font-weight="bold" fill="#141414" textLength="43.8" lengthAdjust="spacingAndGlyphs" style="stroke:#141414;stroke-width:0.15">(B7-H6 positive</text>
<text x="45.20" y="686.60" font-size="5.9" font-weight="bold" text-anchor="middle" fill="#141414" style="stroke:#141414;stroke-width:0.15">CHO-3E7</text>
<text x="21.30" y="695.30" font-size="5.9" font-weight="bold" fill="#141414" textLength="46.8" lengthAdjust="spacingAndGlyphs" style="stroke:#141414;stroke-width:0.15">(B7-H6 negative)</text>
<text x="142.90" y="624.20" font-size="5.6" font-weight="bold" text-anchor="middle" fill="#141414" textLength="25.5" lengthAdjust="spacingAndGlyphs" style="stroke:#141414;stroke-width:0.15">15 ng/mL</text>
<text x="228.00" y="624.20" font-size="5.6" font-weight="bold" text-anchor="middle" fill="#141414" textLength="27.9" lengthAdjust="spacingAndGlyphs" style="stroke:#141414;stroke-width:0.15">1.9 ng/mL</text>
<text x="313.30" y="624.20" font-size="5.6" font-weight="bold" text-anchor="middle" fill="#141414" textLength="38.0" lengthAdjust="spacingAndGlyphs" style="stroke:#141414;stroke-width:0.15">0.0002 ng/mL</text>
<text x="395.70" y="624.20" font-size="5.6" font-weight="bold" text-anchor="middle" fill="#141414" textLength="10.6" lengthAdjust="spacingAndGlyphs" style="stroke:#141414;stroke-width:0.15">w/o</text>
<line x1="99.80" y1="660.60" x2="128.50" y2="660.60" stroke="#444" stroke-width="0.6"/>
<line x1="100.10" y1="659.40" x2="100.10" y2="661.80" stroke="#444" stroke-width="0.6"/>
<line x1="185.00" y1="660.10" x2="226.00" y2="660.10" stroke="#444" stroke-width="0.6"/>
<line x1="185.30" y1="658.90" x2="185.30" y2="661.30" stroke="#444" stroke-width="0.6"/>
<line x1="269.60" y1="660.00" x2="333.50" y2="660.00" stroke="#444" stroke-width="0.6"/>
<line x1="269.90" y1="658.80" x2="269.90" y2="661.20" stroke="#444" stroke-width="0.6"/>
<line x1="333.50" y1="658.80" x2="333.50" y2="661.20" stroke="#444" stroke-width="0.6"/>
<line x1="353.80" y1="660.00" x2="417.30" y2="660.00" stroke="#444" stroke-width="0.6"/>
<line x1="354.10" y1="658.80" x2="354.10" y2="661.20" stroke="#444" stroke-width="0.6"/>
<line x1="417.30" y1="658.80" x2="417.30" y2="661.20" stroke="#444" stroke-width="0.6"/>
<line x1="99.80" y1="704.20" x2="161.90" y2="704.20" stroke="#444" stroke-width="0.6"/>
<line x1="100.10" y1="703.00" x2="100.10" y2="705.40" stroke="#444" stroke-width="0.6"/>
<line x1="161.90" y1="703.00" x2="161.90" y2="705.40" stroke="#444" stroke-width="0.6"/>
<line x1="185.00" y1="704.30" x2="246.30" y2="704.30" stroke="#444" stroke-width="0.6"/>
<line x1="185.30" y1="703.10" x2="185.30" y2="705.50" stroke="#444" stroke-width="0.6"/>
<line x1="246.30" y1="703.10" x2="246.30" y2="705.50" stroke="#444" stroke-width="0.6"/>
<line x1="269.60" y1="704.30" x2="331.80" y2="704.30" stroke="#444" stroke-width="0.6"/>
<line x1="269.90" y1="703.10" x2="269.90" y2="705.50" stroke="#444" stroke-width="0.6"/>
<line x1="331.80" y1="703.10" x2="331.80" y2="705.50" stroke="#444" stroke-width="0.6"/>
<line x1="353.80" y1="704.30" x2="415.60" y2="704.30" stroke="#444" stroke-width="0.6"/>
<line x1="354.10" y1="703.10" x2="354.10" y2="705.50" stroke="#444" stroke-width="0.6"/>
<line x1="415.60" y1="703.10" x2="415.60" y2="705.50" stroke="#444" stroke-width="0.6"/>
<path d="M122.40,670.40 C122.97,669.78 124.78,668.32 125.80,666.70 C126.82,665.08 127.72,662.08 128.50,660.70 C129.28,659.32 129.83,658.85 130.50,658.40 C131.17,657.95 131.95,658.75 132.50,658.00 C133.05,657.25 133.35,656.03 133.80,653.90 C134.25,651.77 134.78,646.88 135.20,645.20 C135.62,643.52 135.82,643.85 136.30,643.80 C136.78,643.75 137.62,644.10 138.10,644.90 C138.58,645.70 138.78,649.22 139.20,648.60 C139.62,647.98 140.03,644.02 140.60,641.20 C141.17,638.38 142.05,632.95 142.60,631.70 C143.15,630.45 143.38,631.23 143.90,633.70 C144.42,636.17 145.13,643.92 145.70,646.50 C146.27,649.08 146.82,650.53 147.30,649.20 C147.78,647.87 148.15,640.73 148.60,638.50 C149.05,636.27 149.55,635.92 150.00,635.80 C150.45,635.68 150.85,635.12 151.30,637.80 C151.75,640.48 152.25,648.87 152.70,651.90 C153.15,654.93 153.45,656.90 154.00,656.00 C154.55,655.10 155.50,648.18 156.00,646.50 C156.50,644.82 156.55,645.00 157.00,645.90 C157.45,646.80 158.07,649.55 158.70,651.90 C159.33,654.25 160.12,660.00 160.80,660.00 C161.48,660.00 162.32,653.37 162.80,651.90 C163.28,650.43 163.32,650.52 163.70,651.20 C164.08,651.88 164.58,653.63 165.10,656.00 C165.62,658.37 166.18,665.40 166.80,665.40 C167.42,665.40 168.23,658.13 168.80,656.00 C169.37,653.87 169.75,652.60 170.20,652.60 C170.65,652.60 171.05,653.87 171.50,656.00 C171.95,658.13 172.45,663.00 172.90,665.40 C173.35,667.80 173.98,669.57 174.20,670.40 Z" fill="#000"/>
<path d="M209.90,670.40 C210.78,670.15 213.62,669.75 215.20,668.90 C216.78,668.05 218.27,666.35 219.40,665.30 C220.53,664.25 221.12,662.95 222.00,662.60 C222.88,662.25 223.90,663.90 224.70,663.20 C225.50,662.50 226.10,659.73 226.80,658.40 C227.50,657.07 228.18,655.20 228.90,655.20 C229.62,655.20 230.50,657.52 231.10,658.40 C231.70,659.28 231.80,661.28 232.50,660.50 C233.20,659.72 234.38,653.70 235.30,653.70 C236.22,653.70 236.95,660.25 238.00,660.50 C239.05,660.75 240.47,654.85 241.60,655.20 C242.73,655.55 243.73,662.60 244.80,662.60 C245.87,662.60 246.93,655.02 248.00,655.20 C249.07,655.38 250.43,663.40 251.20,663.70 C251.97,664.00 252.15,660.28 252.60,657.00 C253.05,653.72 253.43,648.12 253.90,644.00 C254.37,639.88 254.90,632.30 255.40,632.30 C255.90,632.30 256.43,639.38 256.90,644.00 C257.37,648.62 257.87,656.08 258.20,660.00 C258.53,663.92 258.60,665.77 258.90,667.50 C259.20,669.23 259.82,669.92 260.00,670.40 Z" fill="#000"/>
<path d="M166.29,713.00 L166.29,712.97 L166.75,712.91 L167.21,712.74 L167.67,712.34 L168.13,711.44 L168.59,709.70 L169.05,706.67 L169.50,702.01 L169.96,695.74 L170.42,688.48 L170.88,681.50 L171.34,676.38 L171.80,674.50 L172.26,676.38 L172.72,681.50 L173.18,688.48 L173.64,695.74 L174.10,702.01 L174.56,706.67 L175.01,709.70 L175.47,711.44 L175.93,712.34 L176.39,712.74 L176.85,712.91 L177.31,712.97 Z" fill="#000"/>
<path d="M250.49,713.00 L250.49,712.97 L250.95,712.91 L251.41,712.74 L251.87,712.33 L252.33,711.42 L252.79,709.66 L253.25,706.59 L253.70,701.87 L254.16,695.52 L254.62,688.16 L255.08,681.09 L255.54,675.91 L256.00,674.00 L256.46,675.91 L256.92,681.09 L257.38,688.16 L257.84,695.52 L258.30,701.87 L258.75,706.59 L259.21,709.66 L259.67,711.42 L260.13,712.33 L260.59,712.74 L261.05,712.91 L261.51,712.97 Z" fill="#000"/>
<path d="M335.39,670.40 L335.39,670.37 L335.85,670.31 L336.31,670.15 L336.77,669.74 L337.23,668.86 L337.69,667.13 L338.14,664.13 L338.60,659.52 L339.06,653.32 L339.52,646.14 L339.98,639.22 L340.44,634.16 L340.90,632.30 L341.36,634.16 L341.82,639.22 L342.28,646.14 L342.74,653.32 L343.20,659.52 L343.65,664.13 L344.11,667.13 L344.57,668.86 L345.03,669.74 L345.49,670.15 L345.95,670.31 L346.41,670.37 Z" fill="#000"/>
<path d="M335.39,713.00 L335.39,712.97 L335.85,712.91 L336.31,712.74 L336.77,712.31 L337.23,711.39 L337.69,709.59 L338.14,706.45 L338.60,701.64 L339.06,695.16 L339.52,687.65 L339.98,680.43 L340.44,675.15 L340.90,673.20 L341.36,675.15 L341.82,680.43 L342.28,687.65 L342.74,695.16 L343.20,701.64 L343.65,706.45 L344.11,709.59 L344.57,711.39 L345.03,712.31 L345.49,712.74 L345.95,712.91 L346.41,712.97 Z" fill="#000"/>
<path d="M419.39,670.40 L419.39,670.37 L419.85,670.31 L420.31,670.15 L420.77,669.74 L421.23,668.86 L421.69,667.13 L422.14,664.13 L422.60,659.52 L423.06,653.32 L423.52,646.14 L423.98,639.22 L424.44,634.16 L424.90,632.30 L425.36,634.16 L425.82,639.22 L426.28,646.14 L426.74,653.32 L427.20,659.52 L427.65,664.13 L428.11,667.13 L428.57,668.86 L429.03,669.74 L429.49,670.15 L429.95,670.31 L430.41,670.37 Z" fill="#000"/>
<path d="M419.39,713.00 L419.39,712.97 L419.85,712.91 L420.31,712.74 L420.77,712.33 L421.23,711.44 L421.69,709.68 L422.14,706.63 L422.60,701.95 L423.06,695.65 L423.52,688.35 L423.98,681.33 L424.44,676.19 L424.90,674.30 L425.36,676.19 L425.82,681.33 L426.28,688.35 L426.74,695.65 L427.20,701.95 L427.65,706.63 L428.11,709.68 L428.57,711.44 L429.03,712.33 L429.49,712.74 L429.95,712.91 L430.41,712.97 Z" fill="#000"/>
<rect x="120.30" y="711.90" width="2.4" height="0.9" fill="#222"/>
<rect x="299.80" y="669.30" width="2.4" height="0.9" fill="#222"/>
<rect x="384.80" y="669.30" width="2.4" height="0.9" fill="#222"/>
<rect x="286.80" y="711.90" width="2.4" height="0.9" fill="#222"/>
<rect x="370.30" y="711.90" width="2.4" height="0.9" fill="#222"/>
<rect x="202.30" y="711.90" width="2.4" height="0.9" fill="#222"/>
<line x1="99.30" y1="628.50" x2="437.50" y2="628.50" stroke="#333" stroke-width="0.7"/>
<line x1="99.30" y1="670.40" x2="437.50" y2="670.40" stroke="#555" stroke-width="0.8"/>
<line x1="99.30" y1="713.00" x2="437.50" y2="713.00" stroke="#333" stroke-width="0.9"/>
<line x1="99.30" y1="628.50" x2="99.30" y2="713.00" stroke="#333" stroke-width="0.7"/>
<line x1="184.40" y1="628.50" x2="184.40" y2="713.00" stroke="#333" stroke-width="0.7"/>
<line x1="268.90" y1="628.50" x2="268.90" y2="713.00" stroke="#333" stroke-width="0.7"/>
<line x1="353.30" y1="628.50" x2="353.30" y2="713.00" stroke="#333" stroke-width="0.7"/>
<line x1="437.50" y1="628.50" x2="437.50" y2="713.00" stroke="#333" stroke-width="0.7"/>
<line x1="97.70" y1="631.90" x2="99.30" y2="631.90" stroke="#333" stroke-width="0.6"/>
<text x="97.00" y="634.00" font-size="5.9" text-anchor="end" fill="#141414" style="stroke:#141414;stroke-width:0.15">100</text>
<line x1="97.70" y1="639.30" x2="99.30" y2="639.30" stroke="#333" stroke-width="0.6"/>
<text x="97.00" y="641.40" font-size="5.9" text-anchor="end" fill="#141414" style="stroke:#141414;stroke-width:0.15">80</text>
<line x1="97.70" y1="646.90" x2="99.30" y2="646.90" stroke="#333" stroke-width="0.6"/>
<text x="97.00" y="649.00" font-size="5.9" text-anchor="end" fill="#141414" style="stroke:#141414;stroke-width:0.15">60</text>
<line x1="97.70" y1="654.60" x2="99.30" y2="654.60" stroke="#333" stroke-width="0.6"/>
<text x="97.00" y="656.70" font-size="5.9" text-anchor="end" fill="#141414" style="stroke:#141414;stroke-width:0.15">40</text>
<line x1="97.70" y1="662.30" x2="99.30" y2="662.30" stroke="#333" stroke-width="0.6"/>
<text x="97.00" y="664.40" font-size="5.9" text-anchor="end" fill="#141414" style="stroke:#141414;stroke-width:0.15">20</text>
<line x1="97.70" y1="668.20" x2="99.30" y2="668.20" stroke="#333" stroke-width="0.6"/>
<text x="97.00" y="670.30" font-size="5.9" text-anchor="end" fill="#141414" style="stroke:#141414;stroke-width:0.15">0</text>
<line x1="97.70" y1="674.40" x2="99.30" y2="674.40" stroke="#333" stroke-width="0.6"/>
<text x="97.00" y="676.50" font-size="5.9" text-anchor="end" fill="#141414" style="stroke:#141414;stroke-width:0.15">100</text>
<line x1="97.70" y1="681.60" x2="99.30" y2="681.60" stroke="#333" stroke-width="0.6"/>
<text x="97.00" y="683.70" font-size="5.9" text-anchor="end" fill="#141414" style="stroke:#141414;stroke-width:0.15">80</text>
<line x1="97.70" y1="688.90" x2="99.30" y2="688.90" stroke="#333" stroke-width="0.6"/>
<text x="97.00" y="691.00" font-size="5.9" text-anchor="end" fill="#141414" style="stroke:#141414;stroke-width:0.15">60</text>
<line x1="97.70" y1="696.90" x2="99.30" y2="696.90" stroke="#333" stroke-width="0.6"/>
<text x="97.00" y="699.00" font-size="5.9" text-anchor="end" fill="#141414" style="stroke:#141414;stroke-width:0.15">40</text>
<line x1="97.70" y1="704.20" x2="99.30" y2="704.20" stroke="#333" stroke-width="0.6"/>
<text x="97.00" y="706.30" font-size="5.9" text-anchor="end" fill="#141414" style="stroke:#141414;stroke-width:0.15">20</text>
<line x1="97.70" y1="710.40" x2="99.30" y2="710.40" stroke="#333" stroke-width="0.6"/>
<text x="97.00" y="712.50" font-size="5.9" text-anchor="end" fill="#141414" style="stroke:#141414;stroke-width:0.15">0</text>
<text x="81.20" y="648.80" font-size="6.0" text-anchor="middle" fill="#141414" transform="rotate(-90 81.20 648.80)" textLength="16.5" lengthAdjust="spacingAndGlyphs" style="stroke:#141414;stroke-width:0.15">Modal</text>
<text x="81.20" y="692.00" font-size="6.0" text-anchor="middle" fill="#141414" transform="rotate(-90 81.20 692.00)" textLength="16.5" lengthAdjust="spacingAndGlyphs" style="stroke:#141414;stroke-width:0.15">Modal</text>
<text x="102.70" y="654.60" font-size="8.3" fill="#222" textLength="23.6" lengthAdjust="spacingAndGlyphs" style="stroke:#222;stroke-width:0.15">88.7%</text>
<text x="189.60" y="654.40" font-size="8.3" fill="#222" textLength="24.0" lengthAdjust="spacingAndGlyphs" style="stroke:#222;stroke-width:0.15">64.2%</text>
<text x="275.40" y="653.80" font-size="8.3" fill="#222" textLength="19.7" lengthAdjust="spacingAndGlyphs" style="stroke:#222;stroke-width:0.15">2.0%</text>
<text x="359.20" y="653.80" font-size="8.3" fill="#222" textLength="20.0" lengthAdjust="spacingAndGlyphs" style="stroke:#222;stroke-width:0.15">2.4%</text>
<text x="105.20" y="698.60" font-size="8.3" fill="#222" textLength="19.0" lengthAdjust="spacingAndGlyphs" style="stroke:#222;stroke-width:0.15">0.1%</text>
<text x="190.60" y="698.60" font-size="8.3" fill="#222" textLength="19.0" lengthAdjust="spacingAndGlyphs" style="stroke:#222;stroke-width:0.15">0.1%</text>
<text x="275.40" y="698.60" font-size="8.3" fill="#222" textLength="19.0" lengthAdjust="spacingAndGlyphs" style="stroke:#222;stroke-width:0.15">0.1%</text>
<text x="359.20" y="698.60" font-size="8.3" fill="#222" textLength="19.2" lengthAdjust="spacingAndGlyphs" style="stroke:#222;stroke-width:0.15">0.0%</text>
<line x1="108.10" y1="713.00" x2="108.10" y2="714.80" stroke="#333" stroke-width="0.6"/>
<text x="107.30" y="722.6" font-size="5.6" text-anchor="middle" fill="#222">−10<tspan font-size="4.3" dy="-3.6">3</tspan></text>
<line x1="119.30" y1="713.00" x2="119.30" y2="714.80" stroke="#333" stroke-width="0.6"/>
<text x="118.50" y="722.60" font-size="5.6" text-anchor="middle" fill="#222" style="stroke:#222;stroke-width:0.15">0</text>
<line x1="136.60" y1="713.00" x2="136.60" y2="714.80" stroke="#333" stroke-width="0.6"/>
<text x="135.80" y="722.6" font-size="5.6" text-anchor="middle" fill="#222">10<tspan font-size="4.3" dy="-3.6">3</tspan></text>
<line x1="159.80" y1="713.00" x2="159.80" y2="714.80" stroke="#333" stroke-width="0.6"/>
<text x="159.00" y="722.6" font-size="5.6" text-anchor="middle" fill="#222">10<tspan font-size="4.3" dy="-3.6">4</tspan></text>
<line x1="180.60" y1="713.00" x2="180.60" y2="714.80" stroke="#333" stroke-width="0.6"/>
<text x="179.80" y="722.6" font-size="5.6" text-anchor="middle" fill="#222">10<tspan font-size="4.3" dy="-3.6">5</tspan></text>
<line x1="192.70" y1="713.00" x2="192.70" y2="714.80" stroke="#333" stroke-width="0.6"/>
<text x="191.90" y="722.6" font-size="5.6" text-anchor="middle" fill="#222">−10<tspan font-size="4.3" dy="-3.6">3</tspan></text>
<line x1="204.80" y1="713.00" x2="204.80" y2="714.80" stroke="#333" stroke-width="0.6"/>
<text x="204.00" y="722.60" font-size="5.6" text-anchor="middle" fill="#222" style="stroke:#222;stroke-width:0.15">0</text>
<line x1="222.10" y1="713.00" x2="222.10" y2="714.80" stroke="#333" stroke-width="0.6"/>
<text x="221.30" y="722.6" font-size="5.6" text-anchor="middle" fill="#222">10<tspan font-size="4.3" dy="-3.6">3</tspan></text>
<line x1="243.90" y1="713.00" x2="243.90" y2="714.80" stroke="#333" stroke-width="0.6"/>
<text x="243.10" y="722.6" font-size="5.6" text-anchor="middle" fill="#222">10<tspan font-size="4.3" dy="-3.6">4</tspan></text>
<line x1="265.40" y1="713.00" x2="265.40" y2="714.80" stroke="#333" stroke-width="0.6"/>
<text x="264.60" y="722.6" font-size="5.6" text-anchor="middle" fill="#222">10<tspan font-size="4.3" dy="-3.6">5</tspan></text>
<line x1="277.90" y1="713.00" x2="277.90" y2="714.80" stroke="#333" stroke-width="0.6"/>
<text x="277.10" y="722.6" font-size="5.6" text-anchor="middle" fill="#222">−10<tspan font-size="4.3" dy="-3.6">3</tspan></text>
<line x1="289.30" y1="713.00" x2="289.30" y2="714.80" stroke="#333" stroke-width="0.6"/>
<text x="288.50" y="722.60" font-size="5.6" text-anchor="middle" fill="#222" style="stroke:#222;stroke-width:0.15">0</text>
<line x1="306.60" y1="713.00" x2="306.60" y2="714.80" stroke="#333" stroke-width="0.6"/>
<text x="305.80" y="722.6" font-size="5.6" text-anchor="middle" fill="#222">10<tspan font-size="4.3" dy="-3.6">3</tspan></text>
<line x1="329.80" y1="713.00" x2="329.80" y2="714.80" stroke="#333" stroke-width="0.6"/>
<text x="329.00" y="722.6" font-size="5.6" text-anchor="middle" fill="#222">10<tspan font-size="4.3" dy="-3.6">4</tspan></text>
<line x1="350.60" y1="713.00" x2="350.60" y2="714.80" stroke="#333" stroke-width="0.6"/>
<text x="349.80" y="722.6" font-size="5.6" text-anchor="middle" fill="#222">10<tspan font-size="4.3" dy="-3.6">5</tspan></text>
<line x1="362.70" y1="713.00" x2="362.70" y2="714.80" stroke="#333" stroke-width="0.6"/>
<text x="361.90" y="722.6" font-size="5.6" text-anchor="middle" fill="#222">−10<tspan font-size="4.3" dy="-3.6">3</tspan></text>
<line x1="373.10" y1="713.00" x2="373.10" y2="714.80" stroke="#333" stroke-width="0.6"/>
<text x="372.30" y="722.60" font-size="5.6" text-anchor="middle" fill="#222" style="stroke:#222;stroke-width:0.15">0</text>
<line x1="390.40" y1="713.00" x2="390.40" y2="714.80" stroke="#333" stroke-width="0.6"/>
<text x="389.60" y="722.6" font-size="5.6" text-anchor="middle" fill="#222">10<tspan font-size="4.3" dy="-3.6">3</tspan></text>
<line x1="412.90" y1="713.00" x2="412.90" y2="714.80" stroke="#333" stroke-width="0.6"/>
<text x="412.10" y="722.6" font-size="5.6" text-anchor="middle" fill="#222">10<tspan font-size="4.3" dy="-3.6">4</tspan></text>
<line x1="434.40" y1="713.00" x2="434.40" y2="714.80" stroke="#333" stroke-width="0.6"/>
<text x="433.60" y="722.6" font-size="5.6" text-anchor="middle" fill="#222">10<tspan font-size="4.3" dy="-3.6">5</tspan></text>
<text x="141.60" y="730.70" font-size="5.6" font-weight="bold" text-anchor="middle" fill="#141414" textLength="35.6" lengthAdjust="spacingAndGlyphs" style="stroke:#141414;stroke-width:0.15">Comp-FITC-A</text>
<text x="226.30" y="730.70" font-size="5.6" font-weight="bold" text-anchor="middle" fill="#141414" textLength="35.6" lengthAdjust="spacingAndGlyphs" style="stroke:#141414;stroke-width:0.15">Comp-FITC-A</text>
<text x="310.90" y="730.70" font-size="5.6" font-weight="bold" text-anchor="middle" fill="#141414" textLength="35.6" lengthAdjust="spacingAndGlyphs" style="stroke:#141414;stroke-width:0.15">Comp-FITC-A</text>
<text x="395.50" y="730.70" font-size="5.6" font-weight="bold" text-anchor="middle" fill="#141414" textLength="35.6" lengthAdjust="spacingAndGlyphs" style="stroke:#141414;stroke-width:0.15">Comp-FITC-A</text>
</svg>
</body></html>
